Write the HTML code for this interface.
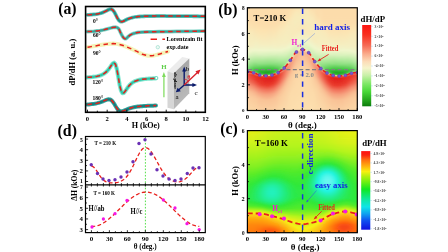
<!DOCTYPE html>
<html><head><meta charset="utf-8"><title>figure</title>
<style>
html,body{margin:0;padding:0;background:#fff;}
body{width:448px;height:252px;overflow:hidden;}
svg{display:block;}
text{font-family:"Liberation Serif",serif;font-weight:bold;fill:#000;}
.t{font-size:6.5px;}
.s{font-size:5px;}
.ax{font-size:8px;}
.pl{font-size:15.8px;}
</style></head><body>
<svg width="448" height="252" viewBox="0 0 448 252">
<defs>
<filter id="hx" x="-5%" y="-5%" width="110%" height="110%"><feGaussianBlur stdDeviation="1.3 0.4"/></filter>
<clipPath id="cb"><rect x="247.4" y="7.75" width="109.9" height="102.75"/></clipPath>
<clipPath id="cc"><rect x="247.4" y="130.6" width="109.9" height="102.1"/></clipPath>
<linearGradient id="gs" x1="0" y1="0" x2="0.3" y2="1"><stop offset="0" stop-color="#a0a0a0"/><stop offset="1" stop-color="#bcbcbc"/></linearGradient>
<linearGradient id="gb" x1="0" y1="0" x2="0" y2="1">
<stop offset="0" stop-color="#fc1410"/><stop offset="0.12" stop-color="#f8301f"/><stop offset="0.25" stop-color="#f66a54"/><stop offset="0.35" stop-color="#faa888"/>
<stop offset="0.45" stop-color="#fcdcb8"/><stop offset="0.53" stop-color="#f6f4cc"/><stop offset="0.62" stop-color="#c8f0a8"/><stop offset="0.72" stop-color="#80e868"/>
<stop offset="0.82" stop-color="#48d838"/><stop offset="0.92" stop-color="#26a81e"/><stop offset="1" stop-color="#0c7c0c"/>
</linearGradient>
<linearGradient id="gc" x1="0" y1="0" x2="0" y2="1">
<stop offset="0" stop-color="#ff1010"/><stop offset="0.05" stop-color="#fa2410"/><stop offset="0.11" stop-color="#ff6c10"/><stop offset="0.195" stop-color="#ffb410"/>
<stop offset="0.26" stop-color="#f8f010"/><stop offset="0.32" stop-color="#b4f010"/><stop offset="0.39" stop-color="#70f010"/><stop offset="0.485" stop-color="#10e820"/>
<stop offset="0.615" stop-color="#10e8a0"/><stop offset="0.71" stop-color="#10e4e8"/><stop offset="0.8" stop-color="#10a0f0"/><stop offset="0.885" stop-color="#1050f0"/><stop offset="1" stop-color="#1010e0"/>
</linearGradient>
<linearGradient id="p0" x1="0" y1="0" x2="0" y2="1"><stop offset="0" stop-color="#fcdcab"/><stop offset="0.134" stop-color="#fcddac"/><stop offset="0.242" stop-color="#f9e9b9"/><stop offset="0.362" stop-color="#f6edc0"/><stop offset="0.43" stop-color="#f0f5cb"/><stop offset="0.463" stop-color="#e1f3c1"/><stop offset="0.51" stop-color="#c3eeac"/><stop offset="0.584" stop-color="#86dd7a"/><stop offset="0.591" stop-color="#85dd79"/><stop offset="0.604" stop-color="#91e184"/><stop offset="0.611" stop-color="#aee99c"/><stop offset="0.617" stop-color="#f9e8b8"/><stop offset="0.624" stop-color="#f69d7c"/><stop offset="0.631" stop-color="#f2775f"/><stop offset="0.638" stop-color="#ef624e"/><stop offset="0.644" stop-color="#ee5442"/><stop offset="0.678" stop-color="#ef614d"/><stop offset="0.711" stop-color="#f2775f"/><stop offset="0.752" stop-color="#f69c7b"/><stop offset="0.805" stop-color="#f9c095"/><stop offset="0.866" stop-color="#facea0"/><stop offset="1" stop-color="#fcd9a9"/></linearGradient><linearGradient id="p1" x1="0" y1="0" x2="0" y2="1"><stop offset="0" stop-color="#fcdcab"/><stop offset="0.134" stop-color="#fcddac"/><stop offset="0.242" stop-color="#f9e9b9"/><stop offset="0.362" stop-color="#f6edc0"/><stop offset="0.43" stop-color="#f0f5cb"/><stop offset="0.463" stop-color="#e1f3c1"/><stop offset="0.51" stop-color="#c3eeac"/><stop offset="0.584" stop-color="#86dd7a"/><stop offset="0.591" stop-color="#85dd79"/><stop offset="0.604" stop-color="#91e184"/><stop offset="0.611" stop-color="#aee99c"/><stop offset="0.617" stop-color="#f9e8b8"/><stop offset="0.624" stop-color="#f69d7c"/><stop offset="0.631" stop-color="#f2775f"/><stop offset="0.638" stop-color="#ef624e"/><stop offset="0.644" stop-color="#ee5442"/><stop offset="0.678" stop-color="#ef614d"/><stop offset="0.711" stop-color="#f2775f"/><stop offset="0.752" stop-color="#f69c7b"/><stop offset="0.805" stop-color="#f9c095"/><stop offset="0.866" stop-color="#facea0"/><stop offset="1" stop-color="#fcd9a9"/></linearGradient><linearGradient id="p2" x1="0" y1="0" x2="0" y2="1"><stop offset="0" stop-color="#fcdcab"/><stop offset="0.134" stop-color="#fcddac"/><stop offset="0.242" stop-color="#f9e9b9"/><stop offset="0.362" stop-color="#f6edc0"/><stop offset="0.43" stop-color="#f0f6cc"/><stop offset="0.463" stop-color="#dff3c0"/><stop offset="0.51" stop-color="#bfeda9"/><stop offset="0.591" stop-color="#7ad971"/><stop offset="0.604" stop-color="#8ade7d"/><stop offset="0.611" stop-color="#9be38c"/><stop offset="0.617" stop-color="#f2f2c7"/><stop offset="0.624" stop-color="#f8b089"/><stop offset="0.631" stop-color="#f2775f"/><stop offset="0.644" stop-color="#ed4f3d"/><stop offset="0.678" stop-color="#ef5c48"/><stop offset="0.711" stop-color="#f2725b"/><stop offset="0.752" stop-color="#f69778"/><stop offset="0.812" stop-color="#f9c195"/><stop offset="0.866" stop-color="#facd9f"/><stop offset="1" stop-color="#fcd9a9"/></linearGradient><linearGradient id="p3" x1="0" y1="0" x2="0" y2="1"><stop offset="0" stop-color="#fcdcab"/><stop offset="0.134" stop-color="#fcddac"/><stop offset="0.188" stop-color="#fde2b0"/><stop offset="0.248" stop-color="#f9e9b9"/><stop offset="0.369" stop-color="#f5eec1"/><stop offset="0.423" stop-color="#f0f6cc"/><stop offset="0.463" stop-color="#dbf2bd"/><stop offset="0.517" stop-color="#b3eaa0"/><stop offset="0.564" stop-color="#8adf7e"/><stop offset="0.591" stop-color="#68d362"/><stop offset="0.611" stop-color="#7edb74"/><stop offset="0.617" stop-color="#c1eeaa"/><stop offset="0.624" stop-color="#fbd2a3"/><stop offset="0.631" stop-color="#f27960"/><stop offset="0.644" stop-color="#ec4c3b"/><stop offset="0.651" stop-color="#ec4636"/><stop offset="0.685" stop-color="#ee5442"/><stop offset="0.718" stop-color="#f16c56"/><stop offset="0.758" stop-color="#f59476"/><stop offset="0.805" stop-color="#f8b98f"/><stop offset="0.826" stop-color="#f9c296"/><stop offset="0.866" stop-color="#facc9e"/><stop offset="1" stop-color="#fcd8a8"/></linearGradient><linearGradient id="p4" x1="0" y1="0" x2="0" y2="1"><stop offset="0" stop-color="#fcdcab"/><stop offset="0.141" stop-color="#fcddac"/><stop offset="0.188" stop-color="#fde1b0"/><stop offset="0.248" stop-color="#f9e9b9"/><stop offset="0.369" stop-color="#f5efc2"/><stop offset="0.416" stop-color="#f0f6cc"/><stop offset="0.463" stop-color="#d7f1ba"/><stop offset="0.517" stop-color="#aee99c"/><stop offset="0.557" stop-color="#88de7c"/><stop offset="0.591" stop-color="#5bcf57"/><stop offset="0.597" stop-color="#56cd52"/><stop offset="0.611" stop-color="#69d462"/><stop offset="0.617" stop-color="#81dc76"/><stop offset="0.624" stop-color="#eff6cb"/><stop offset="0.631" stop-color="#f7a883"/><stop offset="0.638" stop-color="#f06752"/><stop offset="0.651" stop-color="#ea3a2c"/><stop offset="0.691" stop-color="#ed4d3c"/><stop offset="0.725" stop-color="#f06752"/><stop offset="0.758" stop-color="#f58b6f"/><stop offset="0.805" stop-color="#f8b28b"/><stop offset="0.832" stop-color="#f9c095"/><stop offset="0.872" stop-color="#facb9d"/><stop offset="1" stop-color="#fcd8a7"/></linearGradient><linearGradient id="p5" x1="0" y1="0" x2="0" y2="1"><stop offset="0" stop-color="#fcdcab"/><stop offset="0.148" stop-color="#fcddac"/><stop offset="0.376" stop-color="#f4f0c3"/><stop offset="0.416" stop-color="#eff6cb"/><stop offset="0.47" stop-color="#d0f0b5"/><stop offset="0.523" stop-color="#a5e694"/><stop offset="0.57" stop-color="#70d668"/><stop offset="0.597" stop-color="#46c845"/><stop offset="0.604" stop-color="#46c845"/><stop offset="0.617" stop-color="#5bcf56"/><stop offset="0.624" stop-color="#91e083"/><stop offset="0.631" stop-color="#fae6b6"/><stop offset="0.638" stop-color="#f48268"/><stop offset="0.644" stop-color="#ee5a46"/><stop offset="0.651" stop-color="#eb4132"/><stop offset="0.658" stop-color="#e83529"/><stop offset="0.691" stop-color="#eb4131"/><stop offset="0.732" stop-color="#ef614d"/><stop offset="0.765" stop-color="#f4876c"/><stop offset="0.812" stop-color="#f8b089"/><stop offset="0.846" stop-color="#f9c196"/><stop offset="0.879" stop-color="#faca9c"/><stop offset="1" stop-color="#fcd7a7"/></linearGradient><linearGradient id="p6" x1="0" y1="0" x2="0" y2="1"><stop offset="0" stop-color="#fcdcab"/><stop offset="0.154" stop-color="#fcddac"/><stop offset="0.208" stop-color="#fde2b0"/><stop offset="0.416" stop-color="#eff6cb"/><stop offset="0.45" stop-color="#def3bf"/><stop offset="0.53" stop-color="#9fe58f"/><stop offset="0.577" stop-color="#64d25e"/><stop offset="0.597" stop-color="#43c742"/><stop offset="0.611" stop-color="#39bf3a"/><stop offset="0.624" stop-color="#49c947"/><stop offset="0.631" stop-color="#6ad463"/><stop offset="0.638" stop-color="#edf5ca"/><stop offset="0.644" stop-color="#f69b7a"/><stop offset="0.651" stop-color="#ee5845"/><stop offset="0.658" stop-color="#eb3e30"/><stop offset="0.664" stop-color="#e63026"/><stop offset="0.705" stop-color="#ea3c2e"/><stop offset="0.738" stop-color="#ee5946"/><stop offset="0.779" stop-color="#f4876c"/><stop offset="0.819" stop-color="#f7ab86"/><stop offset="0.859" stop-color="#f9c196"/><stop offset="0.886" stop-color="#fac99b"/><stop offset="1" stop-color="#fbd5a6"/></linearGradient><linearGradient id="p7" x1="0" y1="0" x2="0" y2="1"><stop offset="0" stop-color="#fcdcab"/><stop offset="0.161" stop-color="#fcddac"/><stop offset="0.215" stop-color="#fde2b0"/><stop offset="0.389" stop-color="#f3f1c5"/><stop offset="0.416" stop-color="#f0f6cc"/><stop offset="0.456" stop-color="#dcf2bd"/><stop offset="0.537" stop-color="#99e38a"/><stop offset="0.557" stop-color="#80db75"/><stop offset="0.597" stop-color="#42c742"/><stop offset="0.617" stop-color="#30b632"/><stop offset="0.638" stop-color="#44c743"/><stop offset="0.644" stop-color="#c9efb0"/><stop offset="0.651" stop-color="#f8b58d"/><stop offset="0.658" stop-color="#ee5744"/><stop offset="0.664" stop-color="#ea3c2e"/><stop offset="0.671" stop-color="#e52d24"/><stop offset="0.678" stop-color="#e52d24"/><stop offset="0.718" stop-color="#ea3a2c"/><stop offset="0.745" stop-color="#ed513f"/><stop offset="0.785" stop-color="#f48168"/><stop offset="0.826" stop-color="#f7a682"/><stop offset="0.872" stop-color="#f9c296"/><stop offset="1" stop-color="#fbd4a5"/></linearGradient><linearGradient id="p8" x1="0" y1="0" x2="0" y2="1"><stop offset="0" stop-color="#fcdcab"/><stop offset="0.161" stop-color="#fcddac"/><stop offset="0.215" stop-color="#fde2b0"/><stop offset="0.349" stop-color="#f6edbf"/><stop offset="0.416" stop-color="#f0f6cc"/><stop offset="0.456" stop-color="#dcf2be"/><stop offset="0.544" stop-color="#91e183"/><stop offset="0.597" stop-color="#3fc53f"/><stop offset="0.617" stop-color="#2db32f"/><stop offset="0.624" stop-color="#2cb22e"/><stop offset="0.638" stop-color="#38be39"/><stop offset="0.644" stop-color="#67d360"/><stop offset="0.651" stop-color="#f4efc2"/><stop offset="0.658" stop-color="#f38067"/><stop offset="0.664" stop-color="#ec4838"/><stop offset="0.671" stop-color="#e73328"/><stop offset="0.678" stop-color="#e32921"/><stop offset="0.732" stop-color="#ea3b2d"/><stop offset="0.752" stop-color="#ed4e3d"/><stop offset="0.785" stop-color="#f27960"/><stop offset="0.832" stop-color="#f7a682"/><stop offset="0.879" stop-color="#f9c196"/><stop offset="1" stop-color="#fbd3a4"/></linearGradient><linearGradient id="p9" x1="0" y1="0" x2="0" y2="1"><stop offset="0" stop-color="#fcdcab"/><stop offset="0.168" stop-color="#fcddac"/><stop offset="0.221" stop-color="#fde2b0"/><stop offset="0.356" stop-color="#f6edc0"/><stop offset="0.416" stop-color="#f0f6cc"/><stop offset="0.456" stop-color="#dbf2bd"/><stop offset="0.497" stop-color="#baeca5"/><stop offset="0.544" stop-color="#8fe082"/><stop offset="0.597" stop-color="#3ec43e"/><stop offset="0.624" stop-color="#25ab28"/><stop offset="0.644" stop-color="#37bd38"/><stop offset="0.651" stop-color="#b0ea9e"/><stop offset="0.658" stop-color="#f9c196"/><stop offset="0.664" stop-color="#ed503f"/><stop offset="0.671" stop-color="#e9372a"/><stop offset="0.678" stop-color="#e32821"/><stop offset="0.685" stop-color="#e22620"/><stop offset="0.738" stop-color="#ea3a2c"/><stop offset="0.752" stop-color="#ec4636"/><stop offset="0.792" stop-color="#f37961"/><stop offset="0.832" stop-color="#f6a07e"/><stop offset="0.886" stop-color="#f9c296"/><stop offset="1" stop-color="#fbd2a3"/></linearGradient><linearGradient id="p10" x1="0" y1="0" x2="0" y2="1"><stop offset="0" stop-color="#fcdcab"/><stop offset="0.168" stop-color="#fcddac"/><stop offset="0.221" stop-color="#fde2b0"/><stop offset="0.356" stop-color="#f6edc0"/><stop offset="0.416" stop-color="#f0f6cc"/><stop offset="0.463" stop-color="#d6f1ba"/><stop offset="0.544" stop-color="#8ee081"/><stop offset="0.591" stop-color="#44c744"/><stop offset="0.624" stop-color="#23a926"/><stop offset="0.631" stop-color="#25ab28"/><stop offset="0.644" stop-color="#32b833"/><stop offset="0.651" stop-color="#84dd79"/><stop offset="0.658" stop-color="#fcd9a9"/><stop offset="0.664" stop-color="#ee5543"/><stop offset="0.671" stop-color="#ea392c"/><stop offset="0.678" stop-color="#e42a22"/><stop offset="0.685" stop-color="#e1241e"/><stop offset="0.718" stop-color="#e52d24"/><stop offset="0.745" stop-color="#ea3a2c"/><stop offset="0.792" stop-color="#f2745d"/><stop offset="0.839" stop-color="#f7a380"/><stop offset="0.886" stop-color="#f9c094"/><stop offset="0.899" stop-color="#f9c598"/><stop offset="1" stop-color="#fbd2a3"/></linearGradient><linearGradient id="p11" x1="0" y1="0" x2="0" y2="1"><stop offset="0" stop-color="#fcdcab"/><stop offset="0.168" stop-color="#fcddac"/><stop offset="0.221" stop-color="#fde2b0"/><stop offset="0.356" stop-color="#f6edc0"/><stop offset="0.416" stop-color="#eff6cc"/><stop offset="0.463" stop-color="#d6f1b9"/><stop offset="0.544" stop-color="#8cdf80"/><stop offset="0.591" stop-color="#42c741"/><stop offset="0.624" stop-color="#21a725"/><stop offset="0.631" stop-color="#22a826"/><stop offset="0.644" stop-color="#2fb531"/><stop offset="0.651" stop-color="#7ad970"/><stop offset="0.658" stop-color="#fcddac"/><stop offset="0.664" stop-color="#ee5845"/><stop offset="0.671" stop-color="#ea392b"/><stop offset="0.678" stop-color="#e42a22"/><stop offset="0.685" stop-color="#e1221d"/><stop offset="0.718" stop-color="#e42b23"/><stop offset="0.752" stop-color="#ea3e2f"/><stop offset="0.792" stop-color="#f2725b"/><stop offset="0.839" stop-color="#f6a27f"/><stop offset="0.893" stop-color="#f9c296"/><stop offset="1" stop-color="#fbd2a3"/></linearGradient><linearGradient id="p12" x1="0" y1="0" x2="0" y2="1"><stop offset="0" stop-color="#fcdcab"/><stop offset="0.174" stop-color="#fcddac"/><stop offset="0.356" stop-color="#f6edc0"/><stop offset="0.416" stop-color="#eff6cb"/><stop offset="0.463" stop-color="#d4f1b8"/><stop offset="0.544" stop-color="#8bdf7e"/><stop offset="0.591" stop-color="#40c640"/><stop offset="0.624" stop-color="#20a623"/><stop offset="0.644" stop-color="#31b733"/><stop offset="0.651" stop-color="#9be38c"/><stop offset="0.658" stop-color="#facb9d"/><stop offset="0.664" stop-color="#ed4d3c"/><stop offset="0.671" stop-color="#e83529"/><stop offset="0.678" stop-color="#e2251f"/><stop offset="0.685" stop-color="#e1211d"/><stop offset="0.718" stop-color="#e42b23"/><stop offset="0.752" stop-color="#eb3e2f"/><stop offset="0.792" stop-color="#f2735c"/><stop offset="0.839" stop-color="#f6a280"/><stop offset="0.886" stop-color="#f9bf94"/><stop offset="0.899" stop-color="#f9c598"/><stop offset="1" stop-color="#fbd2a3"/></linearGradient><linearGradient id="p13" x1="0" y1="0" x2="0" y2="1"><stop offset="0" stop-color="#fcdcab"/><stop offset="0.168" stop-color="#fcddac"/><stop offset="0.349" stop-color="#f6edbf"/><stop offset="0.416" stop-color="#eef6cb"/><stop offset="0.456" stop-color="#d9f2bb"/><stop offset="0.497" stop-color="#b6eba2"/><stop offset="0.544" stop-color="#8bdf7e"/><stop offset="0.591" stop-color="#40c640"/><stop offset="0.624" stop-color="#23a926"/><stop offset="0.638" stop-color="#30b632"/><stop offset="0.644" stop-color="#40c640"/><stop offset="0.651" stop-color="#ddf3be"/><stop offset="0.658" stop-color="#f59375"/><stop offset="0.664" stop-color="#eb4232"/><stop offset="0.678" stop-color="#e0201c"/><stop offset="0.711" stop-color="#e42a22"/><stop offset="0.745" stop-color="#ea3a2c"/><stop offset="0.785" stop-color="#f16e58"/><stop offset="0.832" stop-color="#f69f7d"/><stop offset="0.886" stop-color="#f9c195"/><stop offset="1" stop-color="#fbd2a3"/></linearGradient><linearGradient id="p14" x1="0" y1="0" x2="0" y2="1"><stop offset="0" stop-color="#fcdcab"/><stop offset="0.168" stop-color="#fcddac"/><stop offset="0.349" stop-color="#f6edc0"/><stop offset="0.416" stop-color="#eef6cb"/><stop offset="0.456" stop-color="#d9f2bc"/><stop offset="0.537" stop-color="#93e185"/><stop offset="0.55" stop-color="#82dc77"/><stop offset="0.591" stop-color="#43c743"/><stop offset="0.617" stop-color="#29af2c"/><stop offset="0.638" stop-color="#38be39"/><stop offset="0.644" stop-color="#97e288"/><stop offset="0.651" stop-color="#fbd2a3"/><stop offset="0.658" stop-color="#ed5341"/><stop offset="0.664" stop-color="#e9382b"/><stop offset="0.671" stop-color="#e32922"/><stop offset="0.678" stop-color="#e1241e"/><stop offset="0.711" stop-color="#e52d24"/><stop offset="0.738" stop-color="#ea3b2d"/><stop offset="0.785" stop-color="#f2755e"/><stop offset="0.832" stop-color="#f7a481"/><stop offset="0.879" stop-color="#f9c095"/><stop offset="0.893" stop-color="#f9c599"/><stop offset="1" stop-color="#fbd3a4"/></linearGradient><linearGradient id="p15" x1="0" y1="0" x2="0" y2="1"><stop offset="0" stop-color="#fcdcab"/><stop offset="0.154" stop-color="#fcddac"/><stop offset="0.208" stop-color="#fde2b0"/><stop offset="0.383" stop-color="#f4f1c4"/><stop offset="0.409" stop-color="#f0f6cb"/><stop offset="0.45" stop-color="#def3bf"/><stop offset="0.53" stop-color="#9be48c"/><stop offset="0.55" stop-color="#84dd79"/><stop offset="0.597" stop-color="#3ec43e"/><stop offset="0.611" stop-color="#32b834"/><stop offset="0.631" stop-color="#3fc53f"/><stop offset="0.638" stop-color="#90e083"/><stop offset="0.644" stop-color="#fcdbab"/><stop offset="0.651" stop-color="#ef5d49"/><stop offset="0.658" stop-color="#eb4132"/><stop offset="0.664" stop-color="#e62f25"/><stop offset="0.671" stop-color="#e32821"/><stop offset="0.725" stop-color="#ea3b2d"/><stop offset="0.745" stop-color="#ed4f3e"/><stop offset="0.779" stop-color="#f37961"/><stop offset="0.826" stop-color="#f7a783"/><stop offset="0.872" stop-color="#f9c296"/><stop offset="1" stop-color="#fbd4a5"/></linearGradient><linearGradient id="p16" x1="0" y1="0" x2="0" y2="1"><stop offset="0" stop-color="#fcdcab"/><stop offset="0.154" stop-color="#fcddac"/><stop offset="0.376" stop-color="#f4f0c3"/><stop offset="0.416" stop-color="#eef6cb"/><stop offset="0.443" stop-color="#e1f3c2"/><stop offset="0.523" stop-color="#a3e692"/><stop offset="0.55" stop-color="#86dd7a"/><stop offset="0.577" stop-color="#62d15c"/><stop offset="0.597" stop-color="#41c641"/><stop offset="0.604" stop-color="#3bc13c"/><stop offset="0.611" stop-color="#3fc53f"/><stop offset="0.624" stop-color="#54cd50"/><stop offset="0.631" stop-color="#b6eba2"/><stop offset="0.638" stop-color="#fac99c"/><stop offset="0.644" stop-color="#ef5f4b"/><stop offset="0.651" stop-color="#eb4535"/><stop offset="0.658" stop-color="#e73227"/><stop offset="0.664" stop-color="#e62f25"/><stop offset="0.705" stop-color="#ea3c2e"/><stop offset="0.732" stop-color="#ed5341"/><stop offset="0.772" stop-color="#f48268"/><stop offset="0.812" stop-color="#f7a783"/><stop offset="0.859" stop-color="#f9c296"/><stop offset="1" stop-color="#fbd5a6"/></linearGradient><linearGradient id="p17" x1="0" y1="0" x2="0" y2="1"><stop offset="0" stop-color="#fcdcab"/><stop offset="0.141" stop-color="#fcddac"/><stop offset="0.248" stop-color="#f9e9b9"/><stop offset="0.369" stop-color="#f4efc2"/><stop offset="0.416" stop-color="#eff6cb"/><stop offset="0.463" stop-color="#d4f1b8"/><stop offset="0.517" stop-color="#abe899"/><stop offset="0.557" stop-color="#82dc77"/><stop offset="0.591" stop-color="#53cc50"/><stop offset="0.597" stop-color="#4fcb4d"/><stop offset="0.611" stop-color="#63d25d"/><stop offset="0.617" stop-color="#87de7b"/><stop offset="0.624" stop-color="#f3f1c5"/><stop offset="0.631" stop-color="#f69878"/><stop offset="0.638" stop-color="#ef5f4b"/><stop offset="0.644" stop-color="#ec4737"/><stop offset="0.651" stop-color="#e9362a"/><stop offset="0.691" stop-color="#ec4737"/><stop offset="0.725" stop-color="#ef624d"/><stop offset="0.758" stop-color="#f4886c"/><stop offset="0.805" stop-color="#f8b089"/><stop offset="0.839" stop-color="#f9c296"/><stop offset="0.872" stop-color="#faca9c"/><stop offset="1" stop-color="#fcd7a7"/></linearGradient><linearGradient id="p18" x1="0" y1="0" x2="0" y2="1"><stop offset="0" stop-color="#fcdcab"/><stop offset="0.128" stop-color="#fcddac"/><stop offset="0.235" stop-color="#f9e8b9"/><stop offset="0.356" stop-color="#f5eec1"/><stop offset="0.416" stop-color="#eff6cb"/><stop offset="0.456" stop-color="#d9f2bb"/><stop offset="0.503" stop-color="#b6eba2"/><stop offset="0.55" stop-color="#8ee081"/><stop offset="0.584" stop-color="#67d360"/><stop offset="0.597" stop-color="#78d96f"/><stop offset="0.604" stop-color="#86dd7a"/><stop offset="0.611" stop-color="#e8f5c7"/><stop offset="0.617" stop-color="#f8b78e"/><stop offset="0.624" stop-color="#f1705a"/><stop offset="0.638" stop-color="#eb4434"/><stop offset="0.678" stop-color="#ee5543"/><stop offset="0.711" stop-color="#f16e57"/><stop offset="0.752" stop-color="#f59677"/><stop offset="0.792" stop-color="#f8b58d"/><stop offset="0.812" stop-color="#f9c095"/><stop offset="0.859" stop-color="#facc9e"/><stop offset="1" stop-color="#fcd9a9"/></linearGradient><linearGradient id="p19" x1="0" y1="0" x2="0" y2="1"><stop offset="0" stop-color="#fcdcab"/><stop offset="0.161" stop-color="#fde2b0"/><stop offset="0.221" stop-color="#f9e9b9"/><stop offset="0.342" stop-color="#f6edc0"/><stop offset="0.409" stop-color="#f0f6cc"/><stop offset="0.443" stop-color="#e0f3c1"/><stop offset="0.49" stop-color="#c1eeaa"/><stop offset="0.537" stop-color="#9ce48d"/><stop offset="0.564" stop-color="#82dc77"/><stop offset="0.57" stop-color="#81dc76"/><stop offset="0.584" stop-color="#8ee081"/><stop offset="0.591" stop-color="#a9e897"/><stop offset="0.597" stop-color="#f8eabb"/><stop offset="0.604" stop-color="#f6a380"/><stop offset="0.611" stop-color="#f37961"/><stop offset="0.624" stop-color="#ee5643"/><stop offset="0.658" stop-color="#ef624e"/><stop offset="0.691" stop-color="#f27860"/><stop offset="0.732" stop-color="#f69c7b"/><stop offset="0.785" stop-color="#f9c195"/><stop offset="0.846" stop-color="#fbcea0"/><stop offset="1" stop-color="#fcdaaa"/></linearGradient><linearGradient id="p20" x1="0" y1="0" x2="0" y2="1"><stop offset="0" stop-color="#fcdcac"/><stop offset="0.094" stop-color="#fcddac"/><stop offset="0.148" stop-color="#fde2b0"/><stop offset="0.208" stop-color="#f9e9b9"/><stop offset="0.369" stop-color="#f4f0c3"/><stop offset="0.403" stop-color="#f1f5cb"/><stop offset="0.47" stop-color="#cff0b4"/><stop offset="0.55" stop-color="#92e185"/><stop offset="0.57" stop-color="#a2e692"/><stop offset="0.577" stop-color="#e6f4c5"/><stop offset="0.584" stop-color="#facc9e"/><stop offset="0.591" stop-color="#f58e71"/><stop offset="0.604" stop-color="#f16a54"/><stop offset="0.611" stop-color="#f06953"/><stop offset="0.644" stop-color="#f2755d"/><stop offset="0.678" stop-color="#f4886d"/><stop offset="0.718" stop-color="#f7a985"/><stop offset="0.758" stop-color="#f9c296"/><stop offset="0.826" stop-color="#fbd0a1"/><stop offset="1" stop-color="#fcdbab"/></linearGradient><linearGradient id="p21" x1="0" y1="0" x2="0" y2="1"><stop offset="0" stop-color="#fcddac"/><stop offset="0.074" stop-color="#fcddac"/><stop offset="0.181" stop-color="#f9e9b9"/><stop offset="0.349" stop-color="#f5eec1"/><stop offset="0.396" stop-color="#f1f5cb"/><stop offset="0.45" stop-color="#d9f2bb"/><stop offset="0.53" stop-color="#a4e693"/><stop offset="0.544" stop-color="#ade99b"/><stop offset="0.55" stop-color="#baeca5"/><stop offset="0.557" stop-color="#f6edbf"/><stop offset="0.564" stop-color="#f9c296"/><stop offset="0.57" stop-color="#f59677"/><stop offset="0.584" stop-color="#f27860"/><stop offset="0.624" stop-color="#f4856b"/><stop offset="0.658" stop-color="#f69777"/><stop offset="0.698" stop-color="#f8b48c"/><stop offset="0.738" stop-color="#fac69a"/><stop offset="0.805" stop-color="#fbd2a3"/><stop offset="1" stop-color="#fcdcab"/></linearGradient><linearGradient id="p22" x1="0" y1="0" x2="0" y2="1"><stop offset="0" stop-color="#fcddac"/><stop offset="0.101" stop-color="#fde2b0"/><stop offset="0.154" stop-color="#f9e8b9"/><stop offset="0.215" stop-color="#f7ebbd"/><stop offset="0.329" stop-color="#f6edbf"/><stop offset="0.383" stop-color="#f1f5ca"/><stop offset="0.389" stop-color="#f0f6cc"/><stop offset="0.423" stop-color="#e2f4c2"/><stop offset="0.503" stop-color="#b1ea9e"/><stop offset="0.523" stop-color="#bdeda8"/><stop offset="0.53" stop-color="#f3f2c6"/><stop offset="0.537" stop-color="#facd9f"/><stop offset="0.544" stop-color="#f7a581"/><stop offset="0.557" stop-color="#f4886d"/><stop offset="0.564" stop-color="#f4886d"/><stop offset="0.597" stop-color="#f59274"/><stop offset="0.631" stop-color="#f6a27f"/><stop offset="0.685" stop-color="#f9c296"/><stop offset="0.718" stop-color="#facb9d"/><stop offset="0.846" stop-color="#fcd8a8"/><stop offset="1" stop-color="#fcddac"/></linearGradient><linearGradient id="p23" x1="0" y1="0" x2="0" y2="1"><stop offset="0" stop-color="#fcddac"/><stop offset="0.074" stop-color="#fde2b0"/><stop offset="0.134" stop-color="#f9e9b9"/><stop offset="0.309" stop-color="#f7ebbd"/><stop offset="0.376" stop-color="#f0f6cb"/><stop offset="0.403" stop-color="#e7f4c5"/><stop offset="0.477" stop-color="#bdeda8"/><stop offset="0.497" stop-color="#c9efb0"/><stop offset="0.503" stop-color="#f1f4c9"/><stop offset="0.51" stop-color="#fbd5a6"/><stop offset="0.517" stop-color="#f8b18a"/><stop offset="0.53" stop-color="#f69878"/><stop offset="0.537" stop-color="#f59576"/><stop offset="0.604" stop-color="#f7ab86"/><stop offset="0.644" stop-color="#f9c296"/><stop offset="0.691" stop-color="#facd9f"/><stop offset="0.826" stop-color="#fcdaa9"/><stop offset="1" stop-color="#fddead"/></linearGradient><linearGradient id="p24" x1="0" y1="0" x2="0" y2="1"><stop offset="0" stop-color="#fcdeac"/><stop offset="0.107" stop-color="#f9e9ba"/><stop offset="0.282" stop-color="#f8eabc"/><stop offset="0.362" stop-color="#f0f6cb"/><stop offset="0.45" stop-color="#c9efb0"/><stop offset="0.463" stop-color="#d0f0b5"/><stop offset="0.47" stop-color="#d9f2bc"/><stop offset="0.477" stop-color="#f8eabb"/><stop offset="0.483" stop-color="#facc9f"/><stop offset="0.49" stop-color="#f8b68d"/><stop offset="0.503" stop-color="#f69f7d"/><stop offset="0.544" stop-color="#f7a984"/><stop offset="0.604" stop-color="#f9c397"/><stop offset="0.664" stop-color="#fbcfa1"/><stop offset="0.799" stop-color="#fcdbaa"/><stop offset="1" stop-color="#fddfad"/></linearGradient><linearGradient id="p25" x1="0" y1="0" x2="0" y2="1"><stop offset="0" stop-color="#fde0af"/><stop offset="0.074" stop-color="#f9e9b9"/><stop offset="0.134" stop-color="#f7ebbc"/><stop offset="0.255" stop-color="#f8eabb"/><stop offset="0.336" stop-color="#f2f4c9"/><stop offset="0.349" stop-color="#f0f6cc"/><stop offset="0.416" stop-color="#d2f1b7"/><stop offset="0.436" stop-color="#d9f2bc"/><stop offset="0.443" stop-color="#ecf5c9"/><stop offset="0.45" stop-color="#fde2b1"/><stop offset="0.456" stop-color="#f9c599"/><stop offset="0.47" stop-color="#f7af89"/><stop offset="0.477" stop-color="#f7a984"/><stop offset="0.51" stop-color="#f7af89"/><stop offset="0.584" stop-color="#fac89b"/><stop offset="0.691" stop-color="#fcd7a7"/><stop offset="1" stop-color="#fddfae"/></linearGradient><linearGradient id="p26" x1="0" y1="0" x2="0" y2="1"><stop offset="0" stop-color="#fde2b0"/><stop offset="0.054" stop-color="#f9e9b9"/><stop offset="0.114" stop-color="#f7ebbc"/><stop offset="0.235" stop-color="#f9e9ba"/><stop offset="0.315" stop-color="#f3f2c6"/><stop offset="0.342" stop-color="#eff6cb"/><stop offset="0.403" stop-color="#d8f2bb"/><stop offset="0.416" stop-color="#def3bf"/><stop offset="0.423" stop-color="#edf5ca"/><stop offset="0.43" stop-color="#fce4b3"/><stop offset="0.436" stop-color="#faca9c"/><stop offset="0.456" stop-color="#f8b089"/><stop offset="0.564" stop-color="#faca9c"/><stop offset="0.671" stop-color="#fcd8a8"/><stop offset="1" stop-color="#fde0ae"/></linearGradient><linearGradient id="p27" x1="0" y1="0" x2="0" y2="1"><stop offset="0" stop-color="#fce4b2"/><stop offset="0.101" stop-color="#f7ebbc"/><stop offset="0.221" stop-color="#f9e8b9"/><stop offset="0.309" stop-color="#f3f1c6"/><stop offset="0.336" stop-color="#f0f6cc"/><stop offset="0.389" stop-color="#dcf2be"/><stop offset="0.409" stop-color="#e8f5c6"/><stop offset="0.416" stop-color="#f9e8b9"/><stop offset="0.423" stop-color="#fbd2a3"/><stop offset="0.43" stop-color="#f9c498"/><stop offset="0.443" stop-color="#f8b58d"/><stop offset="0.557" stop-color="#facc9e"/><stop offset="0.658" stop-color="#fcd9a8"/><stop offset="1" stop-color="#fde0ae"/></linearGradient><linearGradient id="p28" x1="0" y1="0" x2="0" y2="1"><stop offset="0" stop-color="#fbe5b4"/><stop offset="0.094" stop-color="#f7ebbc"/><stop offset="0.215" stop-color="#f9e8b8"/><stop offset="0.329" stop-color="#f0f6cb"/><stop offset="0.376" stop-color="#e0f3c0"/><stop offset="0.396" stop-color="#e5f4c4"/><stop offset="0.403" stop-color="#f2f3c8"/><stop offset="0.409" stop-color="#fde2b0"/><stop offset="0.416" stop-color="#facb9d"/><stop offset="0.436" stop-color="#f8ba90"/><stop offset="0.591" stop-color="#fbd4a5"/><stop offset="0.651" stop-color="#fcd9a9"/><stop offset="1" stop-color="#fde0ae"/></linearGradient><linearGradient id="p29" x1="0" y1="0" x2="0" y2="1"><stop offset="0" stop-color="#fbe5b4"/><stop offset="0.087" stop-color="#f7ebbc"/><stop offset="0.208" stop-color="#f9e8b8"/><stop offset="0.248" stop-color="#f7ebbc"/><stop offset="0.329" stop-color="#f0f5cb"/><stop offset="0.376" stop-color="#e1f3c1"/><stop offset="0.396" stop-color="#e8f5c7"/><stop offset="0.403" stop-color="#f8eabb"/><stop offset="0.409" stop-color="#fbd6a6"/><stop offset="0.416" stop-color="#fac89b"/><stop offset="0.43" stop-color="#f9bd92"/><stop offset="0.651" stop-color="#fcdaaa"/><stop offset="1" stop-color="#fde0af"/></linearGradient><linearGradient id="p30" x1="0" y1="0" x2="0" y2="1"><stop offset="0" stop-color="#fbe5b4"/><stop offset="0.094" stop-color="#f7ebbc"/><stop offset="0.215" stop-color="#f9e8b8"/><stop offset="0.255" stop-color="#f7ebbd"/><stop offset="0.336" stop-color="#eff6cb"/><stop offset="0.383" stop-color="#e0f3c0"/><stop offset="0.396" stop-color="#e5f4c4"/><stop offset="0.403" stop-color="#f0f6cb"/><stop offset="0.409" stop-color="#fbe4b3"/><stop offset="0.416" stop-color="#face9f"/><stop offset="0.436" stop-color="#f8ba90"/><stop offset="0.591" stop-color="#fbd4a5"/><stop offset="0.651" stop-color="#fcd9a9"/><stop offset="1" stop-color="#fde0ae"/></linearGradient><linearGradient id="p31" x1="0" y1="0" x2="0" y2="1"><stop offset="0" stop-color="#fce3b2"/><stop offset="0.047" stop-color="#f9e9b9"/><stop offset="0.107" stop-color="#f7ebbc"/><stop offset="0.228" stop-color="#f9e8b9"/><stop offset="0.336" stop-color="#f0f6cb"/><stop offset="0.389" stop-color="#ddf3be"/><stop offset="0.409" stop-color="#e3f4c3"/><stop offset="0.416" stop-color="#f3f2c6"/><stop offset="0.423" stop-color="#fddfae"/><stop offset="0.43" stop-color="#fac79a"/><stop offset="0.45" stop-color="#f8b68d"/><stop offset="0.557" stop-color="#facc9e"/><stop offset="0.664" stop-color="#fcd9a9"/><stop offset="1" stop-color="#fde0ae"/></linearGradient><linearGradient id="p32" x1="0" y1="0" x2="0" y2="1"><stop offset="0" stop-color="#fde2b0"/><stop offset="0.06" stop-color="#f9e9b9"/><stop offset="0.121" stop-color="#f7ebbc"/><stop offset="0.242" stop-color="#f9e9ba"/><stop offset="0.322" stop-color="#f3f2c6"/><stop offset="0.349" stop-color="#eff6cb"/><stop offset="0.409" stop-color="#d9f2bb"/><stop offset="0.423" stop-color="#dff3c0"/><stop offset="0.43" stop-color="#edf5ca"/><stop offset="0.436" stop-color="#fce4b3"/><stop offset="0.443" stop-color="#faca9d"/><stop offset="0.463" stop-color="#f8b089"/><stop offset="0.57" stop-color="#faca9c"/><stop offset="0.678" stop-color="#fcd8a8"/><stop offset="1" stop-color="#fde0ae"/></linearGradient><linearGradient id="p33" x1="0" y1="0" x2="0" y2="1"><stop offset="0" stop-color="#fddfae"/><stop offset="0.141" stop-color="#f7ebbc"/><stop offset="0.262" stop-color="#f8e9ba"/><stop offset="0.349" stop-color="#f1f4c9"/><stop offset="0.362" stop-color="#eef6cb"/><stop offset="0.43" stop-color="#d2f1b6"/><stop offset="0.45" stop-color="#e0f3c0"/><stop offset="0.456" stop-color="#f8e9ba"/><stop offset="0.463" stop-color="#fbcfa1"/><stop offset="0.47" stop-color="#f9bd93"/><stop offset="0.483" stop-color="#f7a984"/><stop offset="0.523" stop-color="#f8b18a"/><stop offset="0.591" stop-color="#fac79a"/><stop offset="0.698" stop-color="#fcd7a7"/><stop offset="1" stop-color="#fddfae"/></linearGradient><linearGradient id="p34" x1="0" y1="0" x2="0" y2="1"><stop offset="0" stop-color="#fcddac"/><stop offset="0.114" stop-color="#f9e9b9"/><stop offset="0.295" stop-color="#f7eabc"/><stop offset="0.376" stop-color="#f0f6cc"/><stop offset="0.456" stop-color="#caefb1"/><stop offset="0.477" stop-color="#d3f1b7"/><stop offset="0.483" stop-color="#edf5ca"/><stop offset="0.49" stop-color="#fddfae"/><stop offset="0.497" stop-color="#f9bd92"/><stop offset="0.51" stop-color="#f7a682"/><stop offset="0.517" stop-color="#f6a07e"/><stop offset="0.55" stop-color="#f7a883"/><stop offset="0.611" stop-color="#f9c296"/><stop offset="0.671" stop-color="#fbcfa1"/><stop offset="0.805" stop-color="#fcdbaa"/><stop offset="1" stop-color="#fddfad"/></linearGradient><linearGradient id="p35" x1="0" y1="0" x2="0" y2="1"><stop offset="0" stop-color="#fcddac"/><stop offset="0.201" stop-color="#f7ebbd"/><stop offset="0.322" stop-color="#f7ecbd"/><stop offset="0.389" stop-color="#f0f6cc"/><stop offset="0.409" stop-color="#e9f5c7"/><stop offset="0.49" stop-color="#beeda9"/><stop offset="0.503" stop-color="#c7efaf"/><stop offset="0.51" stop-color="#d1f0b6"/><stop offset="0.517" stop-color="#f7ebbc"/><stop offset="0.523" stop-color="#faca9c"/><stop offset="0.53" stop-color="#f7ad87"/><stop offset="0.544" stop-color="#f59576"/><stop offset="0.584" stop-color="#f69f7d"/><stop offset="0.651" stop-color="#f9c195"/><stop offset="0.705" stop-color="#facd9f"/><stop offset="0.832" stop-color="#fcdaa9"/><stop offset="1" stop-color="#fcdead"/></linearGradient><linearGradient id="p36" x1="0" y1="0" x2="0" y2="1"><stop offset="0" stop-color="#fcddac"/><stop offset="0.06" stop-color="#fcddac"/><stop offset="0.221" stop-color="#f7ebbc"/><stop offset="0.336" stop-color="#f6ecbe"/><stop offset="0.396" stop-color="#f0f5cb"/><stop offset="0.436" stop-color="#e1f3c1"/><stop offset="0.51" stop-color="#b2ea9f"/><stop offset="0.53" stop-color="#bceda7"/><stop offset="0.537" stop-color="#dff3c0"/><stop offset="0.544" stop-color="#fddead"/><stop offset="0.55" stop-color="#f7ab86"/><stop offset="0.564" stop-color="#f58f72"/><stop offset="0.57" stop-color="#f4886d"/><stop offset="0.604" stop-color="#f59173"/><stop offset="0.638" stop-color="#f6a17e"/><stop offset="0.691" stop-color="#f9c196"/><stop offset="0.725" stop-color="#faca9d"/><stop offset="0.792" stop-color="#fbd4a5"/><stop offset="1" stop-color="#fcddac"/></linearGradient><linearGradient id="p37" x1="0" y1="0" x2="0" y2="1"><stop offset="0" stop-color="#fcddac"/><stop offset="0.081" stop-color="#fcddac"/><stop offset="0.188" stop-color="#f9e9b9"/><stop offset="0.356" stop-color="#f5eec1"/><stop offset="0.409" stop-color="#eff6cb"/><stop offset="0.456" stop-color="#d9f2bc"/><stop offset="0.53" stop-color="#a7e795"/><stop offset="0.537" stop-color="#a5e694"/><stop offset="0.55" stop-color="#aee99b"/><stop offset="0.557" stop-color="#beeda8"/><stop offset="0.564" stop-color="#f7ebbd"/><stop offset="0.57" stop-color="#f9be93"/><stop offset="0.577" stop-color="#f59677"/><stop offset="0.591" stop-color="#f27961"/><stop offset="0.631" stop-color="#f4866b"/><stop offset="0.664" stop-color="#f69878"/><stop offset="0.705" stop-color="#f8b58c"/><stop offset="0.745" stop-color="#fac79a"/><stop offset="0.812" stop-color="#fbd2a3"/><stop offset="1" stop-color="#fcdcab"/></linearGradient><linearGradient id="p38" x1="0" y1="0" x2="0" y2="1"><stop offset="0" stop-color="#fcdcac"/><stop offset="0.148" stop-color="#fde2b0"/><stop offset="0.208" stop-color="#f9e9b9"/><stop offset="0.376" stop-color="#f4f0c3"/><stop offset="0.409" stop-color="#f0f6cb"/><stop offset="0.477" stop-color="#cef0b4"/><stop offset="0.55" stop-color="#96e288"/><stop offset="0.557" stop-color="#95e287"/><stop offset="0.57" stop-color="#a0e590"/><stop offset="0.577" stop-color="#b5eba2"/><stop offset="0.584" stop-color="#f8e9ba"/><stop offset="0.591" stop-color="#f7ae88"/><stop offset="0.597" stop-color="#f4886d"/><stop offset="0.611" stop-color="#f06853"/><stop offset="0.644" stop-color="#f2735c"/><stop offset="0.678" stop-color="#f4876c"/><stop offset="0.718" stop-color="#f7a783"/><stop offset="0.765" stop-color="#f9c397"/><stop offset="0.832" stop-color="#fbd0a2"/><stop offset="1" stop-color="#fcdbab"/></linearGradient><linearGradient id="p39" x1="0" y1="0" x2="0" y2="1"><stop offset="0" stop-color="#fcdcab"/><stop offset="0.121" stop-color="#fcddac"/><stop offset="0.228" stop-color="#f9e9b9"/><stop offset="0.349" stop-color="#f6edc0"/><stop offset="0.409" stop-color="#f1f5ca"/><stop offset="0.443" stop-color="#e2f4c2"/><stop offset="0.49" stop-color="#c4eead"/><stop offset="0.544" stop-color="#9ae38b"/><stop offset="0.57" stop-color="#80db75"/><stop offset="0.591" stop-color="#92e185"/><stop offset="0.597" stop-color="#d5f1b9"/><stop offset="0.604" stop-color="#fbcfa0"/><stop offset="0.611" stop-color="#f4846a"/><stop offset="0.624" stop-color="#ef5c48"/><stop offset="0.631" stop-color="#ee5845"/><stop offset="0.664" stop-color="#f06550"/><stop offset="0.698" stop-color="#f37b62"/><stop offset="0.738" stop-color="#f69f7d"/><stop offset="0.792" stop-color="#f9c296"/><stop offset="0.846" stop-color="#facea0"/><stop offset="1" stop-color="#fcdaaa"/></linearGradient><linearGradient id="p40" x1="0" y1="0" x2="0" y2="1"><stop offset="0" stop-color="#fcdcab"/><stop offset="0.128" stop-color="#fcddac"/><stop offset="0.181" stop-color="#fde2b0"/><stop offset="0.242" stop-color="#f9e9b9"/><stop offset="0.362" stop-color="#f5eec1"/><stop offset="0.416" stop-color="#f0f6cc"/><stop offset="0.456" stop-color="#dbf2bd"/><stop offset="0.51" stop-color="#b4eba0"/><stop offset="0.557" stop-color="#8bdf7f"/><stop offset="0.584" stop-color="#6ad463"/><stop offset="0.591" stop-color="#6cd565"/><stop offset="0.604" stop-color="#7edb73"/><stop offset="0.611" stop-color="#b4eba1"/><stop offset="0.617" stop-color="#fcdaaa"/><stop offset="0.624" stop-color="#f37c63"/><stop offset="0.638" stop-color="#ed4f3e"/><stop offset="0.644" stop-color="#ec4636"/><stop offset="0.678" stop-color="#ed5442"/><stop offset="0.711" stop-color="#f16c56"/><stop offset="0.752" stop-color="#f59475"/><stop offset="0.799" stop-color="#f8b88f"/><stop offset="0.819" stop-color="#f9c296"/><stop offset="0.859" stop-color="#facc9e"/><stop offset="1" stop-color="#fcd9a9"/></linearGradient><linearGradient id="p41" x1="0" y1="0" x2="0" y2="1"><stop offset="0" stop-color="#fcdcab"/><stop offset="0.141" stop-color="#fcddac"/><stop offset="0.195" stop-color="#fde2b0"/><stop offset="0.255" stop-color="#f9e9b9"/><stop offset="0.369" stop-color="#f5efc2"/><stop offset="0.416" stop-color="#f0f6cc"/><stop offset="0.47" stop-color="#d2f1b7"/><stop offset="0.523" stop-color="#a8e797"/><stop offset="0.564" stop-color="#7fdb75"/><stop offset="0.597" stop-color="#4fcb4d"/><stop offset="0.617" stop-color="#69d462"/><stop offset="0.624" stop-color="#baeca6"/><stop offset="0.631" stop-color="#fbcea0"/><stop offset="0.638" stop-color="#f16c56"/><stop offset="0.651" stop-color="#ea3b2d"/><stop offset="0.658" stop-color="#e9382a"/><stop offset="0.691" stop-color="#eb4535"/><stop offset="0.725" stop-color="#ef5f4b"/><stop offset="0.765" stop-color="#f58b6f"/><stop offset="0.812" stop-color="#f8b28b"/><stop offset="0.839" stop-color="#f9c095"/><stop offset="0.872" stop-color="#faca9c"/><stop offset="1" stop-color="#fcd7a7"/></linearGradient><linearGradient id="p42" x1="0" y1="0" x2="0" y2="1"><stop offset="0" stop-color="#fcdcab"/><stop offset="0.148" stop-color="#fcddac"/><stop offset="0.201" stop-color="#fde1b0"/><stop offset="0.383" stop-color="#f4f0c4"/><stop offset="0.416" stop-color="#eff6cc"/><stop offset="0.45" stop-color="#dff3c0"/><stop offset="0.53" stop-color="#a1e590"/><stop offset="0.577" stop-color="#68d361"/><stop offset="0.604" stop-color="#3ec43e"/><stop offset="0.611" stop-color="#3dc33d"/><stop offset="0.624" stop-color="#4fcb4d"/><stop offset="0.631" stop-color="#7cda72"/><stop offset="0.638" stop-color="#f4efc2"/><stop offset="0.644" stop-color="#f58a6e"/><stop offset="0.651" stop-color="#ed5241"/><stop offset="0.658" stop-color="#ea392c"/><stop offset="0.664" stop-color="#e62f25"/><stop offset="0.705" stop-color="#ea3a2c"/><stop offset="0.738" stop-color="#ee5744"/><stop offset="0.779" stop-color="#f4866b"/><stop offset="0.819" stop-color="#f7aa85"/><stop offset="0.859" stop-color="#f9c195"/><stop offset="0.886" stop-color="#fac89b"/><stop offset="1" stop-color="#fbd5a6"/></linearGradient><linearGradient id="p43" x1="0" y1="0" x2="0" y2="1"><stop offset="0" stop-color="#fcdcab"/><stop offset="0.161" stop-color="#fcddac"/><stop offset="0.215" stop-color="#fde2b0"/><stop offset="0.389" stop-color="#f3f1c5"/><stop offset="0.416" stop-color="#f0f6cc"/><stop offset="0.456" stop-color="#dbf2bd"/><stop offset="0.537" stop-color="#99e38a"/><stop offset="0.584" stop-color="#5acf55"/><stop offset="0.597" stop-color="#42c742"/><stop offset="0.617" stop-color="#31b733"/><stop offset="0.638" stop-color="#44c744"/><stop offset="0.644" stop-color="#cef0b4"/><stop offset="0.651" stop-color="#f7ad87"/><stop offset="0.658" stop-color="#ed503f"/><stop offset="0.664" stop-color="#e9372a"/><stop offset="0.671" stop-color="#e32921"/><stop offset="0.678" stop-color="#e42922"/><stop offset="0.725" stop-color="#ea392c"/><stop offset="0.745" stop-color="#ec4b3a"/><stop offset="0.785" stop-color="#f37d64"/><stop offset="0.826" stop-color="#f7a380"/><stop offset="0.872" stop-color="#f9c095"/><stop offset="0.893" stop-color="#fac79a"/><stop offset="1" stop-color="#fbd4a4"/></linearGradient><linearGradient id="p44" x1="0" y1="0" x2="0" y2="1"><stop offset="0" stop-color="#fcdcab"/><stop offset="0.168" stop-color="#fcddac"/><stop offset="0.215" stop-color="#fde1af"/><stop offset="0.356" stop-color="#f6edc0"/><stop offset="0.416" stop-color="#f0f6cc"/><stop offset="0.456" stop-color="#dcf2be"/><stop offset="0.544" stop-color="#91e183"/><stop offset="0.597" stop-color="#3fc53f"/><stop offset="0.624" stop-color="#29af2b"/><stop offset="0.638" stop-color="#35bb36"/><stop offset="0.644" stop-color="#44c743"/><stop offset="0.651" stop-color="#d9f2bc"/><stop offset="0.658" stop-color="#f69b7a"/><stop offset="0.664" stop-color="#ec4737"/><stop offset="0.671" stop-color="#e73227"/><stop offset="0.678" stop-color="#e1231e"/><stop offset="0.738" stop-color="#ea392b"/><stop offset="0.752" stop-color="#eb4535"/><stop offset="0.792" stop-color="#f27860"/><stop offset="0.832" stop-color="#f6a07e"/><stop offset="0.886" stop-color="#f9c296"/><stop offset="1" stop-color="#fbd2a3"/></linearGradient><linearGradient id="p45" x1="0" y1="0" x2="0" y2="1"><stop offset="0" stop-color="#fcdcab"/><stop offset="0.168" stop-color="#fcddac"/><stop offset="0.221" stop-color="#fde2b0"/><stop offset="0.356" stop-color="#f6edc0"/><stop offset="0.416" stop-color="#f0f6cc"/><stop offset="0.463" stop-color="#d6f1ba"/><stop offset="0.544" stop-color="#8ee081"/><stop offset="0.591" stop-color="#45c845"/><stop offset="0.624" stop-color="#23a927"/><stop offset="0.644" stop-color="#33b935"/><stop offset="0.651" stop-color="#8fe082"/><stop offset="0.658" stop-color="#fbd3a4"/><stop offset="0.664" stop-color="#ed503f"/><stop offset="0.671" stop-color="#e9362a"/><stop offset="0.678" stop-color="#e32720"/><stop offset="0.685" stop-color="#e1211d"/><stop offset="0.718" stop-color="#e42b23"/><stop offset="0.752" stop-color="#ea3e2f"/><stop offset="0.792" stop-color="#f2725b"/><stop offset="0.839" stop-color="#f6a27f"/><stop offset="0.886" stop-color="#f9bf94"/><stop offset="0.899" stop-color="#f9c598"/><stop offset="1" stop-color="#fbd2a3"/></linearGradient><linearGradient id="p46" x1="0" y1="0" x2="0" y2="1"><stop offset="0" stop-color="#fcdcab"/><stop offset="0.168" stop-color="#fcddac"/><stop offset="0.221" stop-color="#fde1b0"/><stop offset="0.356" stop-color="#f6edbf"/><stop offset="0.416" stop-color="#f0f6cc"/><stop offset="0.463" stop-color="#d7f1ba"/><stop offset="0.503" stop-color="#b3eba0"/><stop offset="0.55" stop-color="#87de7b"/><stop offset="0.591" stop-color="#44c744"/><stop offset="0.624" stop-color="#23a926"/><stop offset="0.631" stop-color="#21a724"/><stop offset="0.644" stop-color="#2eb430"/><stop offset="0.651" stop-color="#52cc4f"/><stop offset="0.658" stop-color="#f2f3c7"/><stop offset="0.664" stop-color="#f37c63"/><stop offset="0.671" stop-color="#ea3d2f"/><stop offset="0.685" stop-color="#e0201c"/><stop offset="0.718" stop-color="#e42a22"/><stop offset="0.752" stop-color="#ea3b2d"/><stop offset="0.792" stop-color="#f17059"/><stop offset="0.839" stop-color="#f6a07e"/><stop offset="0.893" stop-color="#f9c196"/><stop offset="1" stop-color="#fbd1a3"/></linearGradient><linearGradient id="p47" x1="0" y1="0" x2="0" y2="1"><stop offset="0" stop-color="#fcdcab"/><stop offset="0.174" stop-color="#fcddac"/><stop offset="0.221" stop-color="#fde1af"/><stop offset="0.356" stop-color="#f6edbf"/><stop offset="0.416" stop-color="#f0f6cb"/><stop offset="0.463" stop-color="#d8f2bb"/><stop offset="0.503" stop-color="#b5eba1"/><stop offset="0.55" stop-color="#89de7d"/><stop offset="0.591" stop-color="#46c845"/><stop offset="0.631" stop-color="#1fa523"/><stop offset="0.644" stop-color="#2db32f"/><stop offset="0.651" stop-color="#39bf3a"/><stop offset="0.658" stop-color="#d3f1b7"/><stop offset="0.664" stop-color="#f69b7b"/><stop offset="0.671" stop-color="#eb4434"/><stop offset="0.685" stop-color="#e0211d"/><stop offset="0.718" stop-color="#e42a22"/><stop offset="0.752" stop-color="#ea3b2d"/><stop offset="0.799" stop-color="#f2765e"/><stop offset="0.839" stop-color="#f69f7d"/><stop offset="0.893" stop-color="#f9c195"/><stop offset="1" stop-color="#fbd1a3"/></linearGradient><linearGradient id="p48" x1="0" y1="0" x2="0" y2="1"><stop offset="0" stop-color="#fcdcab"/><stop offset="0.174" stop-color="#fcddac"/><stop offset="0.356" stop-color="#f6edbf"/><stop offset="0.416" stop-color="#f0f5cb"/><stop offset="0.463" stop-color="#d8f2bb"/><stop offset="0.503" stop-color="#b5eba2"/><stop offset="0.55" stop-color="#8adf7e"/><stop offset="0.597" stop-color="#3fc53f"/><stop offset="0.631" stop-color="#22a825"/><stop offset="0.644" stop-color="#2fb531"/><stop offset="0.651" stop-color="#3fc53f"/><stop offset="0.658" stop-color="#ddf3be"/><stop offset="0.664" stop-color="#f59476"/><stop offset="0.671" stop-color="#eb4535"/><stop offset="0.678" stop-color="#e63126"/><stop offset="0.685" stop-color="#e1231e"/><stop offset="0.718" stop-color="#e52c23"/><stop offset="0.752" stop-color="#ea3e2f"/><stop offset="0.792" stop-color="#f1715a"/><stop offset="0.839" stop-color="#f6a07e"/><stop offset="0.893" stop-color="#f9c296"/><stop offset="1" stop-color="#fbd2a3"/></linearGradient><linearGradient id="p49" x1="0" y1="0" x2="0" y2="1"><stop offset="0" stop-color="#fcdcab"/><stop offset="0.168" stop-color="#fcddac"/><stop offset="0.221" stop-color="#fde2b0"/><stop offset="0.356" stop-color="#f6edbf"/><stop offset="0.416" stop-color="#f0f6cb"/><stop offset="0.463" stop-color="#d8f2bb"/><stop offset="0.544" stop-color="#91e184"/><stop offset="0.55" stop-color="#8adf7e"/><stop offset="0.597" stop-color="#40c640"/><stop offset="0.624" stop-color="#27ad2a"/><stop offset="0.631" stop-color="#27ad2a"/><stop offset="0.644" stop-color="#34ba36"/><stop offset="0.651" stop-color="#7bda71"/><stop offset="0.658" stop-color="#fde0ae"/><stop offset="0.664" stop-color="#ef624e"/><stop offset="0.671" stop-color="#eb3f30"/><stop offset="0.678" stop-color="#e52e24"/><stop offset="0.685" stop-color="#e2261f"/><stop offset="0.718" stop-color="#e62f25"/><stop offset="0.745" stop-color="#ea3d2f"/><stop offset="0.792" stop-color="#f2765f"/><stop offset="0.839" stop-color="#f7a481"/><stop offset="0.886" stop-color="#f9c095"/><stop offset="1" stop-color="#fbd2a3"/></linearGradient><linearGradient id="p50" x1="0" y1="0" x2="0" y2="1"><stop offset="0" stop-color="#fcdcab"/><stop offset="0.168" stop-color="#fcddac"/><stop offset="0.221" stop-color="#fde2b0"/><stop offset="0.356" stop-color="#f6edc0"/><stop offset="0.416" stop-color="#f0f6cc"/><stop offset="0.456" stop-color="#ddf3be"/><stop offset="0.497" stop-color="#bceda7"/><stop offset="0.544" stop-color="#93e185"/><stop offset="0.597" stop-color="#42c742"/><stop offset="0.624" stop-color="#2ab02c"/><stop offset="0.644" stop-color="#3cc23c"/><stop offset="0.651" stop-color="#c6eeae"/><stop offset="0.658" stop-color="#f8b18a"/><stop offset="0.664" stop-color="#ed513f"/><stop offset="0.671" stop-color="#e9382b"/><stop offset="0.678" stop-color="#e42922"/><stop offset="0.685" stop-color="#e42a22"/><stop offset="0.732" stop-color="#ea392c"/><stop offset="0.752" stop-color="#ec4b3a"/><stop offset="0.792" stop-color="#f37d64"/><stop offset="0.832" stop-color="#f7a380"/><stop offset="0.879" stop-color="#f9c095"/><stop offset="0.899" stop-color="#fac79a"/><stop offset="1" stop-color="#fbd3a4"/></linearGradient><linearGradient id="p51" x1="0" y1="0" x2="0" y2="1"><stop offset="0" stop-color="#fcdcab"/><stop offset="0.161" stop-color="#fcddac"/><stop offset="0.215" stop-color="#fde2b0"/><stop offset="0.389" stop-color="#f3f1c4"/><stop offset="0.416" stop-color="#f0f6cc"/><stop offset="0.456" stop-color="#ddf3bf"/><stop offset="0.537" stop-color="#9be38c"/><stop offset="0.557" stop-color="#83dc78"/><stop offset="0.604" stop-color="#3dc33d"/><stop offset="0.617" stop-color="#32b833"/><stop offset="0.638" stop-color="#3fc53f"/><stop offset="0.644" stop-color="#9be38b"/><stop offset="0.651" stop-color="#fbd5a6"/><stop offset="0.658" stop-color="#ef604c"/><stop offset="0.664" stop-color="#ec4536"/><stop offset="0.671" stop-color="#e73227"/><stop offset="0.678" stop-color="#e52d24"/><stop offset="0.725" stop-color="#ea3d2f"/><stop offset="0.745" stop-color="#ed4e3d"/><stop offset="0.792" stop-color="#f4856b"/><stop offset="0.832" stop-color="#f7aa85"/><stop offset="0.872" stop-color="#f9c195"/><stop offset="0.893" stop-color="#fac79a"/><stop offset="1" stop-color="#fbd4a4"/></linearGradient><linearGradient id="p52" x1="0" y1="0" x2="0" y2="1"><stop offset="0" stop-color="#fcdcab"/><stop offset="0.154" stop-color="#fcddac"/><stop offset="0.208" stop-color="#fde2b0"/><stop offset="0.383" stop-color="#f4f0c4"/><stop offset="0.416" stop-color="#f0f6cc"/><stop offset="0.45" stop-color="#e1f3c1"/><stop offset="0.53" stop-color="#a1e591"/><stop offset="0.557" stop-color="#83dc78"/><stop offset="0.604" stop-color="#3ec43e"/><stop offset="0.611" stop-color="#39bf3a"/><stop offset="0.624" stop-color="#42c742"/><stop offset="0.631" stop-color="#4ecb4b"/><stop offset="0.638" stop-color="#a8e796"/><stop offset="0.644" stop-color="#fbd2a3"/><stop offset="0.651" stop-color="#f0644f"/><stop offset="0.664" stop-color="#e83529"/><stop offset="0.671" stop-color="#e73126"/><stop offset="0.705" stop-color="#ea3a2c"/><stop offset="0.738" stop-color="#ee5543"/><stop offset="0.779" stop-color="#f4846a"/><stop offset="0.826" stop-color="#f7ae87"/><stop offset="0.859" stop-color="#f9c094"/><stop offset="0.886" stop-color="#fac89b"/><stop offset="1" stop-color="#fbd5a5"/></linearGradient><linearGradient id="p53" x1="0" y1="0" x2="0" y2="1"><stop offset="0" stop-color="#fcdcab"/><stop offset="0.148" stop-color="#fcddac"/><stop offset="0.201" stop-color="#fde2b0"/><stop offset="0.262" stop-color="#f9e9b9"/><stop offset="0.376" stop-color="#f4efc3"/><stop offset="0.416" stop-color="#f0f6cc"/><stop offset="0.443" stop-color="#e4f4c4"/><stop offset="0.477" stop-color="#cef0b4"/><stop offset="0.53" stop-color="#a2e692"/><stop offset="0.57" stop-color="#75d86c"/><stop offset="0.604" stop-color="#42c742"/><stop offset="0.624" stop-color="#5dd058"/><stop offset="0.631" stop-color="#b2ea9f"/><stop offset="0.638" stop-color="#fbd0a1"/><stop offset="0.644" stop-color="#f06a54"/><stop offset="0.658" stop-color="#ea392c"/><stop offset="0.664" stop-color="#e83629"/><stop offset="0.698" stop-color="#eb4232"/><stop offset="0.732" stop-color="#ef5c49"/><stop offset="0.772" stop-color="#f4896e"/><stop offset="0.819" stop-color="#f8b18a"/><stop offset="0.852" stop-color="#f9c296"/><stop offset="0.879" stop-color="#fac99c"/><stop offset="1" stop-color="#fcd6a6"/></linearGradient><linearGradient id="p54" x1="0" y1="0" x2="0" y2="1"><stop offset="0" stop-color="#fcdcab"/><stop offset="0.141" stop-color="#fcddac"/><stop offset="0.195" stop-color="#fde2b0"/><stop offset="0.255" stop-color="#f9e9b9"/><stop offset="0.376" stop-color="#f5efc2"/><stop offset="0.423" stop-color="#f0f6cc"/><stop offset="0.47" stop-color="#d6f1b9"/><stop offset="0.523" stop-color="#ade99b"/><stop offset="0.57" stop-color="#7fdb74"/><stop offset="0.597" stop-color="#58ce54"/><stop offset="0.604" stop-color="#56cd53"/><stop offset="0.617" stop-color="#6ad463"/><stop offset="0.624" stop-color="#92e185"/><stop offset="0.631" stop-color="#f7ebbd"/><stop offset="0.638" stop-color="#f59173"/><stop offset="0.644" stop-color="#ef634e"/><stop offset="0.651" stop-color="#ec4b3a"/><stop offset="0.658" stop-color="#ea3a2c"/><stop offset="0.698" stop-color="#ed4d3c"/><stop offset="0.732" stop-color="#f06852"/><stop offset="0.765" stop-color="#f58c70"/><stop offset="0.812" stop-color="#f8b38b"/><stop offset="0.839" stop-color="#f9c195"/><stop offset="0.879" stop-color="#facb9d"/><stop offset="1" stop-color="#fcd7a7"/></linearGradient><linearGradient id="p55" x1="0" y1="0" x2="0" y2="1"><stop offset="0" stop-color="#fcdcab"/><stop offset="0.148" stop-color="#fcddac"/><stop offset="0.255" stop-color="#f9e9b9"/><stop offset="0.376" stop-color="#f5efc2"/><stop offset="0.43" stop-color="#f0f6cc"/><stop offset="0.47" stop-color="#daf2bc"/><stop offset="0.523" stop-color="#b2ea9f"/><stop offset="0.57" stop-color="#89de7d"/><stop offset="0.597" stop-color="#67d361"/><stop offset="0.617" stop-color="#7edb74"/><stop offset="0.624" stop-color="#c4eead"/><stop offset="0.631" stop-color="#fbd0a2"/><stop offset="0.638" stop-color="#f27860"/><stop offset="0.651" stop-color="#ec4b3a"/><stop offset="0.658" stop-color="#ec4535"/><stop offset="0.691" stop-color="#ed5441"/><stop offset="0.725" stop-color="#f16c56"/><stop offset="0.765" stop-color="#f59476"/><stop offset="0.812" stop-color="#f8b98f"/><stop offset="0.832" stop-color="#f9c296"/><stop offset="0.872" stop-color="#facc9e"/><stop offset="1" stop-color="#fcd8a8"/></linearGradient><linearGradient id="p56" x1="0" y1="0" x2="0" y2="1"><stop offset="0" stop-color="#fcdcab"/><stop offset="0.141" stop-color="#fcddac"/><stop offset="0.248" stop-color="#f9e8b9"/><stop offset="0.369" stop-color="#f6edc0"/><stop offset="0.436" stop-color="#f0f6cc"/><stop offset="0.47" stop-color="#dff3c0"/><stop offset="0.517" stop-color="#bfeda9"/><stop offset="0.564" stop-color="#9ae38b"/><stop offset="0.597" stop-color="#79d96f"/><stop offset="0.617" stop-color="#93e185"/><stop offset="0.624" stop-color="#edf5ca"/><stop offset="0.631" stop-color="#f8bb91"/><stop offset="0.638" stop-color="#f27860"/><stop offset="0.651" stop-color="#ed4e3d"/><stop offset="0.691" stop-color="#ef5f4b"/><stop offset="0.725" stop-color="#f2765e"/><stop offset="0.758" stop-color="#f59677"/><stop offset="0.819" stop-color="#f9c095"/><stop offset="0.872" stop-color="#facd9f"/><stop offset="1" stop-color="#fcd9a8"/></linearGradient><linearGradient id="p57" x1="0" y1="0" x2="0" y2="1"><stop offset="0" stop-color="#fcdcab"/><stop offset="0.141" stop-color="#fcddac"/><stop offset="0.248" stop-color="#f9e9b9"/><stop offset="0.369" stop-color="#f6edbf"/><stop offset="0.436" stop-color="#f1f5cb"/><stop offset="0.47" stop-color="#e2f3c2"/><stop offset="0.517" stop-color="#c4eeac"/><stop offset="0.597" stop-color="#84dd78"/><stop offset="0.611" stop-color="#91e083"/><stop offset="0.617" stop-color="#a4e693"/><stop offset="0.624" stop-color="#f5efc2"/><stop offset="0.631" stop-color="#f7ac87"/><stop offset="0.638" stop-color="#f37a61"/><stop offset="0.651" stop-color="#ed5442"/><stop offset="0.685" stop-color="#ef604c"/><stop offset="0.718" stop-color="#f2765e"/><stop offset="0.758" stop-color="#f69b7a"/><stop offset="0.812" stop-color="#f9c095"/><stop offset="0.872" stop-color="#facea0"/><stop offset="1" stop-color="#fcd9a9"/></linearGradient><linearGradient id="p58" x1="0" y1="0" x2="0" y2="1"><stop offset="0" stop-color="#fcdcab"/><stop offset="0.141" stop-color="#fcddac"/><stop offset="0.248" stop-color="#f9e9b9"/><stop offset="0.369" stop-color="#f6edbf"/><stop offset="0.436" stop-color="#f1f5cb"/><stop offset="0.47" stop-color="#e2f3c2"/><stop offset="0.517" stop-color="#c4eeac"/><stop offset="0.597" stop-color="#84dd78"/><stop offset="0.611" stop-color="#91e083"/><stop offset="0.617" stop-color="#a4e693"/><stop offset="0.624" stop-color="#f5efc2"/><stop offset="0.631" stop-color="#f7ac87"/><stop offset="0.638" stop-color="#f37a61"/><stop offset="0.651" stop-color="#ed5442"/><stop offset="0.685" stop-color="#ef604c"/><stop offset="0.718" stop-color="#f2765e"/><stop offset="0.758" stop-color="#f69b7a"/><stop offset="0.812" stop-color="#f9c095"/><stop offset="0.872" stop-color="#facea0"/><stop offset="1" stop-color="#fcd9a9"/></linearGradient><linearGradient id="q0" x1="0" y1="0" x2="0" y2="1"><stop offset="0" stop-color="#e3f119"/><stop offset="0.054" stop-color="#ddf21a"/><stop offset="0.121" stop-color="#cff21a"/><stop offset="0.262" stop-color="#a2f21e"/><stop offset="0.356" stop-color="#80ef23"/><stop offset="0.436" stop-color="#58ec28"/><stop offset="0.53" stop-color="#35e936"/><stop offset="0.624" stop-color="#2de946"/><stop offset="0.664" stop-color="#2de947"/><stop offset="0.678" stop-color="#2de945"/><stop offset="0.691" stop-color="#30e838"/><stop offset="0.732" stop-color="#50eb2b"/><stop offset="0.738" stop-color="#5bec28"/><stop offset="0.765" stop-color="#9df21f"/><stop offset="0.772" stop-color="#b3f41c"/><stop offset="0.799" stop-color="#f3f018"/><stop offset="0.805" stop-color="#f9e316"/><stop offset="0.826" stop-color="#fdc513"/><stop offset="0.866" stop-color="#ffa310"/><stop offset="0.919" stop-color="#ff8810"/><stop offset="1" stop-color="#ff7b10"/></linearGradient><linearGradient id="q1" x1="0" y1="0" x2="0" y2="1"><stop offset="0" stop-color="#e3f119"/><stop offset="0.054" stop-color="#ddf21a"/><stop offset="0.121" stop-color="#cff21a"/><stop offset="0.262" stop-color="#a2f21e"/><stop offset="0.356" stop-color="#80ef23"/><stop offset="0.436" stop-color="#58ec28"/><stop offset="0.53" stop-color="#35e936"/><stop offset="0.624" stop-color="#2de946"/><stop offset="0.664" stop-color="#2de947"/><stop offset="0.678" stop-color="#2de945"/><stop offset="0.691" stop-color="#30e838"/><stop offset="0.732" stop-color="#50eb2b"/><stop offset="0.738" stop-color="#5bec28"/><stop offset="0.765" stop-color="#9df21f"/><stop offset="0.772" stop-color="#b3f41c"/><stop offset="0.799" stop-color="#f3f018"/><stop offset="0.805" stop-color="#f9e316"/><stop offset="0.826" stop-color="#fdc513"/><stop offset="0.866" stop-color="#ffa310"/><stop offset="0.919" stop-color="#ff8810"/><stop offset="1" stop-color="#ff7b10"/></linearGradient><linearGradient id="q2" x1="0" y1="0" x2="0" y2="1"><stop offset="0" stop-color="#e4f119"/><stop offset="0.114" stop-color="#d1f21a"/><stop offset="0.262" stop-color="#a3f31e"/><stop offset="0.356" stop-color="#81f023"/><stop offset="0.436" stop-color="#58ec28"/><stop offset="0.53" stop-color="#34e836"/><stop offset="0.617" stop-color="#2de948"/><stop offset="0.664" stop-color="#2ce94a"/><stop offset="0.678" stop-color="#2de947"/><stop offset="0.691" stop-color="#30e83a"/><stop offset="0.732" stop-color="#4feb2b"/><stop offset="0.738" stop-color="#5aec28"/><stop offset="0.765" stop-color="#9df21f"/><stop offset="0.772" stop-color="#b2f41c"/><stop offset="0.799" stop-color="#f3f018"/><stop offset="0.805" stop-color="#f9e416"/><stop offset="0.826" stop-color="#fdc513"/><stop offset="0.866" stop-color="#ffa310"/><stop offset="0.919" stop-color="#ff8810"/><stop offset="1" stop-color="#ff7b10"/></linearGradient><linearGradient id="q3" x1="0" y1="0" x2="0" y2="1"><stop offset="0" stop-color="#e4f119"/><stop offset="0.107" stop-color="#d2f21a"/><stop offset="0.262" stop-color="#a4f31e"/><stop offset="0.356" stop-color="#82f023"/><stop offset="0.436" stop-color="#58ec28"/><stop offset="0.53" stop-color="#31e838"/><stop offset="0.597" stop-color="#2ce94b"/><stop offset="0.658" stop-color="#2be950"/><stop offset="0.678" stop-color="#2ce94b"/><stop offset="0.698" stop-color="#31e838"/><stop offset="0.732" stop-color="#4eeb2c"/><stop offset="0.738" stop-color="#58ec28"/><stop offset="0.765" stop-color="#9bf21f"/><stop offset="0.779" stop-color="#c2f31b"/><stop offset="0.799" stop-color="#f2f018"/><stop offset="0.805" stop-color="#f9e417"/><stop offset="0.826" stop-color="#fdc513"/><stop offset="0.866" stop-color="#ffa310"/><stop offset="0.919" stop-color="#ff8810"/><stop offset="1" stop-color="#ff7a10"/></linearGradient><linearGradient id="q4" x1="0" y1="0" x2="0" y2="1"><stop offset="0" stop-color="#e4f119"/><stop offset="0.06" stop-color="#dcf21a"/><stop offset="0.128" stop-color="#cdf31b"/><stop offset="0.315" stop-color="#92f120"/><stop offset="0.369" stop-color="#7cef23"/><stop offset="0.43" stop-color="#5aec28"/><stop offset="0.523" stop-color="#30e839"/><stop offset="0.544" stop-color="#2de944"/><stop offset="0.584" stop-color="#2ae952"/><stop offset="0.624" stop-color="#29ea58"/><stop offset="0.658" stop-color="#29ea57"/><stop offset="0.678" stop-color="#2ae952"/><stop offset="0.698" stop-color="#2fe83b"/><stop offset="0.732" stop-color="#4ceb2d"/><stop offset="0.738" stop-color="#56ec29"/><stop offset="0.745" stop-color="#67ed26"/><stop offset="0.765" stop-color="#9af21f"/><stop offset="0.779" stop-color="#c1f31b"/><stop offset="0.799" stop-color="#f1f018"/><stop offset="0.805" stop-color="#f9e517"/><stop offset="0.826" stop-color="#fdc613"/><stop offset="0.866" stop-color="#ffa310"/><stop offset="0.919" stop-color="#ff8710"/><stop offset="1" stop-color="#ff7810"/></linearGradient><linearGradient id="q5" x1="0" y1="0" x2="0" y2="1"><stop offset="0" stop-color="#e3f119"/><stop offset="0.114" stop-color="#d0f21a"/><stop offset="0.262" stop-color="#a4f31e"/><stop offset="0.356" stop-color="#82f023"/><stop offset="0.43" stop-color="#58ec28"/><stop offset="0.517" stop-color="#2fe83c"/><stop offset="0.537" stop-color="#2ce94b"/><stop offset="0.577" stop-color="#28ea5a"/><stop offset="0.617" stop-color="#27ea61"/><stop offset="0.651" stop-color="#27ea61"/><stop offset="0.678" stop-color="#29ea59"/><stop offset="0.705" stop-color="#30e838"/><stop offset="0.732" stop-color="#4aeb2e"/><stop offset="0.745" stop-color="#64ed26"/><stop offset="0.765" stop-color="#97f220"/><stop offset="0.779" stop-color="#c0f31b"/><stop offset="0.799" stop-color="#f0f018"/><stop offset="0.805" stop-color="#f9e617"/><stop offset="0.826" stop-color="#fcc713"/><stop offset="0.866" stop-color="#ffa410"/><stop offset="0.919" stop-color="#ff8710"/><stop offset="1" stop-color="#ff7610"/></linearGradient><linearGradient id="q6" x1="0" y1="0" x2="0" y2="1"><stop offset="0" stop-color="#e1f119"/><stop offset="0.128" stop-color="#ccf31b"/><stop offset="0.262" stop-color="#a3f31e"/><stop offset="0.349" stop-color="#83f022"/><stop offset="0.423" stop-color="#59ec28"/><stop offset="0.503" stop-color="#30e83a"/><stop offset="0.537" stop-color="#29ea56"/><stop offset="0.57" stop-color="#26ea65"/><stop offset="0.604" stop-color="#24eb6c"/><stop offset="0.644" stop-color="#24eb6c"/><stop offset="0.678" stop-color="#27ea62"/><stop offset="0.705" stop-color="#2fe83e"/><stop offset="0.711" stop-color="#33e837"/><stop offset="0.732" stop-color="#47ea2f"/><stop offset="0.745" stop-color="#61ed27"/><stop offset="0.765" stop-color="#95f120"/><stop offset="0.779" stop-color="#bef31b"/><stop offset="0.799" stop-color="#eff119"/><stop offset="0.805" stop-color="#f9e817"/><stop offset="0.826" stop-color="#fcc813"/><stop offset="0.866" stop-color="#ffa410"/><stop offset="0.919" stop-color="#ff8610"/><stop offset="0.966" stop-color="#ff7710"/><stop offset="1" stop-color="#ff7410"/></linearGradient><linearGradient id="q7" x1="0" y1="0" x2="0" y2="1"><stop offset="0" stop-color="#dff119"/><stop offset="0.128" stop-color="#caf31b"/><stop offset="0.262" stop-color="#a2f21e"/><stop offset="0.349" stop-color="#81f023"/><stop offset="0.416" stop-color="#59ec28"/><stop offset="0.49" stop-color="#31e838"/><stop offset="0.497" stop-color="#2fe83d"/><stop offset="0.53" stop-color="#28ea5d"/><stop offset="0.564" stop-color="#24eb70"/><stop offset="0.597" stop-color="#22ec79"/><stop offset="0.638" stop-color="#22ec79"/><stop offset="0.678" stop-color="#25eb6b"/><stop offset="0.691" stop-color="#28ea5a"/><stop offset="0.711" stop-color="#30e839"/><stop offset="0.732" stop-color="#44ea30"/><stop offset="0.745" stop-color="#5dec27"/><stop offset="0.765" stop-color="#92f120"/><stop offset="0.779" stop-color="#bcf41c"/><stop offset="0.799" stop-color="#eef119"/><stop offset="0.805" stop-color="#f9e917"/><stop offset="0.826" stop-color="#fcc913"/><stop offset="0.866" stop-color="#ffa510"/><stop offset="0.919" stop-color="#ff8510"/><stop offset="0.953" stop-color="#ff7810"/><stop offset="0.98" stop-color="#ff7010"/><stop offset="1" stop-color="#ff7010"/></linearGradient><linearGradient id="q8" x1="0" y1="0" x2="0" y2="1"><stop offset="0" stop-color="#ddf21a"/><stop offset="0.128" stop-color="#c8f31b"/><stop offset="0.262" stop-color="#a1f21f"/><stop offset="0.349" stop-color="#7eef23"/><stop offset="0.409" stop-color="#59ec28"/><stop offset="0.483" stop-color="#30e83a"/><stop offset="0.53" stop-color="#25eb6a"/><stop offset="0.57" stop-color="#20ec80"/><stop offset="0.611" stop-color="#20ed88"/><stop offset="0.658" stop-color="#20ec80"/><stop offset="0.678" stop-color="#23eb75"/><stop offset="0.718" stop-color="#33e837"/><stop offset="0.732" stop-color="#41ea31"/><stop offset="0.745" stop-color="#59ec28"/><stop offset="0.765" stop-color="#8ff121"/><stop offset="0.779" stop-color="#baf41c"/><stop offset="0.799" stop-color="#ecf119"/><stop offset="0.805" stop-color="#f9eb17"/><stop offset="0.826" stop-color="#fccb13"/><stop offset="0.866" stop-color="#ffa510"/><stop offset="0.96" stop-color="#ff7010"/><stop offset="0.98" stop-color="#ff6a10"/><stop offset="1" stop-color="#ff6b10"/></linearGradient><linearGradient id="q9" x1="0" y1="0" x2="0" y2="1"><stop offset="0" stop-color="#dbf21a"/><stop offset="0.128" stop-color="#c7f31b"/><stop offset="0.262" stop-color="#9ff21f"/><stop offset="0.342" stop-color="#7eef23"/><stop offset="0.403" stop-color="#58ec28"/><stop offset="0.47" stop-color="#32e837"/><stop offset="0.53" stop-color="#22eb77"/><stop offset="0.577" stop-color="#20ed91"/><stop offset="0.604" stop-color="#20ee96"/><stop offset="0.631" stop-color="#20ee94"/><stop offset="0.658" stop-color="#20ed8b"/><stop offset="0.678" stop-color="#20ec7f"/><stop offset="0.698" stop-color="#27ea62"/><stop offset="0.718" stop-color="#2fe83c"/><stop offset="0.738" stop-color="#46ea2f"/><stop offset="0.745" stop-color="#54ec2a"/><stop offset="0.765" stop-color="#89f022"/><stop offset="0.779" stop-color="#b4f41c"/><stop offset="0.805" stop-color="#f7f018"/><stop offset="0.832" stop-color="#fdc613"/><stop offset="0.866" stop-color="#ffa710"/><stop offset="0.96" stop-color="#ff6b10"/><stop offset="0.98" stop-color="#ff6410"/><stop offset="1" stop-color="#ff6610"/></linearGradient><linearGradient id="q10" x1="0" y1="0" x2="0" y2="1"><stop offset="0" stop-color="#d8f21a"/><stop offset="0.128" stop-color="#c5f31b"/><stop offset="0.262" stop-color="#9df21f"/><stop offset="0.342" stop-color="#7aef24"/><stop offset="0.43" stop-color="#46ea2f"/><stop offset="0.463" stop-color="#32e837"/><stop offset="0.537" stop-color="#20ed89"/><stop offset="0.564" stop-color="#20ee99"/><stop offset="0.591" stop-color="#20efa2"/><stop offset="0.638" stop-color="#20ef9f"/><stop offset="0.664" stop-color="#20ee92"/><stop offset="0.685" stop-color="#20ec81"/><stop offset="0.705" stop-color="#27ea60"/><stop offset="0.725" stop-color="#30e838"/><stop offset="0.738" stop-color="#3fe932"/><stop offset="0.752" stop-color="#5aec28"/><stop offset="0.772" stop-color="#91f121"/><stop offset="0.785" stop-color="#bcf41c"/><stop offset="0.805" stop-color="#eef119"/><stop offset="0.812" stop-color="#f9e917"/><stop offset="0.832" stop-color="#fcca13"/><stop offset="0.866" stop-color="#ffab10"/><stop offset="0.906" stop-color="#ff9010"/><stop offset="0.953" stop-color="#ff6a10"/><stop offset="0.973" stop-color="#ff5f10"/><stop offset="1" stop-color="#ff6210"/></linearGradient><linearGradient id="q11" x1="0" y1="0" x2="0" y2="1"><stop offset="0" stop-color="#d6f21a"/><stop offset="0.128" stop-color="#c3f31b"/><stop offset="0.262" stop-color="#9bf21f"/><stop offset="0.342" stop-color="#77ef24"/><stop offset="0.389" stop-color="#59ec28"/><stop offset="0.443" stop-color="#3ae934"/><stop offset="0.463" stop-color="#2fe83d"/><stop offset="0.517" stop-color="#20ec7e"/><stop offset="0.537" stop-color="#20ee93"/><stop offset="0.564" stop-color="#20efa4"/><stop offset="0.591" stop-color="#20f0ad"/><stop offset="0.617" stop-color="#20f0ae"/><stop offset="0.644" stop-color="#20efa6"/><stop offset="0.678" stop-color="#20ed90"/><stop offset="0.691" stop-color="#20ec80"/><stop offset="0.732" stop-color="#33e837"/><stop offset="0.745" stop-color="#44ea30"/><stop offset="0.758" stop-color="#61ed27"/><stop offset="0.772" stop-color="#86f022"/><stop offset="0.785" stop-color="#b1f41c"/><stop offset="0.799" stop-color="#d3f21a"/><stop offset="0.812" stop-color="#f3f018"/><stop offset="0.819" stop-color="#f9e717"/><stop offset="0.846" stop-color="#fdc312"/><stop offset="0.872" stop-color="#ffa910"/><stop offset="0.906" stop-color="#ff9310"/><stop offset="0.96" stop-color="#ff6110"/><stop offset="0.98" stop-color="#fd5a11"/><stop offset="1" stop-color="#fe5e10"/></linearGradient><linearGradient id="q12" x1="0" y1="0" x2="0" y2="1"><stop offset="0" stop-color="#d4f21a"/><stop offset="0.128" stop-color="#c1f31b"/><stop offset="0.262" stop-color="#99f220"/><stop offset="0.336" stop-color="#77ef24"/><stop offset="0.383" stop-color="#5aec28"/><stop offset="0.45" stop-color="#33e837"/><stop offset="0.456" stop-color="#2fe83b"/><stop offset="0.51" stop-color="#20ec7e"/><stop offset="0.537" stop-color="#20ee9b"/><stop offset="0.564" stop-color="#20f0ad"/><stop offset="0.591" stop-color="#20f0b6"/><stop offset="0.617" stop-color="#20f0b6"/><stop offset="0.644" stop-color="#20f0ad"/><stop offset="0.664" stop-color="#20efa2"/><stop offset="0.691" stop-color="#20ed88"/><stop offset="0.711" stop-color="#26eb65"/><stop offset="0.732" stop-color="#2fe83c"/><stop offset="0.745" stop-color="#3de933"/><stop offset="0.758" stop-color="#57ec29"/><stop offset="0.779" stop-color="#8cf121"/><stop offset="0.792" stop-color="#b7f41c"/><stop offset="0.819" stop-color="#f8f018"/><stop offset="0.846" stop-color="#fcc813"/><stop offset="0.879" stop-color="#ffa910"/><stop offset="0.913" stop-color="#ff9010"/><stop offset="0.953" stop-color="#ff6410"/><stop offset="0.973" stop-color="#fc5811"/><stop offset="1" stop-color="#fe5c11"/></linearGradient><linearGradient id="q13" x1="0" y1="0" x2="0" y2="1"><stop offset="0" stop-color="#d2f21a"/><stop offset="0.128" stop-color="#c0f31b"/><stop offset="0.255" stop-color="#9af21f"/><stop offset="0.329" stop-color="#78ef24"/><stop offset="0.383" stop-color="#57ec28"/><stop offset="0.45" stop-color="#31e838"/><stop offset="0.51" stop-color="#20ec82"/><stop offset="0.537" stop-color="#20efa0"/><stop offset="0.564" stop-color="#20f0b2"/><stop offset="0.591" stop-color="#20f1bb"/><stop offset="0.617" stop-color="#20f1bb"/><stop offset="0.644" stop-color="#20f0b2"/><stop offset="0.685" stop-color="#20ee94"/><stop offset="0.698" stop-color="#20ec82"/><stop offset="0.738" stop-color="#33e837"/><stop offset="0.752" stop-color="#43ea31"/><stop offset="0.765" stop-color="#5fed27"/><stop offset="0.785" stop-color="#94f120"/><stop offset="0.799" stop-color="#bdf31b"/><stop offset="0.819" stop-color="#edf119"/><stop offset="0.826" stop-color="#f9eb17"/><stop offset="0.852" stop-color="#fcc813"/><stop offset="0.913" stop-color="#ff9310"/><stop offset="0.96" stop-color="#fe5e10"/><stop offset="0.98" stop-color="#fc5612"/><stop offset="1" stop-color="#fe5c11"/></linearGradient><linearGradient id="q14" x1="0" y1="0" x2="0" y2="1"><stop offset="0" stop-color="#d0f21a"/><stop offset="0.128" stop-color="#bef31b"/><stop offset="0.255" stop-color="#98f220"/><stop offset="0.322" stop-color="#7aef24"/><stop offset="0.376" stop-color="#5aec28"/><stop offset="0.443" stop-color="#34e837"/><stop offset="0.45" stop-color="#30e839"/><stop offset="0.503" stop-color="#21ec7c"/><stop offset="0.537" stop-color="#20efa1"/><stop offset="0.564" stop-color="#20f0b3"/><stop offset="0.591" stop-color="#20f1bc"/><stop offset="0.617" stop-color="#20f1bc"/><stop offset="0.644" stop-color="#20f0b3"/><stop offset="0.678" stop-color="#20ee9b"/><stop offset="0.698" stop-color="#20ec84"/><stop offset="0.738" stop-color="#30e838"/><stop offset="0.752" stop-color="#3ee932"/><stop offset="0.765" stop-color="#58ec28"/><stop offset="0.785" stop-color="#8bf021"/><stop offset="0.799" stop-color="#b5f41c"/><stop offset="0.812" stop-color="#d4f21a"/><stop offset="0.826" stop-color="#f2f018"/><stop offset="0.832" stop-color="#f8ed18"/><stop offset="0.852" stop-color="#fcce14"/><stop offset="0.913" stop-color="#ff9710"/><stop offset="0.96" stop-color="#ff6010"/><stop offset="0.98" stop-color="#fc5811"/><stop offset="1" stop-color="#fe5d10"/></linearGradient><linearGradient id="q15" x1="0" y1="0" x2="0" y2="1"><stop offset="0" stop-color="#cff21a"/><stop offset="0.128" stop-color="#bdf31b"/><stop offset="0.255" stop-color="#97f220"/><stop offset="0.322" stop-color="#78ef24"/><stop offset="0.376" stop-color="#58ec28"/><stop offset="0.443" stop-color="#33e837"/><stop offset="0.45" stop-color="#30e83a"/><stop offset="0.503" stop-color="#21ec7a"/><stop offset="0.537" stop-color="#20ef9f"/><stop offset="0.564" stop-color="#20f0b0"/><stop offset="0.591" stop-color="#20f1b9"/><stop offset="0.617" stop-color="#20f1b9"/><stop offset="0.644" stop-color="#20f0b0"/><stop offset="0.678" stop-color="#20ee98"/><stop offset="0.698" stop-color="#20ec82"/><stop offset="0.738" stop-color="#30e839"/><stop offset="0.758" stop-color="#48ea2e"/><stop offset="0.772" stop-color="#64ed26"/><stop offset="0.792" stop-color="#96f120"/><stop offset="0.799" stop-color="#aaf31d"/><stop offset="0.832" stop-color="#f7f018"/><stop offset="0.839" stop-color="#f9eb17"/><stop offset="0.859" stop-color="#fcce14"/><stop offset="0.919" stop-color="#ff9510"/><stop offset="0.96" stop-color="#ff6410"/><stop offset="0.98" stop-color="#fe5c11"/><stop offset="1" stop-color="#ff6210"/></linearGradient><linearGradient id="q16" x1="0" y1="0" x2="0" y2="1"><stop offset="0" stop-color="#cdf31b"/><stop offset="0.128" stop-color="#bcf41c"/><stop offset="0.255" stop-color="#96f120"/><stop offset="0.322" stop-color="#77ef24"/><stop offset="0.376" stop-color="#58ec28"/><stop offset="0.443" stop-color="#34e836"/><stop offset="0.45" stop-color="#30e838"/><stop offset="0.51" stop-color="#20ec7e"/><stop offset="0.537" stop-color="#20ee9a"/><stop offset="0.564" stop-color="#20efaa"/><stop offset="0.591" stop-color="#20f0b2"/><stop offset="0.617" stop-color="#20f0b2"/><stop offset="0.644" stop-color="#20efaa"/><stop offset="0.664" stop-color="#20ef9e"/><stop offset="0.691" stop-color="#20ed87"/><stop offset="0.711" stop-color="#25eb69"/><stop offset="0.738" stop-color="#30e838"/><stop offset="0.758" stop-color="#46ea2f"/><stop offset="0.772" stop-color="#5fed27"/><stop offset="0.792" stop-color="#8ff121"/><stop offset="0.805" stop-color="#b5f41c"/><stop offset="0.832" stop-color="#eef119"/><stop offset="0.839" stop-color="#f8ec17"/><stop offset="0.846" stop-color="#f9eb17"/><stop offset="0.866" stop-color="#fccf14"/><stop offset="0.919" stop-color="#ff9c10"/><stop offset="0.96" stop-color="#ff6c10"/><stop offset="0.98" stop-color="#ff6310"/><stop offset="1" stop-color="#ff6910"/></linearGradient><linearGradient id="q17" x1="0" y1="0" x2="0" y2="1"><stop offset="0" stop-color="#ccf31b"/><stop offset="0.134" stop-color="#baf41c"/><stop offset="0.255" stop-color="#96f120"/><stop offset="0.322" stop-color="#76ef24"/><stop offset="0.376" stop-color="#58ec28"/><stop offset="0.45" stop-color="#32e837"/><stop offset="0.517" stop-color="#20ec7e"/><stop offset="0.537" stop-color="#20ed91"/><stop offset="0.564" stop-color="#20efa0"/><stop offset="0.591" stop-color="#20efa9"/><stop offset="0.617" stop-color="#20efa9"/><stop offset="0.644" stop-color="#20efa1"/><stop offset="0.664" stop-color="#20ee97"/><stop offset="0.691" stop-color="#20ec80"/><stop offset="0.738" stop-color="#32e837"/><stop offset="0.758" stop-color="#45ea30"/><stop offset="0.772" stop-color="#5dec27"/><stop offset="0.799" stop-color="#99f21f"/><stop offset="0.812" stop-color="#bcf41c"/><stop offset="0.839" stop-color="#f2f018"/><stop offset="0.846" stop-color="#f9e817"/><stop offset="0.852" stop-color="#f8ec17"/><stop offset="0.866" stop-color="#fbd715"/><stop offset="0.926" stop-color="#ff9c10"/><stop offset="0.96" stop-color="#ff7610"/><stop offset="0.98" stop-color="#ff6e10"/><stop offset="1" stop-color="#ff7210"/></linearGradient><linearGradient id="q18" x1="0" y1="0" x2="0" y2="1"><stop offset="0" stop-color="#ccf31b"/><stop offset="0.134" stop-color="#baf41c"/><stop offset="0.255" stop-color="#95f120"/><stop offset="0.376" stop-color="#58ec28"/><stop offset="0.456" stop-color="#30e838"/><stop offset="0.537" stop-color="#20ed87"/><stop offset="0.564" stop-color="#20ee95"/><stop offset="0.591" stop-color="#20ee9c"/><stop offset="0.638" stop-color="#20ee99"/><stop offset="0.685" stop-color="#20ec7f"/><stop offset="0.705" stop-color="#26eb66"/><stop offset="0.732" stop-color="#2fe83c"/><stop offset="0.758" stop-color="#46ea2f"/><stop offset="0.772" stop-color="#5cec28"/><stop offset="0.799" stop-color="#94f120"/><stop offset="0.812" stop-color="#b6f41c"/><stop offset="0.846" stop-color="#f5f018"/><stop offset="0.852" stop-color="#f9e517"/><stop offset="0.859" stop-color="#f8ed18"/><stop offset="0.872" stop-color="#fbd915"/><stop offset="0.966" stop-color="#ff7d10"/><stop offset="0.98" stop-color="#ff7a10"/><stop offset="1" stop-color="#ff7d10"/></linearGradient><linearGradient id="q19" x1="0" y1="0" x2="0" y2="1"><stop offset="0" stop-color="#cbf31b"/><stop offset="0.161" stop-color="#b3f41c"/><stop offset="0.262" stop-color="#93f120"/><stop offset="0.376" stop-color="#59ec28"/><stop offset="0.463" stop-color="#30e838"/><stop offset="0.53" stop-color="#22eb76"/><stop offset="0.57" stop-color="#20ed8a"/><stop offset="0.617" stop-color="#20ed90"/><stop offset="0.664" stop-color="#20ec82"/><stop offset="0.685" stop-color="#23eb74"/><stop offset="0.732" stop-color="#31e837"/><stop offset="0.758" stop-color="#47ea2f"/><stop offset="0.772" stop-color="#5cec27"/><stop offset="0.812" stop-color="#aff41d"/><stop offset="0.852" stop-color="#f8f018"/><stop offset="0.859" stop-color="#fae216"/><stop offset="0.866" stop-color="#f8f018"/><stop offset="0.879" stop-color="#fadc16"/><stop offset="0.966" stop-color="#ff8b10"/><stop offset="0.98" stop-color="#ff8610"/><stop offset="1" stop-color="#ff8810"/></linearGradient><linearGradient id="q20" x1="0" y1="0" x2="0" y2="1"><stop offset="0" stop-color="#cbf31b"/><stop offset="0.161" stop-color="#b2f41c"/><stop offset="0.262" stop-color="#92f120"/><stop offset="0.383" stop-color="#56ec29"/><stop offset="0.47" stop-color="#30e838"/><stop offset="0.53" stop-color="#25eb6a"/><stop offset="0.564" stop-color="#21ec7a"/><stop offset="0.604" stop-color="#20ec82"/><stop offset="0.644" stop-color="#21ec7e"/><stop offset="0.678" stop-color="#24eb6f"/><stop offset="0.725" stop-color="#30e838"/><stop offset="0.758" stop-color="#49eb2e"/><stop offset="0.772" stop-color="#5dec27"/><stop offset="0.805" stop-color="#9af21f"/><stop offset="0.819" stop-color="#b8f41c"/><stop offset="0.859" stop-color="#f8ed18"/><stop offset="0.866" stop-color="#edf119"/><stop offset="0.872" stop-color="#f5f018"/><stop offset="0.919" stop-color="#fdbf12"/><stop offset="0.966" stop-color="#ff9910"/><stop offset="0.98" stop-color="#ff9210"/><stop offset="1" stop-color="#ff9310"/></linearGradient><linearGradient id="q21" x1="0" y1="0" x2="0" y2="1"><stop offset="0" stop-color="#caf31b"/><stop offset="0.154" stop-color="#b4f41c"/><stop offset="0.262" stop-color="#92f120"/><stop offset="0.383" stop-color="#57ec28"/><stop offset="0.483" stop-color="#2fe83b"/><stop offset="0.53" stop-color="#27ea5e"/><stop offset="0.564" stop-color="#24eb6c"/><stop offset="0.611" stop-color="#23eb75"/><stop offset="0.651" stop-color="#24eb70"/><stop offset="0.671" stop-color="#25eb69"/><stop offset="0.718" stop-color="#30e839"/><stop offset="0.758" stop-color="#4beb2d"/><stop offset="0.772" stop-color="#5eed27"/><stop offset="0.805" stop-color="#97f120"/><stop offset="0.819" stop-color="#b2f41c"/><stop offset="0.859" stop-color="#f1f018"/><stop offset="0.866" stop-color="#f8ec18"/><stop offset="0.872" stop-color="#e8f119"/><stop offset="0.886" stop-color="#f8ee18"/><stop offset="0.926" stop-color="#fdc413"/><stop offset="0.953" stop-color="#ffb010"/><stop offset="0.98" stop-color="#ffa010"/><stop offset="1" stop-color="#ff9e10"/></linearGradient><linearGradient id="q22" x1="0" y1="0" x2="0" y2="1"><stop offset="0" stop-color="#caf31b"/><stop offset="0.134" stop-color="#b9f41c"/><stop offset="0.255" stop-color="#95f120"/><stop offset="0.383" stop-color="#58ec28"/><stop offset="0.49" stop-color="#30e839"/><stop offset="0.53" stop-color="#2aea54"/><stop offset="0.57" stop-color="#27ea62"/><stop offset="0.611" stop-color="#25eb68"/><stop offset="0.658" stop-color="#26ea64"/><stop offset="0.678" stop-color="#29ea58"/><stop offset="0.711" stop-color="#30e838"/><stop offset="0.758" stop-color="#4deb2c"/><stop offset="0.772" stop-color="#5eed27"/><stop offset="0.812" stop-color="#9df21f"/><stop offset="0.826" stop-color="#b7f41c"/><stop offset="0.866" stop-color="#f2f018"/><stop offset="0.872" stop-color="#f8ec18"/><stop offset="0.879" stop-color="#fae116"/><stop offset="0.886" stop-color="#ecf119"/><stop offset="0.893" stop-color="#f4f018"/><stop offset="0.899" stop-color="#f9eb17"/><stop offset="0.94" stop-color="#fdc513"/><stop offset="0.98" stop-color="#ffae10"/><stop offset="1" stop-color="#ffa810"/></linearGradient><linearGradient id="q23" x1="0" y1="0" x2="0" y2="1"><stop offset="0" stop-color="#caf31b"/><stop offset="0.154" stop-color="#b4f41c"/><stop offset="0.262" stop-color="#92f120"/><stop offset="0.383" stop-color="#58ec28"/><stop offset="0.497" stop-color="#31e838"/><stop offset="0.537" stop-color="#2be94e"/><stop offset="0.584" stop-color="#28ea5a"/><stop offset="0.617" stop-color="#28ea5e"/><stop offset="0.658" stop-color="#28ea5b"/><stop offset="0.705" stop-color="#30e838"/><stop offset="0.758" stop-color="#4feb2c"/><stop offset="0.812" stop-color="#9af21f"/><stop offset="0.826" stop-color="#b1f41c"/><stop offset="0.872" stop-color="#f2f018"/><stop offset="0.879" stop-color="#f8ec17"/><stop offset="0.886" stop-color="#fae116"/><stop offset="0.893" stop-color="#e6f119"/><stop offset="0.906" stop-color="#f7f018"/><stop offset="0.946" stop-color="#fccc14"/><stop offset="1" stop-color="#ffb110"/></linearGradient><linearGradient id="q24" x1="0" y1="0" x2="0" y2="1"><stop offset="0" stop-color="#caf31b"/><stop offset="0.154" stop-color="#b4f41c"/><stop offset="0.262" stop-color="#92f120"/><stop offset="0.403" stop-color="#51eb2b"/><stop offset="0.51" stop-color="#30e838"/><stop offset="0.537" stop-color="#2de946"/><stop offset="0.584" stop-color="#2ae951"/><stop offset="0.651" stop-color="#2aea53"/><stop offset="0.698" stop-color="#31e838"/><stop offset="0.758" stop-color="#50eb2b"/><stop offset="0.819" stop-color="#a1f21f"/><stop offset="0.832" stop-color="#b7f41c"/><stop offset="0.879" stop-color="#f4f018"/><stop offset="0.886" stop-color="#f9ea17"/><stop offset="0.893" stop-color="#fae016"/><stop offset="0.899" stop-color="#e3f119"/><stop offset="0.919" stop-color="#f8f018"/><stop offset="0.953" stop-color="#fbd314"/><stop offset="1" stop-color="#febb11"/></linearGradient><linearGradient id="q25" x1="0" y1="0" x2="0" y2="1"><stop offset="0" stop-color="#caf31b"/><stop offset="0.154" stop-color="#b4f41c"/><stop offset="0.262" stop-color="#92f120"/><stop offset="0.403" stop-color="#51eb2b"/><stop offset="0.517" stop-color="#30e838"/><stop offset="0.584" stop-color="#2ce94a"/><stop offset="0.651" stop-color="#2be94c"/><stop offset="0.685" stop-color="#30e839"/><stop offset="0.758" stop-color="#52eb2a"/><stop offset="0.819" stop-color="#9ff21f"/><stop offset="0.832" stop-color="#b5f41c"/><stop offset="0.886" stop-color="#f7f018"/><stop offset="0.893" stop-color="#f9e717"/><stop offset="0.899" stop-color="#d8f21a"/><stop offset="0.919" stop-color="#f0f018"/><stop offset="0.933" stop-color="#f8ed18"/><stop offset="0.953" stop-color="#fadb15"/><stop offset="1" stop-color="#fdc412"/></linearGradient><linearGradient id="q26" x1="0" y1="0" x2="0" y2="1"><stop offset="0" stop-color="#caf31b"/><stop offset="0.154" stop-color="#b4f41c"/><stop offset="0.262" stop-color="#92f120"/><stop offset="0.403" stop-color="#51eb2b"/><stop offset="0.523" stop-color="#30e838"/><stop offset="0.584" stop-color="#2de946"/><stop offset="0.644" stop-color="#2ce949"/><stop offset="0.678" stop-color="#30e838"/><stop offset="0.758" stop-color="#53ec2a"/><stop offset="0.819" stop-color="#9df21f"/><stop offset="0.832" stop-color="#b2f41c"/><stop offset="0.893" stop-color="#f8ee18"/><stop offset="0.899" stop-color="#f9e417"/><stop offset="0.906" stop-color="#d7f21a"/><stop offset="0.919" stop-color="#e7f119"/><stop offset="0.94" stop-color="#f8f018"/><stop offset="0.96" stop-color="#fadf16"/><stop offset="1" stop-color="#fccb13"/></linearGradient><linearGradient id="q27" x1="0" y1="0" x2="0" y2="1"><stop offset="0" stop-color="#caf31b"/><stop offset="0.154" stop-color="#b4f41c"/><stop offset="0.262" stop-color="#91f121"/><stop offset="0.403" stop-color="#4feb2b"/><stop offset="0.503" stop-color="#35e936"/><stop offset="0.53" stop-color="#30e83a"/><stop offset="0.584" stop-color="#2de944"/><stop offset="0.644" stop-color="#2de945"/><stop offset="0.678" stop-color="#32e837"/><stop offset="0.758" stop-color="#54ec2a"/><stop offset="0.819" stop-color="#9bf21f"/><stop offset="0.839" stop-color="#b8f41c"/><stop offset="0.893" stop-color="#f6f018"/><stop offset="0.906" stop-color="#fae116"/><stop offset="0.913" stop-color="#d7f21a"/><stop offset="0.926" stop-color="#e7f119"/><stop offset="0.946" stop-color="#f6f018"/><stop offset="1" stop-color="#fbd114"/></linearGradient><linearGradient id="q28" x1="0" y1="0" x2="0" y2="1"><stop offset="0" stop-color="#caf31b"/><stop offset="0.154" stop-color="#b4f41c"/><stop offset="0.262" stop-color="#91f121"/><stop offset="0.376" stop-color="#57ec28"/><stop offset="0.477" stop-color="#3ae934"/><stop offset="0.53" stop-color="#2fe83c"/><stop offset="0.591" stop-color="#2de945"/><stop offset="0.644" stop-color="#2de944"/><stop offset="0.671" stop-color="#30e838"/><stop offset="0.758" stop-color="#53ec2a"/><stop offset="0.826" stop-color="#a1f21e"/><stop offset="0.839" stop-color="#b5f41c"/><stop offset="0.899" stop-color="#f8ee18"/><stop offset="0.906" stop-color="#f9e517"/><stop offset="0.913" stop-color="#d1f21a"/><stop offset="0.933" stop-color="#e8f119"/><stop offset="0.953" stop-color="#f6f018"/><stop offset="1" stop-color="#fbd615"/></linearGradient><linearGradient id="q29" x1="0" y1="0" x2="0" y2="1"><stop offset="0" stop-color="#cbf31b"/><stop offset="0.128" stop-color="#baf41c"/><stop offset="0.161" stop-color="#b2f41c"/><stop offset="0.262" stop-color="#90f121"/><stop offset="0.369" stop-color="#57ec28"/><stop offset="0.463" stop-color="#39e934"/><stop offset="0.503" stop-color="#30e838"/><stop offset="0.557" stop-color="#2de945"/><stop offset="0.638" stop-color="#2de946"/><stop offset="0.671" stop-color="#30e838"/><stop offset="0.758" stop-color="#53ec2a"/><stop offset="0.826" stop-color="#a0f21f"/><stop offset="0.839" stop-color="#b4f41c"/><stop offset="0.899" stop-color="#f8ef18"/><stop offset="0.906" stop-color="#f9e717"/><stop offset="0.913" stop-color="#cef21a"/><stop offset="0.933" stop-color="#e6f119"/><stop offset="0.96" stop-color="#f8ef18"/><stop offset="1" stop-color="#fbd815"/></linearGradient><linearGradient id="q30" x1="0" y1="0" x2="0" y2="1"><stop offset="0" stop-color="#cbf31b"/><stop offset="0.128" stop-color="#bbf41c"/><stop offset="0.161" stop-color="#b2f41c"/><stop offset="0.262" stop-color="#8ef121"/><stop offset="0.356" stop-color="#5aec28"/><stop offset="0.396" stop-color="#48ea2e"/><stop offset="0.463" stop-color="#34e837"/><stop offset="0.537" stop-color="#2ce94b"/><stop offset="0.638" stop-color="#2ce948"/><stop offset="0.678" stop-color="#32e837"/><stop offset="0.758" stop-color="#53ec2a"/><stop offset="0.826" stop-color="#a1f21e"/><stop offset="0.839" stop-color="#b5f41c"/><stop offset="0.899" stop-color="#f8ee18"/><stop offset="0.906" stop-color="#f9e517"/><stop offset="0.913" stop-color="#cff21a"/><stop offset="0.933" stop-color="#e6f119"/><stop offset="0.96" stop-color="#f8ee18"/><stop offset="1" stop-color="#fbd715"/></linearGradient><linearGradient id="q31" x1="0" y1="0" x2="0" y2="1"><stop offset="0" stop-color="#cbf31b"/><stop offset="0.128" stop-color="#bbf41c"/><stop offset="0.188" stop-color="#a9f31d"/><stop offset="0.255" stop-color="#90f121"/><stop offset="0.349" stop-color="#58ec28"/><stop offset="0.403" stop-color="#3fe932"/><stop offset="0.443" stop-color="#31e837"/><stop offset="0.53" stop-color="#29ea56"/><stop offset="0.577" stop-color="#2aea55"/><stop offset="0.638" stop-color="#2be94d"/><stop offset="0.678" stop-color="#30e838"/><stop offset="0.758" stop-color="#53ec2a"/><stop offset="0.819" stop-color="#9af21f"/><stop offset="0.839" stop-color="#b7f41c"/><stop offset="0.893" stop-color="#f5f018"/><stop offset="0.906" stop-color="#fae216"/><stop offset="0.913" stop-color="#d3f21a"/><stop offset="0.926" stop-color="#e4f119"/><stop offset="0.953" stop-color="#f8f018"/><stop offset="1" stop-color="#fbd515"/></linearGradient><linearGradient id="q32" x1="0" y1="0" x2="0" y2="1"><stop offset="0" stop-color="#ccf31b"/><stop offset="0.128" stop-color="#bbf41c"/><stop offset="0.195" stop-color="#a7f31e"/><stop offset="0.262" stop-color="#8bf021"/><stop offset="0.342" stop-color="#56ec29"/><stop offset="0.416" stop-color="#31e838"/><stop offset="0.47" stop-color="#2aea54"/><stop offset="0.517" stop-color="#26ea64"/><stop offset="0.537" stop-color="#26eb66"/><stop offset="0.591" stop-color="#28ea5e"/><stop offset="0.644" stop-color="#2ae952"/><stop offset="0.685" stop-color="#31e838"/><stop offset="0.758" stop-color="#53ec2a"/><stop offset="0.819" stop-color="#9cf21f"/><stop offset="0.832" stop-color="#b0f41c"/><stop offset="0.893" stop-color="#f8ef18"/><stop offset="0.899" stop-color="#f9e617"/><stop offset="0.906" stop-color="#d2f21a"/><stop offset="0.926" stop-color="#e9f119"/><stop offset="0.946" stop-color="#f8f018"/><stop offset="0.96" stop-color="#f9e517"/><stop offset="1" stop-color="#fbd114"/></linearGradient><linearGradient id="q33" x1="0" y1="0" x2="0" y2="1"><stop offset="0" stop-color="#ccf31b"/><stop offset="0.128" stop-color="#bbf41c"/><stop offset="0.161" stop-color="#b3f41c"/><stop offset="0.255" stop-color="#8cf021"/><stop offset="0.329" stop-color="#57ec28"/><stop offset="0.396" stop-color="#30e838"/><stop offset="0.43" stop-color="#2aea53"/><stop offset="0.47" stop-color="#25eb6b"/><stop offset="0.503" stop-color="#22eb76"/><stop offset="0.537" stop-color="#22ec79"/><stop offset="0.651" stop-color="#29ea56"/><stop offset="0.691" stop-color="#31e838"/><stop offset="0.765" stop-color="#58ec28"/><stop offset="0.819" stop-color="#9ef21f"/><stop offset="0.832" stop-color="#b3f41c"/><stop offset="0.886" stop-color="#f6f018"/><stop offset="0.893" stop-color="#f9e917"/><stop offset="0.899" stop-color="#d2f21a"/><stop offset="0.919" stop-color="#eaf119"/><stop offset="0.94" stop-color="#f8ef18"/><stop offset="0.96" stop-color="#fadf16"/><stop offset="1" stop-color="#fccb13"/></linearGradient><linearGradient id="q34" x1="0" y1="0" x2="0" y2="1"><stop offset="0" stop-color="#cdf31b"/><stop offset="0.128" stop-color="#bcf41c"/><stop offset="0.195" stop-color="#a6f31e"/><stop offset="0.255" stop-color="#89f022"/><stop offset="0.315" stop-color="#5aec28"/><stop offset="0.376" stop-color="#32e837"/><stop offset="0.383" stop-color="#2fe83c"/><stop offset="0.403" stop-color="#2aea53"/><stop offset="0.43" stop-color="#25eb6b"/><stop offset="0.456" stop-color="#21ec7e"/><stop offset="0.483" stop-color="#20ed8a"/><stop offset="0.53" stop-color="#20ed91"/><stop offset="0.577" stop-color="#20ec80"/><stop offset="0.658" stop-color="#28ea5b"/><stop offset="0.698" stop-color="#30e838"/><stop offset="0.758" stop-color="#51eb2b"/><stop offset="0.765" stop-color="#56ec29"/><stop offset="0.819" stop-color="#9ff21f"/><stop offset="0.832" stop-color="#b5f41c"/><stop offset="0.886" stop-color="#f8ed18"/><stop offset="0.893" stop-color="#f9e416"/><stop offset="0.899" stop-color="#daf21a"/><stop offset="0.913" stop-color="#ebf119"/><stop offset="0.933" stop-color="#f8ed18"/><stop offset="0.953" stop-color="#fadc16"/><stop offset="1" stop-color="#fdc513"/></linearGradient><linearGradient id="q35" x1="0" y1="0" x2="0" y2="1"><stop offset="0" stop-color="#cef21a"/><stop offset="0.128" stop-color="#bcf41c"/><stop offset="0.168" stop-color="#b1f41c"/><stop offset="0.255" stop-color="#86f022"/><stop offset="0.329" stop-color="#4aeb2d"/><stop offset="0.362" stop-color="#31e837"/><stop offset="0.403" stop-color="#25eb6b"/><stop offset="0.45" stop-color="#20ee96"/><stop offset="0.497" stop-color="#20f0ab"/><stop offset="0.537" stop-color="#20efa9"/><stop offset="0.611" stop-color="#20ec80"/><stop offset="0.664" stop-color="#27ea60"/><stop offset="0.705" stop-color="#30e838"/><stop offset="0.765" stop-color="#54ec2a"/><stop offset="0.819" stop-color="#a0f21f"/><stop offset="0.832" stop-color="#b8f41c"/><stop offset="0.879" stop-color="#f7f018"/><stop offset="0.886" stop-color="#f9e617"/><stop offset="0.893" stop-color="#ddf21a"/><stop offset="0.919" stop-color="#f8ef18"/><stop offset="0.946" stop-color="#fbd815"/><stop offset="1" stop-color="#febe12"/></linearGradient><linearGradient id="q36" x1="0" y1="0" x2="0" y2="1"><stop offset="0" stop-color="#cff21a"/><stop offset="0.128" stop-color="#bdf31b"/><stop offset="0.181" stop-color="#abf31d"/><stop offset="0.255" stop-color="#83f022"/><stop offset="0.302" stop-color="#58ec28"/><stop offset="0.349" stop-color="#32e837"/><stop offset="0.396" stop-color="#21ec7a"/><stop offset="0.43" stop-color="#20efa2"/><stop offset="0.463" stop-color="#20f1bd"/><stop offset="0.497" stop-color="#20f2c9"/><stop offset="0.537" stop-color="#20f2c4"/><stop offset="0.631" stop-color="#20ec80"/><stop offset="0.671" stop-color="#26ea64"/><stop offset="0.711" stop-color="#30e838"/><stop offset="0.765" stop-color="#52eb2a"/><stop offset="0.812" stop-color="#99f220"/><stop offset="0.826" stop-color="#b1f41c"/><stop offset="0.872" stop-color="#f5f018"/><stop offset="0.879" stop-color="#f9e817"/><stop offset="0.886" stop-color="#e0f119"/><stop offset="0.906" stop-color="#f8f018"/><stop offset="0.94" stop-color="#fbd314"/><stop offset="1" stop-color="#feb611"/></linearGradient><linearGradient id="q37" x1="0" y1="0" x2="0" y2="1"><stop offset="0" stop-color="#d0f21a"/><stop offset="0.128" stop-color="#bef31b"/><stop offset="0.174" stop-color="#aff41d"/><stop offset="0.255" stop-color="#80ef23"/><stop offset="0.295" stop-color="#59ec28"/><stop offset="0.336" stop-color="#36e936"/><stop offset="0.342" stop-color="#30e839"/><stop offset="0.383" stop-color="#21ec7c"/><stop offset="0.416" stop-color="#20f0ae"/><stop offset="0.45" stop-color="#20f3d1"/><stop offset="0.477" stop-color="#22f4e0"/><stop offset="0.503" stop-color="#26f4e1"/><stop offset="0.537" stop-color="#20f4de"/><stop offset="0.644" stop-color="#20ec81"/><stop offset="0.678" stop-color="#26eb65"/><stop offset="0.718" stop-color="#31e838"/><stop offset="0.765" stop-color="#51eb2b"/><stop offset="0.812" stop-color="#9cf21f"/><stop offset="0.826" stop-color="#b6f41c"/><stop offset="0.866" stop-color="#f4f018"/><stop offset="0.872" stop-color="#f9e917"/><stop offset="0.879" stop-color="#e5f119"/><stop offset="0.893" stop-color="#f5f018"/><stop offset="0.899" stop-color="#f9eb17"/><stop offset="0.933" stop-color="#fcce14"/><stop offset="1" stop-color="#ffaf10"/></linearGradient><linearGradient id="q38" x1="0" y1="0" x2="0" y2="1"><stop offset="0" stop-color="#d1f21a"/><stop offset="0.128" stop-color="#bff31b"/><stop offset="0.174" stop-color="#aff41d"/><stop offset="0.248" stop-color="#82f022"/><stop offset="0.289" stop-color="#5bec28"/><stop offset="0.329" stop-color="#35e936"/><stop offset="0.336" stop-color="#2fe83a"/><stop offset="0.376" stop-color="#20ec84"/><stop offset="0.403" stop-color="#20f0b4"/><stop offset="0.436" stop-color="#20f4e0"/><stop offset="0.47" stop-color="#37f5e5"/><stop offset="0.503" stop-color="#3ef6e7"/><stop offset="0.53" stop-color="#38f5e5"/><stop offset="0.564" stop-color="#20f4df"/><stop offset="0.658" stop-color="#20ec7f"/><stop offset="0.685" stop-color="#26eb65"/><stop offset="0.718" stop-color="#2fe83b"/><stop offset="0.765" stop-color="#51eb2b"/><stop offset="0.805" stop-color="#95f120"/><stop offset="0.819" stop-color="#b0f41c"/><stop offset="0.859" stop-color="#f3f018"/><stop offset="0.866" stop-color="#f9e917"/><stop offset="0.872" stop-color="#eaf119"/><stop offset="0.886" stop-color="#f8ed18"/><stop offset="0.926" stop-color="#fcc713"/><stop offset="0.98" stop-color="#ffac10"/><stop offset="1" stop-color="#ffa810"/></linearGradient><linearGradient id="q39" x1="0" y1="0" x2="0" y2="1"><stop offset="0" stop-color="#d2f21a"/><stop offset="0.121" stop-color="#c1f31b"/><stop offset="0.168" stop-color="#b3f41c"/><stop offset="0.208" stop-color="#9df21f"/><stop offset="0.248" stop-color="#81f023"/><stop offset="0.289" stop-color="#57ec28"/><stop offset="0.322" stop-color="#37e935"/><stop offset="0.329" stop-color="#30e838"/><stop offset="0.362" stop-color="#21ec7a"/><stop offset="0.396" stop-color="#20f1bb"/><stop offset="0.416" stop-color="#20f4dc"/><stop offset="0.423" stop-color="#24f4e1"/><stop offset="0.443" stop-color="#39f5e6"/><stop offset="0.463" stop-color="#48f6e9"/><stop offset="0.483" stop-color="#50f7eb"/><stop offset="0.503" stop-color="#52f7eb"/><stop offset="0.537" stop-color="#46f6e8"/><stop offset="0.577" stop-color="#21f4e0"/><stop offset="0.624" stop-color="#20efa9"/><stop offset="0.664" stop-color="#20ec7f"/><stop offset="0.685" stop-color="#25eb6b"/><stop offset="0.718" stop-color="#2fe83e"/><stop offset="0.725" stop-color="#32e837"/><stop offset="0.765" stop-color="#53ec2a"/><stop offset="0.812" stop-color="#acf31d"/><stop offset="0.852" stop-color="#f4f018"/><stop offset="0.859" stop-color="#f9e717"/><stop offset="0.866" stop-color="#f0f018"/><stop offset="0.872" stop-color="#f8ef18"/><stop offset="0.886" stop-color="#fade16"/><stop offset="0.919" stop-color="#fdbf12"/><stop offset="0.973" stop-color="#ffa510"/><stop offset="1" stop-color="#ffa110"/></linearGradient><linearGradient id="q40" x1="0" y1="0" x2="0" y2="1"><stop offset="0" stop-color="#d4f21a"/><stop offset="0.128" stop-color="#c1f31b"/><stop offset="0.174" stop-color="#b1f41c"/><stop offset="0.215" stop-color="#99f21f"/><stop offset="0.248" stop-color="#80ef23"/><stop offset="0.282" stop-color="#5cec27"/><stop offset="0.322" stop-color="#33e837"/><stop offset="0.329" stop-color="#2ee840"/><stop offset="0.362" stop-color="#20ec84"/><stop offset="0.409" stop-color="#20f4e0"/><stop offset="0.436" stop-color="#41f6e7"/><stop offset="0.456" stop-color="#53f7eb"/><stop offset="0.477" stop-color="#5ef7ee"/><stop offset="0.497" stop-color="#61f8ee"/><stop offset="0.517" stop-color="#5df7ee"/><stop offset="0.537" stop-color="#53f7eb"/><stop offset="0.584" stop-color="#23f4e1"/><stop offset="0.591" stop-color="#20f4db"/><stop offset="0.631" stop-color="#20efa8"/><stop offset="0.664" stop-color="#20ec84"/><stop offset="0.698" stop-color="#28ea5c"/><stop offset="0.725" stop-color="#32e837"/><stop offset="0.758" stop-color="#4feb2c"/><stop offset="0.799" stop-color="#9cf21f"/><stop offset="0.805" stop-color="#acf31d"/><stop offset="0.846" stop-color="#f8ef18"/><stop offset="0.852" stop-color="#fae116"/><stop offset="0.859" stop-color="#f8f018"/><stop offset="0.872" stop-color="#fadb15"/><stop offset="0.913" stop-color="#feb711"/><stop offset="0.966" stop-color="#ff9d10"/><stop offset="1" stop-color="#ff9a10"/></linearGradient><linearGradient id="q41" x1="0" y1="0" x2="0" y2="1"><stop offset="0" stop-color="#d5f21a"/><stop offset="0.121" stop-color="#c4f31b"/><stop offset="0.174" stop-color="#b2f41c"/><stop offset="0.242" stop-color="#86f022"/><stop offset="0.282" stop-color="#5bec28"/><stop offset="0.315" stop-color="#39e935"/><stop offset="0.322" stop-color="#31e837"/><stop offset="0.329" stop-color="#2ee943"/><stop offset="0.356" stop-color="#21ec7b"/><stop offset="0.403" stop-color="#20f4dc"/><stop offset="0.436" stop-color="#49f6e9"/><stop offset="0.456" stop-color="#5bf7ed"/><stop offset="0.483" stop-color="#68f8f0"/><stop offset="0.503" stop-color="#68f8f0"/><stop offset="0.537" stop-color="#5af7ed"/><stop offset="0.591" stop-color="#21f4e0"/><stop offset="0.638" stop-color="#20efa4"/><stop offset="0.685" stop-color="#24eb6f"/><stop offset="0.718" stop-color="#2fe83b"/><stop offset="0.752" stop-color="#4ceb2d"/><stop offset="0.792" stop-color="#9ef21f"/><stop offset="0.805" stop-color="#bef31b"/><stop offset="0.832" stop-color="#f3f018"/><stop offset="0.839" stop-color="#f9e717"/><stop offset="0.846" stop-color="#f8ef18"/><stop offset="0.866" stop-color="#fbd314"/><stop offset="0.899" stop-color="#ffb210"/><stop offset="0.933" stop-color="#ff9f10"/><stop offset="0.953" stop-color="#ff9610"/><stop offset="1" stop-color="#ff9210"/></linearGradient><linearGradient id="q42" x1="0" y1="0" x2="0" y2="1"><stop offset="0" stop-color="#d7f21a"/><stop offset="0.121" stop-color="#c6f31b"/><stop offset="0.174" stop-color="#b4f41c"/><stop offset="0.242" stop-color="#87f022"/><stop offset="0.282" stop-color="#5bec28"/><stop offset="0.309" stop-color="#40ea32"/><stop offset="0.322" stop-color="#31e837"/><stop offset="0.329" stop-color="#2ee943"/><stop offset="0.356" stop-color="#21ec7b"/><stop offset="0.403" stop-color="#20f4dd"/><stop offset="0.436" stop-color="#49f6e9"/><stop offset="0.456" stop-color="#5bf7ed"/><stop offset="0.483" stop-color="#68f8f0"/><stop offset="0.503" stop-color="#67f7f0"/><stop offset="0.517" stop-color="#65f8ef"/><stop offset="0.537" stop-color="#5af7ed"/><stop offset="0.591" stop-color="#21f4e0"/><stop offset="0.638" stop-color="#20efa4"/><stop offset="0.678" stop-color="#22ec77"/><stop offset="0.718" stop-color="#32e837"/><stop offset="0.745" stop-color="#4beb2d"/><stop offset="0.779" stop-color="#92f120"/><stop offset="0.792" stop-color="#b5f41c"/><stop offset="0.826" stop-color="#f8ee18"/><stop offset="0.832" stop-color="#f8ef18"/><stop offset="0.852" stop-color="#fbd114"/><stop offset="0.886" stop-color="#ffaf10"/><stop offset="0.926" stop-color="#ff9510"/><stop offset="0.946" stop-color="#ff8b10"/><stop offset="1" stop-color="#ff8b10"/></linearGradient><linearGradient id="q43" x1="0" y1="0" x2="0" y2="1"><stop offset="0" stop-color="#d9f21a"/><stop offset="0.128" stop-color="#c6f31b"/><stop offset="0.181" stop-color="#b2f41c"/><stop offset="0.248" stop-color="#83f022"/><stop offset="0.289" stop-color="#56ec29"/><stop offset="0.315" stop-color="#3be934"/><stop offset="0.329" stop-color="#2fe83f"/><stop offset="0.362" stop-color="#20ec84"/><stop offset="0.409" stop-color="#21f4e0"/><stop offset="0.436" stop-color="#42f6e8"/><stop offset="0.456" stop-color="#54f7ec"/><stop offset="0.477" stop-color="#5ff7ee"/><stop offset="0.497" stop-color="#62f8ef"/><stop offset="0.517" stop-color="#5ff7ee"/><stop offset="0.537" stop-color="#54f7ec"/><stop offset="0.584" stop-color="#24f4e1"/><stop offset="0.591" stop-color="#20f4dc"/><stop offset="0.678" stop-color="#23eb73"/><stop offset="0.711" stop-color="#30e83a"/><stop offset="0.738" stop-color="#4aeb2e"/><stop offset="0.772" stop-color="#93f120"/><stop offset="0.785" stop-color="#b7f41c"/><stop offset="0.812" stop-color="#f1f018"/><stop offset="0.819" stop-color="#f9e717"/><stop offset="0.826" stop-color="#f9e817"/><stop offset="0.839" stop-color="#fbd314"/><stop offset="0.879" stop-color="#ffa810"/><stop offset="0.933" stop-color="#ff8210"/><stop offset="1" stop-color="#ff8310"/></linearGradient><linearGradient id="q44" x1="0" y1="0" x2="0" y2="1"><stop offset="0" stop-color="#dbf21a"/><stop offset="0.121" stop-color="#c9f31b"/><stop offset="0.181" stop-color="#b4f41c"/><stop offset="0.248" stop-color="#85f022"/><stop offset="0.289" stop-color="#59ec28"/><stop offset="0.322" stop-color="#38e935"/><stop offset="0.329" stop-color="#31e838"/><stop offset="0.362" stop-color="#21ec7a"/><stop offset="0.396" stop-color="#20f1bc"/><stop offset="0.416" stop-color="#20f4dd"/><stop offset="0.456" stop-color="#46f6e8"/><stop offset="0.477" stop-color="#51f7eb"/><stop offset="0.497" stop-color="#54f7ec"/><stop offset="0.53" stop-color="#4cf6ea"/><stop offset="0.577" stop-color="#22f4e0"/><stop offset="0.671" stop-color="#22ec78"/><stop offset="0.711" stop-color="#33e837"/><stop offset="0.732" stop-color="#48ea2f"/><stop offset="0.745" stop-color="#61ed27"/><stop offset="0.765" stop-color="#91f121"/><stop offset="0.779" stop-color="#b7f41c"/><stop offset="0.805" stop-color="#f3f018"/><stop offset="0.812" stop-color="#f9e517"/><stop offset="0.819" stop-color="#f9e316"/><stop offset="0.832" stop-color="#fcce14"/><stop offset="0.872" stop-color="#ffa310"/><stop offset="0.926" stop-color="#ff7810"/><stop offset="0.953" stop-color="#ff7410"/><stop offset="1" stop-color="#ff7c10"/></linearGradient><linearGradient id="q45" x1="0" y1="0" x2="0" y2="1"><stop offset="0" stop-color="#ddf21a"/><stop offset="0.128" stop-color="#caf31b"/><stop offset="0.188" stop-color="#b3f41c"/><stop offset="0.255" stop-color="#83f022"/><stop offset="0.295" stop-color="#57ec28"/><stop offset="0.329" stop-color="#37e935"/><stop offset="0.336" stop-color="#30e839"/><stop offset="0.376" stop-color="#20ec85"/><stop offset="0.416" stop-color="#20f2c9"/><stop offset="0.436" stop-color="#22f4e0"/><stop offset="0.456" stop-color="#32f5e4"/><stop offset="0.483" stop-color="#3ff6e7"/><stop offset="0.51" stop-color="#40f6e7"/><stop offset="0.537" stop-color="#36f5e5"/><stop offset="0.564" stop-color="#21f4e0"/><stop offset="0.658" stop-color="#20ec7f"/><stop offset="0.671" stop-color="#23eb71"/><stop offset="0.705" stop-color="#30e838"/><stop offset="0.732" stop-color="#4deb2c"/><stop offset="0.758" stop-color="#8cf121"/><stop offset="0.772" stop-color="#b2f41c"/><stop offset="0.799" stop-color="#f0f018"/><stop offset="0.805" stop-color="#f9e817"/><stop offset="0.866" stop-color="#ffa110"/><stop offset="0.919" stop-color="#ff6e10"/><stop offset="0.953" stop-color="#ff6810"/><stop offset="1" stop-color="#ff7510"/></linearGradient><linearGradient id="q46" x1="0" y1="0" x2="0" y2="1"><stop offset="0" stop-color="#dff119"/><stop offset="0.128" stop-color="#ccf31b"/><stop offset="0.195" stop-color="#b2f41c"/><stop offset="0.255" stop-color="#88f022"/><stop offset="0.302" stop-color="#56ec29"/><stop offset="0.342" stop-color="#31e838"/><stop offset="0.383" stop-color="#21ec7d"/><stop offset="0.409" stop-color="#20efa8"/><stop offset="0.443" stop-color="#20f3ce"/><stop offset="0.47" stop-color="#22f4e0"/><stop offset="0.503" stop-color="#29f5e2"/><stop offset="0.544" stop-color="#20f4dd"/><stop offset="0.644" stop-color="#20ec82"/><stop offset="0.664" stop-color="#23eb72"/><stop offset="0.698" stop-color="#2fe83c"/><stop offset="0.725" stop-color="#49eb2e"/><stop offset="0.738" stop-color="#65ed26"/><stop offset="0.758" stop-color="#97f120"/><stop offset="0.772" stop-color="#bef31b"/><stop offset="0.792" stop-color="#edf119"/><stop offset="0.799" stop-color="#f9eb17"/><stop offset="0.826" stop-color="#fdc513"/><stop offset="0.919" stop-color="#ff6210"/><stop offset="0.953" stop-color="#fe5d11"/><stop offset="1" stop-color="#ff6f10"/></linearGradient><linearGradient id="q47" x1="0" y1="0" x2="0" y2="1"><stop offset="0" stop-color="#e1f119"/><stop offset="0.128" stop-color="#cef21a"/><stop offset="0.195" stop-color="#b5f41c"/><stop offset="0.255" stop-color="#8cf121"/><stop offset="0.309" stop-color="#56ec29"/><stop offset="0.349" stop-color="#34e837"/><stop offset="0.356" stop-color="#2fe83c"/><stop offset="0.396" stop-color="#21ec7b"/><stop offset="0.43" stop-color="#20efa4"/><stop offset="0.463" stop-color="#20f1c0"/><stop offset="0.497" stop-color="#20f2cc"/><stop offset="0.537" stop-color="#20f2c7"/><stop offset="0.631" stop-color="#20ec81"/><stop offset="0.664" stop-color="#25eb69"/><stop offset="0.691" stop-color="#2ee83f"/><stop offset="0.698" stop-color="#33e837"/><stop offset="0.725" stop-color="#51eb2b"/><stop offset="0.752" stop-color="#92f120"/><stop offset="0.765" stop-color="#b9f41c"/><stop offset="0.792" stop-color="#f8f018"/><stop offset="0.819" stop-color="#fdc613"/><stop offset="0.913" stop-color="#fe5d11"/><stop offset="0.933" stop-color="#fb5512"/><stop offset="0.953" stop-color="#fb5512"/><stop offset="1" stop-color="#ff6910"/></linearGradient><linearGradient id="q48" x1="0" y1="0" x2="0" y2="1"><stop offset="0" stop-color="#e3f119"/><stop offset="0.128" stop-color="#d0f21a"/><stop offset="0.201" stop-color="#b4f41c"/><stop offset="0.262" stop-color="#8bf021"/><stop offset="0.315" stop-color="#57ec28"/><stop offset="0.362" stop-color="#32e837"/><stop offset="0.389" stop-color="#28ea5a"/><stop offset="0.409" stop-color="#23eb74"/><stop offset="0.443" stop-color="#20ee93"/><stop offset="0.47" stop-color="#20efa5"/><stop offset="0.497" stop-color="#20f0ae"/><stop offset="0.537" stop-color="#20f0ac"/><stop offset="0.611" stop-color="#20ec81"/><stop offset="0.658" stop-color="#26eb65"/><stop offset="0.685" stop-color="#2ee841"/><stop offset="0.691" stop-color="#31e837"/><stop offset="0.718" stop-color="#4ceb2d"/><stop offset="0.725" stop-color="#59ec28"/><stop offset="0.745" stop-color="#8cf021"/><stop offset="0.758" stop-color="#b3f41c"/><stop offset="0.785" stop-color="#f3f018"/><stop offset="0.792" stop-color="#f9e416"/><stop offset="0.812" stop-color="#fdc713"/><stop offset="0.866" stop-color="#ff8d10"/><stop offset="0.899" stop-color="#ff6210"/><stop offset="0.913" stop-color="#fc5612"/><stop offset="0.933" stop-color="#f84d13"/><stop offset="0.946" stop-color="#f84d14"/><stop offset="0.966" stop-color="#fa5213"/><stop offset="1" stop-color="#ff6410"/></linearGradient><linearGradient id="q49" x1="0" y1="0" x2="0" y2="1"><stop offset="0" stop-color="#e4f119"/><stop offset="0.128" stop-color="#d1f21a"/><stop offset="0.208" stop-color="#b3f41c"/><stop offset="0.262" stop-color="#90f121"/><stop offset="0.322" stop-color="#5aec28"/><stop offset="0.383" stop-color="#2fe83b"/><stop offset="0.403" stop-color="#2aea54"/><stop offset="0.43" stop-color="#24eb6d"/><stop offset="0.456" stop-color="#20ec80"/><stop offset="0.483" stop-color="#20ed8d"/><stop offset="0.53" stop-color="#20ee94"/><stop offset="0.577" stop-color="#20ec82"/><stop offset="0.658" stop-color="#28ea5d"/><stop offset="0.671" stop-color="#2be94d"/><stop offset="0.685" stop-color="#30e838"/><stop offset="0.711" stop-color="#4aeb2e"/><stop offset="0.718" stop-color="#52eb2a"/><stop offset="0.725" stop-color="#61ed27"/><stop offset="0.745" stop-color="#94f120"/><stop offset="0.758" stop-color="#bbf41c"/><stop offset="0.785" stop-color="#f8ed18"/><stop offset="0.812" stop-color="#fdc312"/><stop offset="0.866" stop-color="#ff8910"/><stop offset="0.893" stop-color="#ff6510"/><stop offset="0.913" stop-color="#fa5213"/><stop offset="0.933" stop-color="#f74914"/><stop offset="0.946" stop-color="#f64815"/><stop offset="0.966" stop-color="#f94e13"/><stop offset="1" stop-color="#ff6110"/></linearGradient><linearGradient id="q50" x1="0" y1="0" x2="0" y2="1"><stop offset="0" stop-color="#e6f119"/><stop offset="0.128" stop-color="#d3f21a"/><stop offset="0.208" stop-color="#b5f41c"/><stop offset="0.262" stop-color="#95f120"/><stop offset="0.336" stop-color="#57ec28"/><stop offset="0.396" stop-color="#31e838"/><stop offset="0.403" stop-color="#2fe83e"/><stop offset="0.436" stop-color="#29ea59"/><stop offset="0.47" stop-color="#24eb6d"/><stop offset="0.503" stop-color="#22ec78"/><stop offset="0.537" stop-color="#21ec7b"/><stop offset="0.658" stop-color="#2aea55"/><stop offset="0.685" stop-color="#33e837"/><stop offset="0.718" stop-color="#56ec29"/><stop offset="0.745" stop-color="#99f220"/><stop offset="0.758" stop-color="#bff31b"/><stop offset="0.779" stop-color="#eff119"/><stop offset="0.785" stop-color="#f9e817"/><stop offset="0.805" stop-color="#fcc813"/><stop offset="0.866" stop-color="#ff8710"/><stop offset="0.893" stop-color="#ff6310"/><stop offset="0.913" stop-color="#f95113"/><stop offset="0.933" stop-color="#f64715"/><stop offset="0.946" stop-color="#f64615"/><stop offset="0.966" stop-color="#f84d14"/><stop offset="1" stop-color="#ff6010"/></linearGradient><linearGradient id="q51" x1="0" y1="0" x2="0" y2="1"><stop offset="0" stop-color="#e7f119"/><stop offset="0.128" stop-color="#d4f21a"/><stop offset="0.215" stop-color="#b4f41c"/><stop offset="0.262" stop-color="#98f220"/><stop offset="0.342" stop-color="#5aec28"/><stop offset="0.423" stop-color="#2fe83a"/><stop offset="0.483" stop-color="#28ea5b"/><stop offset="0.537" stop-color="#26eb67"/><stop offset="0.658" stop-color="#2be94f"/><stop offset="0.678" stop-color="#30e838"/><stop offset="0.685" stop-color="#35e936"/><stop offset="0.718" stop-color="#56ec29"/><stop offset="0.745" stop-color="#99f220"/><stop offset="0.758" stop-color="#bff31b"/><stop offset="0.779" stop-color="#eff119"/><stop offset="0.785" stop-color="#f9e817"/><stop offset="0.805" stop-color="#fcc713"/><stop offset="0.866" stop-color="#ff8710"/><stop offset="0.893" stop-color="#ff6410"/><stop offset="0.913" stop-color="#fa5213"/><stop offset="0.933" stop-color="#f74914"/><stop offset="0.946" stop-color="#f64815"/><stop offset="1" stop-color="#ff6010"/></linearGradient><linearGradient id="q52" x1="0" y1="0" x2="0" y2="1"><stop offset="0" stop-color="#e8f119"/><stop offset="0.128" stop-color="#d6f21a"/><stop offset="0.215" stop-color="#b5f41c"/><stop offset="0.262" stop-color="#9bf21f"/><stop offset="0.356" stop-color="#58ec28"/><stop offset="0.43" stop-color="#36e936"/><stop offset="0.45" stop-color="#30e839"/><stop offset="0.49" stop-color="#2ce94b"/><stop offset="0.53" stop-color="#29ea56"/><stop offset="0.57" stop-color="#2aea54"/><stop offset="0.658" stop-color="#2ce949"/><stop offset="0.671" stop-color="#2ee83f"/><stop offset="0.678" stop-color="#30e838"/><stop offset="0.718" stop-color="#53eb2a"/><stop offset="0.745" stop-color="#93f120"/><stop offset="0.758" stop-color="#b9f41c"/><stop offset="0.785" stop-color="#f8ef18"/><stop offset="0.792" stop-color="#fadf16"/><stop offset="0.812" stop-color="#fdc212"/><stop offset="0.866" stop-color="#ff8a10"/><stop offset="0.906" stop-color="#fd5a11"/><stop offset="0.926" stop-color="#f94f13"/><stop offset="0.946" stop-color="#f84c14"/><stop offset="1" stop-color="#ff6310"/></linearGradient><linearGradient id="q53" x1="0" y1="0" x2="0" y2="1"><stop offset="0" stop-color="#e9f119"/><stop offset="0.128" stop-color="#d6f21a"/><stop offset="0.215" stop-color="#b6f41c"/><stop offset="0.262" stop-color="#9ef21f"/><stop offset="0.362" stop-color="#5aec28"/><stop offset="0.403" stop-color="#47ea2f"/><stop offset="0.443" stop-color="#3ae934"/><stop offset="0.483" stop-color="#30e839"/><stop offset="0.537" stop-color="#2ce94a"/><stop offset="0.651" stop-color="#2de946"/><stop offset="0.664" stop-color="#2de944"/><stop offset="0.678" stop-color="#30e838"/><stop offset="0.725" stop-color="#58ec28"/><stop offset="0.752" stop-color="#9af21f"/><stop offset="0.765" stop-color="#bff31b"/><stop offset="0.785" stop-color="#eff119"/><stop offset="0.792" stop-color="#f9e817"/><stop offset="0.812" stop-color="#fdc713"/><stop offset="0.913" stop-color="#fd5c11"/><stop offset="0.933" stop-color="#fb5412"/><stop offset="0.953" stop-color="#fb5412"/><stop offset="1" stop-color="#ff6610"/></linearGradient><linearGradient id="q54" x1="0" y1="0" x2="0" y2="1"><stop offset="0" stop-color="#eaf119"/><stop offset="0.128" stop-color="#d7f21a"/><stop offset="0.221" stop-color="#b5f41c"/><stop offset="0.262" stop-color="#9ff21f"/><stop offset="0.376" stop-color="#57ec28"/><stop offset="0.43" stop-color="#43ea30"/><stop offset="0.51" stop-color="#30e838"/><stop offset="0.537" stop-color="#2ee840"/><stop offset="0.658" stop-color="#2ee942"/><stop offset="0.671" stop-color="#2ee840"/><stop offset="0.685" stop-color="#32e837"/><stop offset="0.725" stop-color="#52eb2a"/><stop offset="0.732" stop-color="#5dec27"/><stop offset="0.758" stop-color="#9ff21f"/><stop offset="0.765" stop-color="#b4f41c"/><stop offset="0.792" stop-color="#f4f018"/><stop offset="0.799" stop-color="#f9e316"/><stop offset="0.819" stop-color="#fdc312"/><stop offset="0.913" stop-color="#ff6310"/><stop offset="0.933" stop-color="#fd5c11"/><stop offset="0.953" stop-color="#fd5b11"/><stop offset="1" stop-color="#ff6a10"/></linearGradient><linearGradient id="q55" x1="0" y1="0" x2="0" y2="1"><stop offset="0" stop-color="#eaf119"/><stop offset="0.128" stop-color="#d7f21a"/><stop offset="0.221" stop-color="#b5f41c"/><stop offset="0.383" stop-color="#58ec28"/><stop offset="0.416" stop-color="#4ceb2d"/><stop offset="0.53" stop-color="#31e838"/><stop offset="0.664" stop-color="#2ee840"/><stop offset="0.691" stop-color="#35e836"/><stop offset="0.732" stop-color="#54ec2a"/><stop offset="0.758" stop-color="#93f120"/><stop offset="0.772" stop-color="#b9f41c"/><stop offset="0.799" stop-color="#f8f018"/><stop offset="0.805" stop-color="#fadf16"/><stop offset="0.826" stop-color="#fdc112"/><stop offset="0.859" stop-color="#ff9e10"/><stop offset="0.919" stop-color="#ff6910"/><stop offset="0.953" stop-color="#ff6310"/><stop offset="1" stop-color="#ff6f10"/></linearGradient><linearGradient id="q56" x1="0" y1="0" x2="0" y2="1"><stop offset="0" stop-color="#eaf119"/><stop offset="0.128" stop-color="#d7f21a"/><stop offset="0.221" stop-color="#b5f41c"/><stop offset="0.383" stop-color="#5bec28"/><stop offset="0.409" stop-color="#50eb2b"/><stop offset="0.53" stop-color="#34e837"/><stop offset="0.664" stop-color="#2fe83f"/><stop offset="0.691" stop-color="#33e837"/><stop offset="0.711" stop-color="#41ea31"/><stop offset="0.738" stop-color="#5aec28"/><stop offset="0.779" stop-color="#c0f31b"/><stop offset="0.799" stop-color="#f0f018"/><stop offset="0.805" stop-color="#f9e717"/><stop offset="0.812" stop-color="#fada15"/><stop offset="0.832" stop-color="#fdbe12"/><stop offset="0.866" stop-color="#ff9c10"/><stop offset="0.919" stop-color="#ff7210"/><stop offset="0.953" stop-color="#ff6c10"/><stop offset="1" stop-color="#ff7210"/></linearGradient><linearGradient id="q57" x1="0" y1="0" x2="0" y2="1"><stop offset="0" stop-color="#eaf119"/><stop offset="0.128" stop-color="#d7f21a"/><stop offset="0.221" stop-color="#b5f41c"/><stop offset="0.383" stop-color="#5cec27"/><stop offset="0.409" stop-color="#51eb2b"/><stop offset="0.53" stop-color="#35e836"/><stop offset="0.664" stop-color="#2fe83e"/><stop offset="0.691" stop-color="#33e837"/><stop offset="0.738" stop-color="#57ec28"/><stop offset="0.765" stop-color="#98f220"/><stop offset="0.779" stop-color="#bdf31b"/><stop offset="0.799" stop-color="#edf119"/><stop offset="0.805" stop-color="#f9eb17"/><stop offset="0.812" stop-color="#fadc15"/><stop offset="0.832" stop-color="#fdc012"/><stop offset="0.866" stop-color="#ff9e10"/><stop offset="0.919" stop-color="#ff7710"/><stop offset="0.953" stop-color="#ff7010"/><stop offset="1" stop-color="#ff7410"/></linearGradient><linearGradient id="q58" x1="0" y1="0" x2="0" y2="1"><stop offset="0" stop-color="#eaf119"/><stop offset="0.128" stop-color="#d7f21a"/><stop offset="0.221" stop-color="#b5f41c"/><stop offset="0.383" stop-color="#5cec27"/><stop offset="0.409" stop-color="#51eb2b"/><stop offset="0.53" stop-color="#35e836"/><stop offset="0.664" stop-color="#2fe83e"/><stop offset="0.691" stop-color="#33e837"/><stop offset="0.738" stop-color="#57ec28"/><stop offset="0.765" stop-color="#98f220"/><stop offset="0.779" stop-color="#bdf31b"/><stop offset="0.799" stop-color="#edf119"/><stop offset="0.805" stop-color="#f9eb17"/><stop offset="0.812" stop-color="#fadc15"/><stop offset="0.832" stop-color="#fdc012"/><stop offset="0.866" stop-color="#ff9e10"/><stop offset="0.919" stop-color="#ff7710"/><stop offset="0.953" stop-color="#ff7010"/><stop offset="1" stop-color="#ff7410"/></linearGradient></defs>
<rect width="448" height="252" fill="#fff"/>

<clipPath id="ca"><rect x="85.6" y="6.5" width="119.70000000000002" height="105.8"/></clipPath>
<g fill="none" stroke-linecap="round" stroke-linejoin="round" clip-path="url(#ca)">
<path d="M87.5 14.87 L88.99 14.79 L90.48 14.7 L91.97 14.58 L93.47 14.44 L94.96 14.27 L96.45 14.07 L97.94 13.81 L99.43 13.49 L100.92 13.09 L102.42 12.61 L103.91 12.02 L105.4 11.33 L106.89 10.57 L108.38 9.81 L109.87 9.26 L111.37 9.22 L112.86 10.09 L114.35 12.09 L115.84 14.98 L117.33 18.01 L118.82 20.31 L120.32 21.49 L121.81 21.67 L123.3 21.24 L124.79 20.53 L126.28 19.77 L127.77 19.07 L129.27 18.47 L130.76 17.97 L132.25 17.57 L133.74 17.25 L135.23 16.99 L136.72 16.79 L138.22 16.62 L139.71 16.49 L141.2 16.39 L142.69 16.3 L144.18 16.23 L145.67 16.18 L147.17 16.14 L148.66 16.1 L150.15 16.07 L151.64 16.05 L153.13 16.04 L154.62 16.03 L156.12 16.02 L157.61 16.01 L159.1 16.01 L160.59 16.01 L162.08 16.01 L163.57 16.02 L165.07 16.02 L166.56 16.03 L168.05 16.03 L169.54 16.04 L171.03 16.05 L172.52 16.06 L174.02 16.07 L175.51 16.08 L177 16.09 L178.49 16.1 L179.98 16.11 L181.47 16.12 L182.97 16.13 L184.46 16.15 L185.95 16.16 L187.44 16.17 L188.93 16.19 L190.42 16.2 L191.92 16.21 L193.41 16.23 L194.9 16.24 L196.39 16.25 L197.88 16.27 L199.37 16.28 L200.87 16.3 L202.36 16.31 L203.85 16.32 L205.34 16.34" stroke="#6cc8bc" stroke-width="3.8"/>
<path d="M87.5 14.87 L88.99 14.79 L90.48 14.7 L91.97 14.58 L93.47 14.44 L94.96 14.27 L96.45 14.07 L97.94 13.81 L99.43 13.49 L100.92 13.09 L102.42 12.61 L103.91 12.02 L105.4 11.33 L106.89 10.57 L108.38 9.81 L109.87 9.26 L111.37 9.22 L112.86 10.09 L114.35 12.09 L115.84 14.98 L117.33 18.01 L118.82 20.31 L120.32 21.49 L121.81 21.67 L123.3 21.24 L124.79 20.53 L126.28 19.77 L127.77 19.07 L129.27 18.47 L130.76 17.97 L132.25 17.57 L133.74 17.25 L135.23 16.99 L136.72 16.79 L138.22 16.62 L139.71 16.49 L141.2 16.39 L142.69 16.3 L144.18 16.23 L145.67 16.18 L147.17 16.14 L148.66 16.1 L150.15 16.07 L151.64 16.05 L153.13 16.04 L154.62 16.03 L156.12 16.02 L157.61 16.01 L159.1 16.01 L160.59 16.01 L162.08 16.01 L163.57 16.02 L165.07 16.02 L166.56 16.03 L168.05 16.03 L169.54 16.04 L171.03 16.05 L172.52 16.06 L174.02 16.07 L175.51 16.08 L177 16.09 L178.49 16.1 L179.98 16.11 L181.47 16.12 L182.97 16.13 L184.46 16.15 L185.95 16.16 L187.44 16.17 L188.93 16.19 L190.42 16.2 L191.92 16.21 L193.41 16.23 L194.9 16.24 L196.39 16.25 L197.88 16.27 L199.37 16.28 L200.87 16.3 L202.36 16.31 L203.85 16.32 L205.34 16.34" stroke="#1f8f88" stroke-width="2.2"/>
<path d="M87.5 14.87 L88.99 14.79 L90.48 14.7 L91.97 14.58 L93.47 14.44 L94.96 14.27 L96.45 14.07 L97.94 13.81 L99.43 13.49 L100.92 13.09 L102.42 12.61 L103.91 12.02 L105.4 11.33 L106.89 10.57 L108.38 9.81 L109.87 9.26 L111.37 9.22 L112.86 10.09 L114.35 12.09 L115.84 14.98 L117.33 18.01 L118.82 20.31 L120.32 21.49 L121.81 21.67 L123.3 21.24 L124.79 20.53 L126.28 19.77 L127.77 19.07 L129.27 18.47 L130.76 17.97 L132.25 17.57 L133.74 17.25 L135.23 16.99 L136.72 16.79 L138.22 16.62 L139.71 16.49 L141.2 16.39 L142.69 16.3 L144.18 16.23 L145.67 16.18 L147.17 16.14 L148.66 16.1 L150.15 16.07 L151.64 16.05 L153.13 16.04 L154.62 16.03 L156.12 16.02 L157.61 16.01 L159.1 16.01 L160.59 16.01 L162.08 16.01 L163.57 16.02 L165.07 16.02 L166.56 16.03 L168.05 16.03 L169.54 16.04 L171.03 16.05 L172.52 16.06 L174.02 16.07 L175.51 16.08 L177 16.09 L178.49 16.1 L179.98 16.11 L181.47 16.12 L182.97 16.13 L184.46 16.15 L185.95 16.16 L187.44 16.17 L188.93 16.19 L190.42 16.2 L191.92 16.21 L193.41 16.23 L194.9 16.24 L196.39 16.25 L197.88 16.27 L199.37 16.28 L200.87 16.3 L202.36 16.31 L203.85 16.32 L205.34 16.34" stroke="#e8201c" stroke-width="1.5" stroke-dasharray="4.5 3.6" stroke-linecap="butt"/>
<path d="M87.5 31.6 L90.67 31.51 L93.83 31.29 L97 30.96 L100.17 30.58 L103.33 29.95 L106.5 29.09 L109.67 28.22 L112.83 27.42 L116 27.2 L117 27.48 L117.66 27.9 L118.31 28.44 L118.97 29.23 L119.63 30.58 L120.29 32.13 L120.94 33.47 L121.6 34.74 L122.26 35.92 L122.91 36.92 L123.57 37.81 L124.23 38.35 L124.89 38.72 L125.54 38.77 L126.2 38.43 L126.86 37.96 L127.51 37.33 L128.17 36.61 L128.83 36.04 L129.49 35.54 L130.14 35.09 L130.8 34.7 L131.46 34.38 L132.11 34.08 L132.77 33.81 L133.43 33.58 L134.09 33.38 L134.74 33.19 L135.4 33 L136.06 32.83 L136.71 32.68 L137.37 32.55 L138.03 32.45 L138.69 32.38 L139.34 32.33 L140 32.28 L142 32.16 L147.75 31.95 L153.51 31.82 L159.26 31.71 L165.02 31.62 L170.77 31.53 L176.53 31.45 L182.28 31.37 L188.04 31.3 L193.79 31.23 L199.55 31.16 L205.3 31.1" stroke="#8ad8cc" stroke-width="3.7"/>
<path d="M87.5 31.6 L90.67 31.51 L93.83 31.29 L97 30.96 L100.17 30.58 L103.33 29.95 L106.5 29.09 L109.67 28.22 L112.83 27.42 L116 27.2 L117 27.48 L117.66 27.9 L118.31 28.44 L118.97 29.23 L119.63 30.58 L120.29 32.13 L120.94 33.47 L121.6 34.74 L122.26 35.92 L122.91 36.92 L123.57 37.81 L124.23 38.35 L124.89 38.72 L125.54 38.77 L126.2 38.43 L126.86 37.96 L127.51 37.33 L128.17 36.61 L128.83 36.04 L129.49 35.54 L130.14 35.09 L130.8 34.7 L131.46 34.38 L132.11 34.08 L132.77 33.81 L133.43 33.58 L134.09 33.38 L134.74 33.19 L135.4 33 L136.06 32.83 L136.71 32.68 L137.37 32.55 L138.03 32.45 L138.69 32.38 L139.34 32.33 L140 32.28 L142 32.16 L147.75 31.95 L153.51 31.82 L159.26 31.71 L165.02 31.62 L170.77 31.53 L176.53 31.45 L182.28 31.37 L188.04 31.3 L193.79 31.23 L199.55 31.16 L205.3 31.1" stroke="#36a498" stroke-width="2.2"/>
<path d="M87.5 31.6 L90.67 31.51 L93.83 31.29 L97 30.96 L100.17 30.58 L103.33 29.95 L106.5 29.09 L109.67 28.22 L112.83 27.42 L116 27.2 L117 27.48 L117.66 27.9 L118.31 28.44 L118.97 29.23 L119.63 30.58 L120.29 32.13 L120.94 33.47 L121.6 34.74 L122.26 35.92 L122.91 36.92 L123.57 37.81 L124.23 38.35 L124.89 38.72 L125.54 38.77 L126.2 38.43 L126.86 37.96 L127.51 37.33 L128.17 36.61 L128.83 36.04 L129.49 35.54 L130.14 35.09 L130.8 34.7 L131.46 34.38 L132.11 34.08 L132.77 33.81 L133.43 33.58 L134.09 33.38 L134.74 33.19 L135.4 33 L136.06 32.83 L136.71 32.68 L137.37 32.55 L138.03 32.45 L138.69 32.38 L139.34 32.33 L140 32.28 L142 32.16 L147.75 31.95 L153.51 31.82 L159.26 31.71 L165.02 31.62 L170.77 31.53 L176.53 31.45 L182.28 31.37 L188.04 31.3 L193.79 31.23 L199.55 31.16 L205.3 31.1" stroke="#e8201c" stroke-width="1.5" stroke-dasharray="4.5 3.6" stroke-linecap="butt"/>
<path d="M87.5 47.2 L89.33 46.92 L91.16 46.63 L92.99 46.33 L94.82 46.03 L96.65 45.71 L98.48 45.36 L100.31 45.02 L102.14 44.69 L103.97 44.4 L105.8 44.14 L107.62 43.9 L109.45 43.73 L111.28 43.65 L113.11 43.61 L114.94 43.64 L116.77 43.89 L118.6 44.28 L120.43 44.7 L122.26 45.24 L124.09 45.91 L125.92 46.65 L127.75 47.4 L129.58 48.14 L131.41 48.93 L133.24 49.74 L135.07 50.57 L136.9 51.44 L138.73 52.42 L140.56 53.39 L142.39 54.2 L144.22 54.77 L146.05 55.3 L147.88 55.68 L149.7 55.8 L151.53 55.68 L153.36 55.45 L155.19 55.17 L157.02 54.77 L158.85 54.24 L160.68 53.69 L162.51 53.17 L164.34 52.63 L166.17 52.07 L168 51.5" stroke="#f4f3b8" stroke-width="4"/>
<path d="M87.5 47.2 L89.33 46.92 L91.16 46.63 L92.99 46.33 L94.82 46.03 L96.65 45.71 L98.48 45.36 L100.31 45.02 L102.14 44.69 L103.97 44.4 L105.8 44.14 L107.62 43.9 L109.45 43.73 L111.28 43.65 L113.11 43.61 L114.94 43.64 L116.77 43.89 L118.6 44.28 L120.43 44.7 L122.26 45.24 L124.09 45.91 L125.92 46.65 L127.75 47.4 L129.58 48.14 L131.41 48.93 L133.24 49.74 L135.07 50.57 L136.9 51.44 L138.73 52.42 L140.56 53.39 L142.39 54.2 L144.22 54.77 L146.05 55.3 L147.88 55.68 L149.7 55.8 L151.53 55.68 L153.36 55.45 L155.19 55.17 L157.02 54.77 L158.85 54.24 L160.68 53.69 L162.51 53.17 L164.34 52.63 L166.17 52.07 L168 51.5" stroke="#e8201c" stroke-width="1.5" stroke-dasharray="4.5 3.6" stroke-linecap="butt"/>
<path d="M87.5 77.35 L88.9 77.26 L90.3 77.16 L91.69 77.03 L93.09 76.88 L94.49 76.7 L95.89 76.48 L97.29 76.22 L98.68 75.88 L100.08 75.47 L101.48 74.95 L102.88 74.3 L104.28 73.47 L105.67 72.42 L107.07 71.1 L108.47 69.47 L109.87 67.54 L111.26 65.44 L112.66 63.57 L114.06 62.75 L115.46 64.24 L116.86 69.06 L118.25 76.76 L119.65 84.9 L121.05 90.71 L122.45 93.11 L123.85 92.83 L125.24 91.16 L126.64 89.07 L128.04 87.07 L129.44 85.34 L130.84 83.94 L132.23 82.81 L133.63 81.93 L135.03 81.23 L136.43 80.67 L137.83 80.23 L139.22 79.88 L140.62 79.59 L142.02 79.36 L143.42 79.17 L144.82 79.01 L146.21 78.88 L147.61 78.77 L149.01 78.67 L150.41 78.6 L151.81 78.53 L153.2 78.47 L154.6 78.42 L156 78.38" stroke="#84e8d0" stroke-width="4.2"/>
<path d="M87.5 77.35 L88.9 77.26 L90.3 77.16 L91.69 77.03 L93.09 76.88 L94.49 76.7 L95.89 76.48 L97.29 76.22 L98.68 75.88 L100.08 75.47 L101.48 74.95 L102.88 74.3 L104.28 73.47 L105.67 72.42 L107.07 71.1 L108.47 69.47 L109.87 67.54 L111.26 65.44 L112.66 63.57 L114.06 62.75 L115.46 64.24 L116.86 69.06 L118.25 76.76 L119.65 84.9 L121.05 90.71 L122.45 93.11 L123.85 92.83 L125.24 91.16 L126.64 89.07 L128.04 87.07 L129.44 85.34 L130.84 83.94 L132.23 82.81 L133.63 81.93 L135.03 81.23 L136.43 80.67 L137.83 80.23 L139.22 79.88 L140.62 79.59 L142.02 79.36 L143.42 79.17 L144.82 79.01 L146.21 78.88 L147.61 78.77 L149.01 78.67 L150.41 78.6 L151.81 78.53 L153.2 78.47 L154.6 78.42 L156 78.38" stroke="#2cc4a6" stroke-width="2.2"/>
<path d="M87.5 77.35 L88.9 77.26 L90.3 77.16 L91.69 77.03 L93.09 76.88 L94.49 76.7 L95.89 76.48 L97.29 76.22 L98.68 75.88 L100.08 75.47 L101.48 74.95 L102.88 74.3 L104.28 73.47 L105.67 72.42 L107.07 71.1 L108.47 69.47 L109.87 67.54 L111.26 65.44 L112.66 63.57 L114.06 62.75 L115.46 64.24 L116.86 69.06 L118.25 76.76 L119.65 84.9 L121.05 90.71 L122.45 93.11 L123.85 92.83 L125.24 91.16 L126.64 89.07 L128.04 87.07 L129.44 85.34 L130.84 83.94 L132.23 82.81 L133.63 81.93 L135.03 81.23 L136.43 80.67 L137.83 80.23 L139.22 79.88 L140.62 79.59 L142.02 79.36 L143.42 79.17 L144.82 79.01 L146.21 78.88 L147.61 78.77 L149.01 78.67 L150.41 78.6 L151.81 78.53 L153.2 78.47 L154.6 78.42 L156 78.38" stroke="#e8201c" stroke-width="1.5" stroke-dasharray="4.5 3.6" stroke-linecap="butt"/>
<path d="M87.5 104.5 L88.9 104.39 L90.3 104.26 L91.69 104.1 L93.09 103.92 L94.49 103.71 L95.89 103.46 L97.29 103.15 L98.68 102.8 L100.08 102.38 L101.48 101.89 L102.88 101.34 L104.28 100.75 L105.67 100.15 L107.07 99.63 L108.47 99.32 L109.87 99.42 L111.26 100.1 L112.66 101.51 L114.06 103.57 L115.46 105.97 L116.86 108.23 L118.25 109.95 L119.65 110.96 L121.05 111.3 L122.45 111.14 L123.85 110.7 L125.24 110.12 L126.64 109.52 L128.04 108.95 L129.44 108.43 L130.84 107.98 L132.23 107.6 L133.63 107.27 L135.03 107 L136.43 106.77 L137.83 106.57 L139.22 106.41 L140.62 106.27 L142.02 106.15 L143.42 106.05 L144.82 105.97 L146.21 105.89 L147.61 105.83 L149.01 105.77 L150.41 105.72 L151.81 105.68 L153.2 105.65 L154.6 105.61 L156 105.59" stroke="#3aa8a0" stroke-width="4"/>
<path d="M87.5 104.5 L88.9 104.39 L90.3 104.26 L91.69 104.1 L93.09 103.92 L94.49 103.71 L95.89 103.46 L97.29 103.15 L98.68 102.8 L100.08 102.38 L101.48 101.89 L102.88 101.34 L104.28 100.75 L105.67 100.15 L107.07 99.63 L108.47 99.32 L109.87 99.42 L111.26 100.1 L112.66 101.51 L114.06 103.57 L115.46 105.97 L116.86 108.23 L118.25 109.95 L119.65 110.96 L121.05 111.3 L122.45 111.14 L123.85 110.7 L125.24 110.12 L126.64 109.52 L128.04 108.95 L129.44 108.43 L130.84 107.98 L132.23 107.6 L133.63 107.27 L135.03 107 L136.43 106.77 L137.83 106.57 L139.22 106.41 L140.62 106.27 L142.02 106.15 L143.42 106.05 L144.82 105.97 L146.21 105.89 L147.61 105.83 L149.01 105.77 L150.41 105.72 L151.81 105.68 L153.2 105.65 L154.6 105.61 L156 105.59" stroke="#167c7c" stroke-width="2.2"/>
<path d="M87.5 104.5 L88.9 104.39 L90.3 104.26 L91.69 104.1 L93.09 103.92 L94.49 103.71 L95.89 103.46 L97.29 103.15 L98.68 102.8 L100.08 102.38 L101.48 101.89 L102.88 101.34 L104.28 100.75 L105.67 100.15 L107.07 99.63 L108.47 99.32 L109.87 99.42 L111.26 100.1 L112.66 101.51 L114.06 103.57 L115.46 105.97 L116.86 108.23 L118.25 109.95 L119.65 110.96 L121.05 111.3 L122.45 111.14 L123.85 110.7 L125.24 110.12 L126.64 109.52 L128.04 108.95 L129.44 108.43 L130.84 107.98 L132.23 107.6 L133.63 107.27 L135.03 107 L136.43 106.77 L137.83 106.57 L139.22 106.41 L140.62 106.27 L142.02 106.15 L143.42 106.05 L144.82 105.97 L146.21 105.89 L147.61 105.83 L149.01 105.77 L150.41 105.72 L151.81 105.68 L153.2 105.65 L154.6 105.61 L156 105.59" stroke="#e8201c" stroke-width="1.5" stroke-dasharray="4.5 3.6" stroke-linecap="butt"/>
</g>
<circle cx="156.4" cy="78" r="1.5" fill="#fff" stroke="#3fd0ae" stroke-width="0.7"/>
<text x="93" y="23.2" class="s" style="font-size:5.6px">0°</text>
<text x="93" y="37.4" class="s" style="font-size:5.6px">60°</text>
<text x="93" y="54.5" class="s" style="font-size:5.6px">90°</text>
<text x="92.5" y="83.5" class="s" style="font-size:5.6px">120°</text>
<text x="92.5" y="100" class="s" style="font-size:5.6px">180°</text>
<rect x="85.6" y="6.5" width="119.7" height="105.8" fill="none" stroke="#000" stroke-width="1.6"/>
<path d="M87.5 112.3v-2.6M97.34 112.3v-1.6M107.18 112.3v-2.6M117.02 112.3v-1.6M126.86 112.3v-2.6M136.7 112.3v-1.6M146.54 112.3v-2.6M156.38 112.3v-1.6M166.22 112.3v-2.6M176.06 112.3v-1.6M185.9 112.3v-2.6M195.74 112.3v-1.6" stroke="#000" stroke-width="0.9" fill="none"/>
<text x="87.5" y="121.2" class="t" text-anchor="middle" style="font-size:6.6px">0</text>
<text x="107.18" y="121.2" class="t" text-anchor="middle" style="font-size:6.6px">2</text>
<text x="126.86" y="121.2" class="t" text-anchor="middle" style="font-size:6.6px">4</text>
<text x="146.54" y="121.2" class="t" text-anchor="middle" style="font-size:6.6px">6</text>
<text x="166.22" y="121.2" class="t" text-anchor="middle" style="font-size:6.6px">8</text>
<text x="185.9" y="121.2" class="t" text-anchor="middle" style="font-size:6.6px">10</text>
<text x="205.58" y="121.2" class="t" text-anchor="middle" style="font-size:6.6px">12</text>
<text x="145.7" y="128" class="ax" text-anchor="middle" style="font-size:8.1px">H (kOe)</text>
<text transform="translate(74.8 62.1) rotate(-90)" class="ax" text-anchor="middle" style="font-size:8.5px">dP/dH (a. u.)</text>
<text transform="translate(58.2 13.9) scale(1 1.07)" class="pl">(a)</text>
<path d="M150.6 39.2h6.4M162.4 39.2h2.6" stroke="#e8201c" stroke-width="1.6" fill="none"/>
<text x="166.6" y="41.2" class="t" style="font-size:6.1px">Lorentzain fit</text>
<circle cx="157.8" cy="47.2" r="1.7" fill="#eefaf6" stroke="#a8e0d0" stroke-width="0.8"/>
<text x="166.6" y="49.2" class="t" style="font-size:6.1px">exp.date</text>
<g>
<polygon points="167.5,71.3 182.2,57 189.3,58.4 173.8,73.2" fill="#ececec"/>
<polygon points="167.5,71.3 173.8,73.2 173.8,109.2 167.5,107.8" fill="#d6d6d6"/>
<polygon points="173.8,73.2 189.3,58.4 189.3,93.2 173.8,109.2" fill="url(#gs)"/>
<path d="M163.9 97.3V76" stroke="#8ee070" stroke-width="1.4" fill="none"/><polygon points="163.9,72 162,77 165.8,77" fill="#7edb5c"/>
<text x="163.9" y="69.3" text-anchor="middle" style="font-size:6.9px;fill:#5fd04a">H</text>
<path d="M184.2 85V70.5M184.2 85H193.5M184.2 85L178.6 90" stroke="#0a1a6a" stroke-width="1.4" fill="none"/>
<polygon points="184.2,66.6 182.2,71.6 186.2,71.6" fill="#0a1a6a"/>
<polygon points="197,85 192.4,83 192.4,87" fill="#0a1a6a"/>
<polygon points="175.8,92.2 180.8,91.2 177.6,87.8" fill="#0a1a6a"/>
<path d="M184.2 85L198 72" stroke="#d8202a" stroke-width="1.4" fill="none"/>
<polygon points="200.6,69.4 195.4,71.2 198.4,74.4" fill="#d8202a"/>
<path d="M184.2 79q3 0.4 4.2 2.2" stroke="#d8202a" stroke-width="0.7" fill="none"/>
<text x="187.3" y="79.3" style="font-size:6px;fill:#d8202a">θ</text>
<text x="185.8" y="71" class="s" style="font-size:7px;font-weight:normal">b</text>
<text x="194.6" y="94.8" class="s" style="font-size:7px;font-weight:normal">c</text>
<text x="175.6" y="99" class="s" style="font-size:7px;font-weight:normal">a</text>
<text transform="translate(174.3 72) rotate(90)" style="font-size:4.6px;">ab-plane</text>
</g>
<path d="M145.4 136.5V232.6" stroke="#55e04a" stroke-width="1" stroke-dasharray="1.6 1.6" fill="none"/>
<path d="M91.4 166.11 L92.6 166.39 L93.8 167.21 L95 168.49 L96.2 170.11 L97.39 171.94 L98.59 173.82 L99.79 175.65 L100.99 177.32 L102.19 178.77 L103.39 179.98 L104.59 180.93 L105.79 181.65 L106.98 182.17 L108.18 182.52 L109.38 182.75 L110.58 182.88 L111.78 182.93 L112.98 182.92 L114.18 182.85 L115.38 182.73 L116.57 182.56 L117.77 182.31 L118.97 181.98 L120.17 181.55 L121.37 181 L122.57 180.32 L123.77 179.46 L124.97 178.43 L126.17 177.2 L127.36 175.75 L128.56 174.08 L129.76 172.2 L130.96 170.11 L132.16 167.84 L133.36 165.42 L134.56 162.91 L135.76 160.37 L136.95 157.86 L138.15 155.46 L139.35 153.26 L140.55 151.33 L141.75 149.74 L142.95 148.56 L144.15 147.83 L145.35 147.58 L146.54 147.77 L147.74 148.33 L148.94 149.24 L150.14 150.47 L151.34 152 L152.54 153.76 L153.74 155.72 L154.94 157.82 L156.14 160 L157.33 162.22 L158.53 164.43 L159.73 166.58 L160.93 168.64 L162.13 170.58 L163.33 172.38 L164.53 174.02 L165.73 175.49 L166.92 176.79 L168.12 177.92 L169.32 178.89 L170.52 179.71 L171.72 180.39 L172.92 180.92 L174.12 181.33 L175.32 181.62 L176.51 181.79 L177.71 181.84 L178.91 181.77 L180.11 181.57 L181.31 181.23 L182.51 180.75 L183.71 180.11 L184.91 179.32 L186.11 178.37 L187.3 177.28 L188.5 176.07 L189.7 174.76 L190.9 173.4 L192.1 172.05 L193.3 170.75 L194.5 169.58 L195.7 168.6 L196.89 167.85 L198.09 167.38 L199.29 167.22" stroke="#e8201c" stroke-width="1.3" stroke-dasharray="3.8 2.4" fill="none"/>
<circle cx="91.25" cy="164.75" r="1.7" fill="#6a30b4"/>
<circle cx="97.5" cy="173.5" r="1.7" fill="#6a30b4"/>
<circle cx="103" cy="179" r="1.7" fill="#6a30b4"/>
<circle cx="109" cy="180.5" r="1.7" fill="#6a30b4"/>
<circle cx="115" cy="179.75" r="1.7" fill="#6a30b4"/>
<circle cx="121" cy="177" r="1.7" fill="#6a30b4"/>
<circle cx="127" cy="172" r="1.7" fill="#6a30b4"/>
<circle cx="133" cy="161.75" r="1.7" fill="#6a30b4"/>
<circle cx="139" cy="143.5" r="1.7" fill="#6a30b4"/>
<circle cx="145" cy="139.75" r="1.7" fill="#6a30b4"/>
<circle cx="151" cy="154" r="1.7" fill="#6a30b4"/>
<circle cx="157" cy="169.75" r="1.7" fill="#6a30b4"/>
<circle cx="163" cy="176" r="1.7" fill="#6a30b4"/>
<circle cx="169" cy="179" r="1.7" fill="#6a30b4"/>
<circle cx="175" cy="180.5" r="1.7" fill="#6a30b4"/>
<circle cx="181" cy="179" r="1.7" fill="#6a30b4"/>
<circle cx="187.3" cy="173.5" r="1.7" fill="#6a30b4"/>
<circle cx="193" cy="168" r="1.7" fill="#6a30b4"/>
<circle cx="199" cy="167.75" r="1.7" fill="#6a30b4"/>
<path d="M91.4 226.4 L92.6 226.42 L93.8 226.35 L95 226.21 L96.2 225.98 L97.39 225.67 L98.59 225.28 L99.79 224.81 L100.99 224.27 L102.19 223.65 L103.39 222.96 L104.59 222.21 L105.79 221.39 L106.98 220.52 L108.18 219.59 L109.38 218.61 L110.58 217.58 L111.78 216.51 L112.98 215.41 L114.18 214.28 L115.38 213.12 L116.57 211.94 L117.77 210.76 L118.97 209.56 L120.17 208.36 L121.37 207.17 L122.57 205.99 L123.77 204.82 L124.97 203.67 L126.17 202.56 L127.36 201.47 L128.56 200.42 L129.76 199.42 L130.96 198.46 L132.16 197.56 L133.36 196.71 L134.56 195.92 L135.76 195.2 L136.95 194.55 L138.15 193.97 L139.35 193.46 L140.55 193.03 L141.75 192.68 L142.95 192.42 L144.15 192.23 L145.35 192.12 L146.54 192.1 L147.74 192.17 L148.94 192.31 L150.14 192.54 L151.34 192.85 L152.54 193.24 L153.74 193.71 L154.94 194.25 L156.14 194.87 L157.33 195.56 L158.53 196.31 L159.73 197.13 L160.93 198 L162.13 198.93 L163.33 199.91 L164.53 200.94 L165.73 202.01 L166.92 203.11 L168.12 204.24 L169.32 205.4 L170.52 206.58 L171.72 207.76 L172.92 208.96 L174.12 210.16 L175.32 211.35 L176.51 212.53 L177.71 213.7 L178.91 214.85 L180.11 215.96 L181.31 217.05 L182.51 218.1 L183.71 219.1 L184.91 220.06 L186.11 220.96 L187.3 221.81 L188.5 222.6 L189.7 223.32 L190.9 223.97 L192.1 224.55 L193.3 225.06 L194.5 225.49 L195.7 225.84 L196.89 226.1 L198.09 226.29 L199.29 226.4" stroke="#e8201c" stroke-width="1.3" stroke-dasharray="3.8 2.4" fill="none"/>
<circle cx="92" cy="227" r="1.65" fill="#f516e6"/>
<circle cx="103.4" cy="219" r="1.65" fill="#f516e6"/>
<circle cx="115" cy="213.7" r="1.65" fill="#f516e6"/>
<circle cx="127" cy="200.5" r="1.65" fill="#f516e6"/>
<circle cx="163.4" cy="200" r="1.65" fill="#f516e6"/>
<circle cx="175" cy="208" r="1.65" fill="#f516e6"/>
<circle cx="187" cy="223.7" r="1.65" fill="#f516e6"/>
<circle cx="199.2" cy="229.6" r="1.65" fill="#f516e6"/>
<rect x="85.5" y="136.5" width="119.8" height="96.1" fill="none" stroke="#000" stroke-width="1.2"/>
<path d="M85.5 184.8H205.3" stroke="#000" stroke-width="1.2" fill="none"/>
<path d="M91.4 232.6v-2.4M91.4 186.5v-3.4M97.39 232.6v-1.4M97.39 186.5v-3.4M103.39 232.6v-1.4M103.39 186.5v-3.4M109.38 232.6v-2.4M109.38 186.5v-3.4M115.38 232.6v-1.4M115.38 186.5v-3.4M121.37 232.6v-1.4M121.37 186.5v-3.4M127.36 232.6v-2.4M127.36 186.5v-3.4M133.36 232.6v-1.4M133.36 186.5v-3.4M139.35 232.6v-1.4M139.35 186.5v-3.4M145.35 232.6v-2.4M145.35 186.5v-3.4M151.34 232.6v-1.4M151.34 186.5v-3.4M157.33 232.6v-1.4M157.33 186.5v-3.4M163.33 232.6v-2.4M163.33 186.5v-3.4M169.32 232.6v-1.4M169.32 186.5v-3.4M175.32 232.6v-1.4M175.32 186.5v-3.4M181.31 232.6v-2.4M181.31 186.5v-3.4M187.3 232.6v-1.4M187.3 186.5v-3.4M193.3 232.6v-1.4M193.3 186.5v-3.4M199.29 232.6v-2.4M199.29 186.5v-3.4M85.5 181.5h2.6M85.5 170.9h2.6M85.5 160.3h2.6M85.5 149.7h2.6M85.5 139.1h2.6M85.5 176.2h1.5M85.5 165.6h1.5M85.5 155h1.5M85.5 144.4h1.5M85.5 229.6h2.6M85.5 218.95h2.6M85.5 208.3h2.6M85.5 197.65h2.6M85.5 187h2.6M85.5 224.28h1.5M85.5 213.62h1.5M85.5 202.97h1.5M85.5 192.32h1.5" stroke="#000" stroke-width="0.8" fill="none"/>
<text x="91.4" y="240.6" class="t" text-anchor="middle" style="font-size:7px">0</text>
<text x="109.38" y="240.6" class="t" text-anchor="middle" style="font-size:7px">30</text>
<text x="127.36" y="240.6" class="t" text-anchor="middle" style="font-size:7px">60</text>
<text x="145.35" y="240.6" class="t" text-anchor="middle" style="font-size:7px">90</text>
<text x="163.33" y="240.6" class="t" text-anchor="middle" style="font-size:7px">120</text>
<text x="181.31" y="240.6" class="t" text-anchor="middle" style="font-size:7px">150</text>
<text x="199.29" y="240.6" class="t" text-anchor="middle" style="font-size:7px">180</text>
<text x="82.8" y="183.1" class="t" text-anchor="end" style="font-size:5.6px">1</text>
<text x="82.8" y="173.1" class="t" text-anchor="end" style="font-size:6.8px">2</text>
<text x="82.8" y="162.5" class="t" text-anchor="end" style="font-size:6.8px">3</text>
<text x="82.8" y="151.9" class="t" text-anchor="end" style="font-size:6.8px">4</text>
<text x="82.8" y="141.5" class="t" text-anchor="end" style="font-size:5.6px">5</text>
<text x="82.8" y="231.8" class="t" text-anchor="end" style="font-size:6.8px">3</text>
<text x="82.8" y="221.15" class="t" text-anchor="end" style="font-size:6.8px">4</text>
<text x="82.8" y="210.5" class="t" text-anchor="end" style="font-size:6.8px">5</text>
<text x="82.8" y="199.85" class="t" text-anchor="end" style="font-size:6.8px">6</text>
<text x="82.8" y="189" class="t" text-anchor="end" style="font-size:5.6px">7</text>
<text x="145.2" y="249.2" class="t" text-anchor="middle" style="font-size:7.2px">θ (deg.)</text>
<text transform="translate(76.6 185.2) rotate(-90)" class="t" text-anchor="middle" style="font-size:7.6px">ΔH (kOe)</text>
<text transform="translate(57.6 135.9) scale(1 1.07)" class="pl">(d)</text>
<text x="94.5" y="145" class="s" style="font-size:5.1px">T = 210 K</text>
<text x="93.4" y="194.8" class="s" style="font-size:5.1px">T = 160 K</text>
<text transform="translate(88.6 210.7) scale(1 1.18)" class="t" style="font-size:6.6px">H//ab</text>
<text transform="translate(130.6 214.3) scale(1 1.18)" class="t" style="font-size:6.6px">H//c</text>
<g clip-path="url(#cb)"><g filter="url(#hx)"><rect x="243.5" y="7" width="2.6" height="104.5" fill="url(#p0)"/><rect x="245.5" y="7" width="2.6" height="104.5" fill="url(#p1)"/><rect x="247.5" y="7" width="2.6" height="104.5" fill="url(#p2)"/><rect x="249.5" y="7" width="2.6" height="104.5" fill="url(#p3)"/><rect x="251.5" y="7" width="2.6" height="104.5" fill="url(#p4)"/><rect x="253.5" y="7" width="2.6" height="104.5" fill="url(#p5)"/><rect x="255.5" y="7" width="2.6" height="104.5" fill="url(#p6)"/><rect x="257.5" y="7" width="2.6" height="104.5" fill="url(#p7)"/><rect x="259.5" y="7" width="2.6" height="104.5" fill="url(#p8)"/><rect x="261.5" y="7" width="2.6" height="104.5" fill="url(#p9)"/><rect x="263.5" y="7" width="2.6" height="104.5" fill="url(#p10)"/><rect x="265.5" y="7" width="2.6" height="104.5" fill="url(#p11)"/><rect x="267.5" y="7" width="2.6" height="104.5" fill="url(#p12)"/><rect x="269.5" y="7" width="2.6" height="104.5" fill="url(#p13)"/><rect x="271.5" y="7" width="2.6" height="104.5" fill="url(#p14)"/><rect x="273.5" y="7" width="2.6" height="104.5" fill="url(#p15)"/><rect x="275.5" y="7" width="2.6" height="104.5" fill="url(#p16)"/><rect x="277.5" y="7" width="2.6" height="104.5" fill="url(#p17)"/><rect x="279.5" y="7" width="2.6" height="104.5" fill="url(#p18)"/><rect x="281.5" y="7" width="2.6" height="104.5" fill="url(#p19)"/><rect x="283.5" y="7" width="2.6" height="104.5" fill="url(#p20)"/><rect x="285.5" y="7" width="2.6" height="104.5" fill="url(#p21)"/><rect x="287.5" y="7" width="2.6" height="104.5" fill="url(#p22)"/><rect x="289.5" y="7" width="2.6" height="104.5" fill="url(#p23)"/><rect x="291.5" y="7" width="2.6" height="104.5" fill="url(#p24)"/><rect x="293.5" y="7" width="2.6" height="104.5" fill="url(#p25)"/><rect x="295.5" y="7" width="2.6" height="104.5" fill="url(#p26)"/><rect x="297.5" y="7" width="2.6" height="104.5" fill="url(#p27)"/><rect x="299.5" y="7" width="2.6" height="104.5" fill="url(#p28)"/><rect x="301.5" y="7" width="2.6" height="104.5" fill="url(#p29)"/><rect x="303.5" y="7" width="2.6" height="104.5" fill="url(#p30)"/><rect x="305.5" y="7" width="2.6" height="104.5" fill="url(#p31)"/><rect x="307.5" y="7" width="2.6" height="104.5" fill="url(#p32)"/><rect x="309.5" y="7" width="2.6" height="104.5" fill="url(#p33)"/><rect x="311.5" y="7" width="2.6" height="104.5" fill="url(#p34)"/><rect x="313.5" y="7" width="2.6" height="104.5" fill="url(#p35)"/><rect x="315.5" y="7" width="2.6" height="104.5" fill="url(#p36)"/><rect x="317.5" y="7" width="2.6" height="104.5" fill="url(#p37)"/><rect x="319.5" y="7" width="2.6" height="104.5" fill="url(#p38)"/><rect x="321.5" y="7" width="2.6" height="104.5" fill="url(#p39)"/><rect x="323.5" y="7" width="2.6" height="104.5" fill="url(#p40)"/><rect x="325.5" y="7" width="2.6" height="104.5" fill="url(#p41)"/><rect x="327.5" y="7" width="2.6" height="104.5" fill="url(#p42)"/><rect x="329.5" y="7" width="2.6" height="104.5" fill="url(#p43)"/><rect x="331.5" y="7" width="2.6" height="104.5" fill="url(#p44)"/><rect x="333.5" y="7" width="2.6" height="104.5" fill="url(#p45)"/><rect x="335.5" y="7" width="2.6" height="104.5" fill="url(#p46)"/><rect x="337.5" y="7" width="2.6" height="104.5" fill="url(#p47)"/><rect x="339.5" y="7" width="2.6" height="104.5" fill="url(#p48)"/><rect x="341.5" y="7" width="2.6" height="104.5" fill="url(#p49)"/><rect x="343.5" y="7" width="2.6" height="104.5" fill="url(#p50)"/><rect x="345.5" y="7" width="2.6" height="104.5" fill="url(#p51)"/><rect x="347.5" y="7" width="2.6" height="104.5" fill="url(#p52)"/><rect x="349.5" y="7" width="2.6" height="104.5" fill="url(#p53)"/><rect x="351.5" y="7" width="2.6" height="104.5" fill="url(#p54)"/><rect x="353.5" y="7" width="2.6" height="104.5" fill="url(#p55)"/><rect x="355.5" y="7" width="2.6" height="104.5" fill="url(#p56)"/><rect x="357.5" y="7" width="2.6" height="104.5" fill="url(#p57)"/><rect x="359.5" y="7" width="2.6" height="104.5" fill="url(#p58)"/></g></g>
<path d="M248 69.6H357" stroke="#808080" stroke-width="1.1" stroke-dasharray="4 2.4" fill="none"/>
<text x="294.8" y="76.8" class="t" style="fill:#8a8a8a;font-size:6.8px">g = 2.0</text>
<path d="M302.6 8.6V110.5" stroke="#1a2ee0" stroke-width="1.5" stroke-dasharray="5.4 5" fill="none"/>
<path d="M247.5 71.6 L248.72 71.77 L249.95 71.96 L251.17 72.17 L252.39 72.42 L253.62 72.7 L254.84 73.1 L256.06 73.62 L257.29 74.18 L258.51 74.67 L259.73 75 L260.96 75.21 L262.18 75.4 L263.4 75.56 L264.63 75.66 L265.85 75.7 L267.07 75.66 L268.3 75.56 L269.52 75.4 L270.74 75.21 L271.97 75 L273.19 74.71 L274.41 74.3 L275.64 73.79 L276.86 73.22 L278.08 72.6 L279.31 71.9 L280.53 71.08 L281.75 70.15 L282.98 69.11 L284.2 68 L285.42 66.72 L286.65 65.23 L287.87 63.61 L289.09 61.94 L290.32 60.3 L291.54 58.54 L292.76 56.61 L293.99 54.72 L295.21 53.11 L296.43 52 L297.66 51.22 L298.88 50.51 L300.1 49.94 L301.33 49.54 L302.55 49.4 L303.77 49.6 L305 50.13 L306.22 50.9 L307.44 51.82 L308.67 52.8 L309.89 54.1 L311.11 55.86 L312.34 57.86 L313.56 59.85 L314.78 61.6 L316.01 63.13 L317.23 64.62 L318.45 66.03 L319.68 67.33 L320.9 68.5 L322.12 69.57 L323.35 70.57 L324.57 71.49 L325.79 72.31 L327.02 73 L328.24 73.62 L329.46 74.2 L330.69 74.72 L331.91 75.13 L333.13 75.4 L334.36 75.59 L335.58 75.75 L336.8 75.88 L338.03 75.97 L339.25 76 L340.47 75.95 L341.7 75.83 L342.92 75.65 L344.14 75.43 L345.37 75.2 L346.59 74.88 L347.81 74.44 L349.04 73.96 L350.26 73.52 L351.48 73.2 L352.71 72.99 L353.93 72.81 L355.15 72.65 L356.38 72.51 L357.6 72.4" stroke="#e8201c" stroke-width="1.7" stroke-dasharray="5 3" fill="none" clip-path="url(#cb)"/>
<g clip-path="url(#cb)" fill="#7458d4" stroke="#5a3ab0" stroke-width="0.5">
<circle cx="247.5" cy="71.6" r="1.55"/>
<circle cx="253.62" cy="72.7" r="1.55"/>
<circle cx="259.73" cy="75" r="1.55"/>
<circle cx="265.85" cy="75.7" r="1.55"/>
<circle cx="271.97" cy="75" r="1.55"/>
<circle cx="278.08" cy="72.6" r="1.55"/>
<circle cx="284.2" cy="68" r="1.55"/>
<circle cx="290.32" cy="60.3" r="1.55"/>
<circle cx="296.43" cy="52" r="1.55"/>
<circle cx="302.55" cy="49.4" r="1.55"/>
<circle cx="308.67" cy="52.8" r="1.55"/>
<circle cx="314.78" cy="61.6" r="1.55"/>
<circle cx="320.9" cy="68.5" r="1.55"/>
<circle cx="327.02" cy="73" r="1.55"/>
<circle cx="333.13" cy="75.4" r="1.55"/>
<circle cx="339.25" cy="76" r="1.55"/>
<circle cx="345.37" cy="75.2" r="1.55"/>
<circle cx="351.48" cy="73.2" r="1.55"/>
<circle cx="357.6" cy="72.4" r="1.55"/>
</g>
<path d="M315 33.3L304 43" stroke="#7090e0" stroke-width="0.5" fill="none"/>
<path d="M328.6 54.4L319 60.3" stroke="#e8201c" stroke-width="0.9" fill="none"/><polygon points="317.2,61.4 321.2,60.6 319.8,58.2" fill="#e8201c"/>
<text x="253.6" y="21.3" class="ax" style="font-size:8.7px">T=210 K</text>
<text x="314.2" y="29.9" class="ax" style="font-size:9px;fill:#1420e6">hard axis</text>
<text x="291.5" y="45.2" class="t" style="fill:#f020d0;font-size:7.4px">H<tspan dy="1.7" style="font-size:4.6px">r1</tspan></text>
<text transform="translate(321.7 51.1) scale(1 1.12)" class="t" style="fill:#e8201c;font-size:6.5px">Fitted</text>
<rect x="247.4" y="7.75" width="109.9" height="102.75" fill="none" stroke="#000" stroke-width="1.2"/>
<path d="M247.4 110.5v-2.5M265.72 110.5v-2.5M284.04 110.5v-2.5M302.35 110.5v-2.5M320.67 110.5v-2.5M338.99 110.5v-2.5M357.31 110.5v-2.5M256.56 110.5v-1.5M274.88 110.5v-1.5M293.19 110.5v-1.5M311.51 110.5v-1.5M329.83 110.5v-1.5M348.15 110.5v-1.5M247.4 110.5h2.6M247.4 97.66h1.5M247.4 84.82h2.6M247.4 71.98h1.5M247.4 59.14h2.6M247.4 46.3h1.5M247.4 33.46h2.6M247.4 20.62h1.5M247.4 7.78h2.6" stroke="#000" stroke-width="0.8" fill="none"/>
<text x="247.4" y="118.9" class="t" text-anchor="middle" style="font-size:6.6px">0</text>
<text x="265.72" y="118.9" class="t" text-anchor="middle" style="font-size:6.6px">30</text>
<text x="284.04" y="118.9" class="t" text-anchor="middle" style="font-size:6.6px">60</text>
<text x="302.35" y="118.9" class="t" text-anchor="middle" style="font-size:6.6px">90</text>
<text x="320.67" y="118.9" class="t" text-anchor="middle" style="font-size:6.6px">120</text>
<text x="338.99" y="118.9" class="t" text-anchor="middle" style="font-size:6.6px">150</text>
<text x="357.31" y="118.9" class="t" text-anchor="middle" style="font-size:6.6px">180</text>
<text x="244.6" y="112.1" class="t" text-anchor="end" style="font-size:5.0px">0</text>
<text x="244.6" y="86.92" class="t" text-anchor="end" style="font-size:6.3px">2</text>
<text x="244.6" y="61.24" class="t" text-anchor="end" style="font-size:6.3px">4</text>
<text x="244.6" y="35.56" class="t" text-anchor="end" style="font-size:6.3px">6</text>
<text x="244.6" y="10.38" class="t" text-anchor="end" style="font-size:5.2px">8</text>
<text x="302.3" y="128" class="ax" text-anchor="middle" style="font-size:9px">θ (deg.)</text>
<text transform="translate(237.5 60.3) rotate(-90)" class="ax" text-anchor="middle" style="font-size:8.5px">H (kOe)</text>
<text transform="translate(218.3 14.8) scale(1 1.07)" class="pl">(b)</text>
<rect x="362.2" y="25" width="9" height="81.3" fill="url(#gb)"/>
<text x="360.6" y="22.4" class="ax" style="font-size:8.8px">dH/dP</text>
<path d="M371.2 26.4h1.5" stroke="#70c0e0" stroke-width="0.4"/>
<text x="374.6" y="27.6" style="font-size:3.7px;fill:#444">3×10⁸</text>
<path d="M371.2 36.31h1.5" stroke="#70c0e0" stroke-width="0.4"/>
<text x="374.6" y="37.51" style="font-size:3.7px;fill:#444">2×10⁸</text>
<path d="M371.2 46.22h1.5" stroke="#70c0e0" stroke-width="0.4"/>
<text x="374.6" y="47.42" style="font-size:3.7px;fill:#444">1×10⁸</text>
<path d="M371.2 56.13h1.5" stroke="#70c0e0" stroke-width="0.4"/>
<text x="374.6" y="57.33" style="font-size:3.7px;fill:#444">6×10⁷</text>
<path d="M371.2 66.04h1.5" stroke="#70c0e0" stroke-width="0.4"/>
<text x="374.6" y="67.24" style="font-size:3.7px;fill:#444">-4×10⁷</text>
<path d="M371.2 75.95h1.5" stroke="#70c0e0" stroke-width="0.4"/>
<text x="374.6" y="77.15" style="font-size:3.7px;fill:#444">-1×10⁸</text>
<path d="M371.2 85.86h1.5" stroke="#70c0e0" stroke-width="0.4"/>
<text x="374.6" y="87.06" style="font-size:3.7px;fill:#444">-2×10⁸</text>
<path d="M371.2 95.77h1.5" stroke="#70c0e0" stroke-width="0.4"/>
<text x="374.6" y="96.97" style="font-size:3.7px;fill:#444">-3×10⁸</text>
<path d="M371.2 105.68h1.5" stroke="#70c0e0" stroke-width="0.4"/>
<text x="374.6" y="106.88" style="font-size:3.7px;fill:#444">-5×10⁸</text>
<g clip-path="url(#cc)"><g filter="url(#hx)"><rect x="243.5" y="130" width="2.6" height="103.5" fill="url(#q0)"/><rect x="245.5" y="130" width="2.6" height="103.5" fill="url(#q1)"/><rect x="247.5" y="130" width="2.6" height="103.5" fill="url(#q2)"/><rect x="249.5" y="130" width="2.6" height="103.5" fill="url(#q3)"/><rect x="251.5" y="130" width="2.6" height="103.5" fill="url(#q4)"/><rect x="253.5" y="130" width="2.6" height="103.5" fill="url(#q5)"/><rect x="255.5" y="130" width="2.6" height="103.5" fill="url(#q6)"/><rect x="257.5" y="130" width="2.6" height="103.5" fill="url(#q7)"/><rect x="259.5" y="130" width="2.6" height="103.5" fill="url(#q8)"/><rect x="261.5" y="130" width="2.6" height="103.5" fill="url(#q9)"/><rect x="263.5" y="130" width="2.6" height="103.5" fill="url(#q10)"/><rect x="265.5" y="130" width="2.6" height="103.5" fill="url(#q11)"/><rect x="267.5" y="130" width="2.6" height="103.5" fill="url(#q12)"/><rect x="269.5" y="130" width="2.6" height="103.5" fill="url(#q13)"/><rect x="271.5" y="130" width="2.6" height="103.5" fill="url(#q14)"/><rect x="273.5" y="130" width="2.6" height="103.5" fill="url(#q15)"/><rect x="275.5" y="130" width="2.6" height="103.5" fill="url(#q16)"/><rect x="277.5" y="130" width="2.6" height="103.5" fill="url(#q17)"/><rect x="279.5" y="130" width="2.6" height="103.5" fill="url(#q18)"/><rect x="281.5" y="130" width="2.6" height="103.5" fill="url(#q19)"/><rect x="283.5" y="130" width="2.6" height="103.5" fill="url(#q20)"/><rect x="285.5" y="130" width="2.6" height="103.5" fill="url(#q21)"/><rect x="287.5" y="130" width="2.6" height="103.5" fill="url(#q22)"/><rect x="289.5" y="130" width="2.6" height="103.5" fill="url(#q23)"/><rect x="291.5" y="130" width="2.6" height="103.5" fill="url(#q24)"/><rect x="293.5" y="130" width="2.6" height="103.5" fill="url(#q25)"/><rect x="295.5" y="130" width="2.6" height="103.5" fill="url(#q26)"/><rect x="297.5" y="130" width="2.6" height="103.5" fill="url(#q27)"/><rect x="299.5" y="130" width="2.6" height="103.5" fill="url(#q28)"/><rect x="301.5" y="130" width="2.6" height="103.5" fill="url(#q29)"/><rect x="303.5" y="130" width="2.6" height="103.5" fill="url(#q30)"/><rect x="305.5" y="130" width="2.6" height="103.5" fill="url(#q31)"/><rect x="307.5" y="130" width="2.6" height="103.5" fill="url(#q32)"/><rect x="309.5" y="130" width="2.6" height="103.5" fill="url(#q33)"/><rect x="311.5" y="130" width="2.6" height="103.5" fill="url(#q34)"/><rect x="313.5" y="130" width="2.6" height="103.5" fill="url(#q35)"/><rect x="315.5" y="130" width="2.6" height="103.5" fill="url(#q36)"/><rect x="317.5" y="130" width="2.6" height="103.5" fill="url(#q37)"/><rect x="319.5" y="130" width="2.6" height="103.5" fill="url(#q38)"/><rect x="321.5" y="130" width="2.6" height="103.5" fill="url(#q39)"/><rect x="323.5" y="130" width="2.6" height="103.5" fill="url(#q40)"/><rect x="325.5" y="130" width="2.6" height="103.5" fill="url(#q41)"/><rect x="327.5" y="130" width="2.6" height="103.5" fill="url(#q42)"/><rect x="329.5" y="130" width="2.6" height="103.5" fill="url(#q43)"/><rect x="331.5" y="130" width="2.6" height="103.5" fill="url(#q44)"/><rect x="333.5" y="130" width="2.6" height="103.5" fill="url(#q45)"/><rect x="335.5" y="130" width="2.6" height="103.5" fill="url(#q46)"/><rect x="337.5" y="130" width="2.6" height="103.5" fill="url(#q47)"/><rect x="339.5" y="130" width="2.6" height="103.5" fill="url(#q48)"/><rect x="341.5" y="130" width="2.6" height="103.5" fill="url(#q49)"/><rect x="343.5" y="130" width="2.6" height="103.5" fill="url(#q50)"/><rect x="345.5" y="130" width="2.6" height="103.5" fill="url(#q51)"/><rect x="347.5" y="130" width="2.6" height="103.5" fill="url(#q52)"/><rect x="349.5" y="130" width="2.6" height="103.5" fill="url(#q53)"/><rect x="351.5" y="130" width="2.6" height="103.5" fill="url(#q54)"/><rect x="353.5" y="130" width="2.6" height="103.5" fill="url(#q55)"/><rect x="355.5" y="130" width="2.6" height="103.5" fill="url(#q56)"/><rect x="357.5" y="130" width="2.6" height="103.5" fill="url(#q57)"/><rect x="359.5" y="130" width="2.6" height="103.5" fill="url(#q58)"/></g></g>
<path d="M302.6 133V232.7" stroke="#1a2ee0" stroke-width="1.4" stroke-dasharray="5.4 4.8" fill="none"/>
<path d="M247.5 213.44 L248.72 213.44 L249.95 213.44 L251.17 213.45 L252.39 213.45 L253.62 213.46 L254.84 213.47 L256.06 213.48 L257.29 213.5 L258.51 213.51 L259.73 213.52 L260.96 213.58 L262.18 213.71 L263.4 213.9 L264.63 214.14 L265.85 214.42 L267.07 214.73 L268.3 215.05 L269.52 215.38 L270.74 215.7 L271.97 216 L273.19 216.3 L274.41 216.61 L275.64 216.93 L276.86 217.27 L278.08 217.61 L279.31 217.97 L280.53 218.33 L281.75 218.7 L282.98 219.08 L284.2 219.46 L285.42 219.87 L286.65 220.31 L287.87 220.78 L289.09 221.25 L290.32 221.7 L291.54 222.12 L292.76 222.48 L293.99 222.79 L295.21 223.09 L296.43 223.39 L297.66 223.68 L298.88 223.93 L300.1 224.13 L301.33 224.26 L302.55 224.31 L303.77 224.27 L305 224.15 L306.22 223.97 L307.44 223.74 L308.67 223.49 L309.89 223.21 L311.11 222.94 L312.34 222.67 L313.56 222.37 L314.78 222.03 L316.01 221.66 L317.23 221.27 L318.45 220.85 L319.68 220.41 L320.9 219.96 L322.12 219.45 L323.35 218.87 L324.57 218.22 L325.79 217.54 L327.02 216.84 L328.24 216.16 L329.46 215.51 L330.69 214.92 L331.91 214.4 L333.13 213.99 L334.36 213.64 L335.58 213.28 L336.8 212.94 L338.03 212.61 L339.25 212.31 L340.47 212.04 L341.7 211.82 L342.92 211.65 L344.14 211.54 L345.37 211.5 L346.59 211.56 L347.81 211.7 L349.04 211.93 L350.26 212.2 L351.48 212.51 L352.71 212.83 L353.93 213.13 L355.15 213.41 L356.38 213.63 L357.6 213.78" stroke="#e8201c" stroke-width="1.8" stroke-dasharray="5.2 3" fill="none" clip-path="url(#cc)"/>
<g clip-path="url(#cc)" fill="#f516e6">
<circle cx="259.7" cy="214.3" r="2"/>
<circle cx="272" cy="216.3" r="2"/>
<circle cx="284" cy="218.6" r="2"/>
<circle cx="320.6" cy="220.6" r="2"/>
<circle cx="332.9" cy="213.4" r="2"/>
<circle cx="345.2" cy="211.6" r="2"/>
<circle cx="356.7" cy="214.5" r="2"/>
</g>
<path d="M316.5 190.5L307 201.6" stroke="#3050e0" stroke-width="0.5" fill="none"/><polygon points="306.3,202.6 308.6,201 307,199.8" fill="#3050e0"/>
<path d="M321.7 211.3L315 218" stroke="#e8201c" stroke-width="0.9" fill="none"/><polygon points="313.6,219.4 317.4,218 315.4,216" fill="#e8201c"/>
<text x="254.8" y="146" class="ax" style="font-size:8.8px">T=160 K</text>
<text x="315" y="187.9" class="ax" style="font-size:8.7px;fill:#1420e6">easy axis</text>
<text transform="translate(312.6 174.3) rotate(-90)" class="ax" style="font-size:8.9px;fill:#1420e6">c-direction</text>
<text x="272.2" y="211.1" class="t" style="fill:#f020d0;font-size:7.4px">H<tspan dy="1.7" style="font-size:4.6px">r1</tspan></text>
<text transform="translate(318.2 210) scale(1 1.12)" class="t" style="fill:#e8201c;font-size:6.5px">Fitted</text>
<rect x="247.4" y="130.6" width="109.9" height="102.1" fill="none" stroke="#000" stroke-width="1.2"/>
<path d="M247.4 232.7v-2.5M265.72 232.7v-2.5M284.04 232.7v-2.5M302.35 232.7v-2.5M320.67 232.7v-2.5M338.99 232.7v-2.5M357.31 232.7v-2.5M256.56 232.7v-1.5M274.88 232.7v-1.5M293.19 232.7v-1.5M311.51 232.7v-1.5M329.83 232.7v-1.5M348.15 232.7v-1.5M247.4 232.7h2.6M247.4 215.68h1.5M247.4 198.66h2.6M247.4 181.64h1.5M247.4 164.62h2.6M247.4 147.6h1.5M247.4 130.58h2.6" stroke="#000" stroke-width="0.8" fill="none"/>
<text x="247.4" y="241.3" class="t" text-anchor="middle" style="font-size:6.6px">0</text>
<text x="265.72" y="241.3" class="t" text-anchor="middle" style="font-size:6.6px">30</text>
<text x="284.04" y="241.3" class="t" text-anchor="middle" style="font-size:6.6px">60</text>
<text x="302.35" y="241.3" class="t" text-anchor="middle" style="font-size:6.6px">90</text>
<text x="320.67" y="241.3" class="t" text-anchor="middle" style="font-size:6.6px">120</text>
<text x="338.99" y="241.3" class="t" text-anchor="middle" style="font-size:6.6px">150</text>
<text x="357.31" y="241.3" class="t" text-anchor="middle" style="font-size:6.6px">180</text>
<text x="244.6" y="234.7" class="t" text-anchor="end" style="font-size:5.2px">0</text>
<text x="244.6" y="200.76" class="t" text-anchor="end" style="font-size:6.3px">2</text>
<text x="244.6" y="166.72" class="t" text-anchor="end" style="font-size:6.3px">4</text>
<text x="244.6" y="132.58" class="t" text-anchor="end" style="font-size:5.6px">6</text>
<text x="305.2" y="249.7" class="ax" text-anchor="middle" style="font-size:9px">θ (deg.)</text>
<text transform="translate(237.5 181) rotate(-90)" class="ax" text-anchor="middle" style="font-size:8.5px">H (kOe)</text>
<text transform="translate(220.3 133.5) scale(1 1.07)" class="pl">(c)</text>
<rect x="361.2" y="151.1" width="9.1" height="78.6" fill="url(#gc)"/>
<text x="362.2" y="146.4" class="ax" style="font-size:8.8px">dP/dH</text>
<path d="M370.3 153.5h1.5" stroke="#70c0e0" stroke-width="0.4"/>
<text x="373.6" y="154.7" style="font-size:3.7px;fill:#444">4.9×10⁷</text>
<path d="M370.3 162.9h1.5" stroke="#70c0e0" stroke-width="0.4"/>
<text x="373.6" y="164.1" style="font-size:3.7px;fill:#444">4.3×10⁷</text>
<path d="M370.3 172.3h1.5" stroke="#70c0e0" stroke-width="0.4"/>
<text x="373.6" y="173.5" style="font-size:3.7px;fill:#444">1.7×10⁷</text>
<path d="M370.3 181.7h1.5" stroke="#70c0e0" stroke-width="0.4"/>
<text x="373.6" y="182.9" style="font-size:3.7px;fill:#444">-9.8×10⁶</text>
<path d="M370.3 191.1h1.5" stroke="#70c0e0" stroke-width="0.4"/>
<text x="373.6" y="192.3" style="font-size:3.7px;fill:#444">-3.6×10⁷</text>
<path d="M370.3 200.5h1.5" stroke="#70c0e0" stroke-width="0.4"/>
<text x="373.6" y="201.7" style="font-size:3.7px;fill:#444">-6.2×10⁷</text>
<path d="M370.3 209.9h1.5" stroke="#70c0e0" stroke-width="0.4"/>
<text x="373.6" y="211.1" style="font-size:3.7px;fill:#444">-8.9×10⁷</text>
<path d="M370.3 219.3h1.5" stroke="#70c0e0" stroke-width="0.4"/>
<text x="373.6" y="220.5" style="font-size:3.7px;fill:#444">-1.1×10⁸</text>
<path d="M370.3 228.7h1.5" stroke="#70c0e0" stroke-width="0.4"/>
<text x="373.6" y="229.9" style="font-size:3.7px;fill:#444">-1.8×10⁸</text>
</svg></body></html>
